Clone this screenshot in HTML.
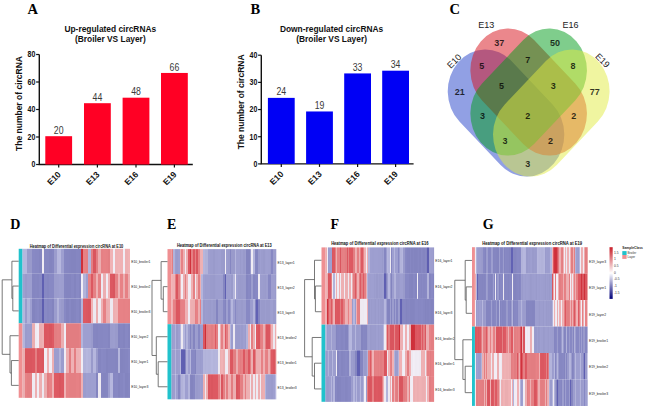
<!DOCTYPE html><html><head><meta charset="utf-8"><style>html,body{margin:0;padding:0;background:#fff;width:645px;height:410px;overflow:hidden}svg{display:block}</style></head><body><svg width="645" height="410" viewBox="0 0 645 410">
<rect width="645" height="410" fill="#fff"/>
<text x="27.40" y="13.80" font-family="Liberation Serif, serif" font-size="14.5" font-weight="bold" text-anchor="start" fill="#000">A</text>
<text x="110.30" y="32.40" font-family="Liberation Sans, sans-serif" font-size="8.4" font-weight="bold" text-anchor="middle" fill="#111">Up-regulated circRNAs</text>
<text x="110.30" y="42.20" font-family="Liberation Sans, sans-serif" font-size="8.4" font-weight="bold" text-anchor="middle" fill="#111">(Broiler VS Layer)</text>
<text transform="translate(19.3 103.5) rotate(-90)" x="0" y="3" font-family="Liberation Sans, sans-serif" font-size="8.5" font-weight="bold" text-anchor="middle" fill="#111">The number of circRNA</text>
<path d="M39.3 54.5 V164.5 H192.8" fill="none" stroke="#111" stroke-width="1.4"/>
<path d="M36.099999999999994 164.50 H39.3" stroke="#111" stroke-width="1.2"/>
<text x="35.30" y="167.40" font-family="Liberation Sans, sans-serif" font-size="8.2" font-weight="bold" text-anchor="end" fill="#111" textLength="3.9" lengthAdjust="spacingAndGlyphs">0</text>
<path d="M36.099999999999994 137.00 H39.3" stroke="#111" stroke-width="1.2"/>
<text x="35.30" y="139.90" font-family="Liberation Sans, sans-serif" font-size="8.2" font-weight="bold" text-anchor="end" fill="#111" textLength="7.8" lengthAdjust="spacingAndGlyphs">20</text>
<path d="M36.099999999999994 109.50 H39.3" stroke="#111" stroke-width="1.2"/>
<text x="35.30" y="112.40" font-family="Liberation Sans, sans-serif" font-size="8.2" font-weight="bold" text-anchor="end" fill="#111" textLength="7.8" lengthAdjust="spacingAndGlyphs">40</text>
<path d="M36.099999999999994 82.00 H39.3" stroke="#111" stroke-width="1.2"/>
<text x="35.30" y="84.90" font-family="Liberation Sans, sans-serif" font-size="8.2" font-weight="bold" text-anchor="end" fill="#111" textLength="7.8" lengthAdjust="spacingAndGlyphs">60</text>
<path d="M36.099999999999994 54.50 H39.3" stroke="#111" stroke-width="1.2"/>
<text x="35.30" y="57.40" font-family="Liberation Sans, sans-serif" font-size="8.2" font-weight="bold" text-anchor="end" fill="#111" textLength="7.8" lengthAdjust="spacingAndGlyphs">80</text>
<rect x="45.3" y="136.20" width="26.8" height="28.30" fill="#ff0024"/>
<text x="58.70" y="133.80" font-family="Liberation Sans, sans-serif" font-size="10.2" font-weight="normal" text-anchor="middle" fill="#3a3a3a" textLength="9.7" lengthAdjust="spacingAndGlyphs">20</text>
<path d="M58.70 164.5 V167.5" stroke="#111" stroke-width="1.2"/>
<rect x="84.0" y="103.20" width="26.8" height="61.30" fill="#ff0024"/>
<text x="97.40" y="100.80" font-family="Liberation Sans, sans-serif" font-size="10.2" font-weight="normal" text-anchor="middle" fill="#3a3a3a" textLength="9.7" lengthAdjust="spacingAndGlyphs">44</text>
<path d="M97.40 164.5 V167.5" stroke="#111" stroke-width="1.2"/>
<rect x="122.6" y="97.70" width="26.8" height="66.80" fill="#ff0024"/>
<text x="136.00" y="95.30" font-family="Liberation Sans, sans-serif" font-size="10.2" font-weight="normal" text-anchor="middle" fill="#3a3a3a" textLength="9.7" lengthAdjust="spacingAndGlyphs">48</text>
<path d="M136.00 164.5 V167.5" stroke="#111" stroke-width="1.2"/>
<rect x="161.0" y="72.95" width="26.8" height="91.55" fill="#ff0024"/>
<text x="174.40" y="70.55" font-family="Liberation Sans, sans-serif" font-size="10.2" font-weight="normal" text-anchor="middle" fill="#3a3a3a" textLength="9.7" lengthAdjust="spacingAndGlyphs">66</text>
<path d="M174.40 164.5 V167.5" stroke="#111" stroke-width="1.2"/>
<text transform="translate(59.30 172.8) rotate(-45)" x="0" y="3.1" font-family="Liberation Sans, sans-serif" font-size="8.6" font-weight="bold" text-anchor="end" fill="#111">E10</text>
<text transform="translate(98.00 172.8) rotate(-45)" x="0" y="3.1" font-family="Liberation Sans, sans-serif" font-size="8.6" font-weight="bold" text-anchor="end" fill="#111">E13</text>
<text transform="translate(136.60 172.8) rotate(-45)" x="0" y="3.1" font-family="Liberation Sans, sans-serif" font-size="8.6" font-weight="bold" text-anchor="end" fill="#111">E16</text>
<text transform="translate(175.00 172.8) rotate(-45)" x="0" y="3.1" font-family="Liberation Sans, sans-serif" font-size="8.6" font-weight="bold" text-anchor="end" fill="#111">E19</text>
<text x="250.60" y="14.00" font-family="Liberation Serif, serif" font-size="14.5" font-weight="bold" text-anchor="start" fill="#000">B</text>
<text x="331.60" y="32.40" font-family="Liberation Sans, sans-serif" font-size="8.4" font-weight="bold" text-anchor="middle" fill="#111">Down-regulated circRNAs</text>
<text x="331.60" y="42.20" font-family="Liberation Sans, sans-serif" font-size="8.4" font-weight="bold" text-anchor="middle" fill="#111">(Broiler VS Layer)</text>
<text transform="translate(241.0 101.9) rotate(-90)" x="0" y="3" font-family="Liberation Sans, sans-serif" font-size="8.5" font-weight="bold" text-anchor="middle" fill="#111">The number of circRNA</text>
<path d="M261.3 55.2 V163.9 H413.6" fill="none" stroke="#111" stroke-width="1.4"/>
<path d="M258.1 163.90 H261.3" stroke="#111" stroke-width="1.2"/>
<text x="257.30" y="166.80" font-family="Liberation Sans, sans-serif" font-size="8.2" font-weight="bold" text-anchor="end" fill="#111" textLength="3.9" lengthAdjust="spacingAndGlyphs">0</text>
<path d="M258.1 136.72 H261.3" stroke="#111" stroke-width="1.2"/>
<text x="257.30" y="139.62" font-family="Liberation Sans, sans-serif" font-size="8.2" font-weight="bold" text-anchor="end" fill="#111" textLength="7.8" lengthAdjust="spacingAndGlyphs">10</text>
<path d="M258.1 109.55 H261.3" stroke="#111" stroke-width="1.2"/>
<text x="257.30" y="112.45" font-family="Liberation Sans, sans-serif" font-size="8.2" font-weight="bold" text-anchor="end" fill="#111" textLength="7.8" lengthAdjust="spacingAndGlyphs">20</text>
<path d="M258.1 82.38 H261.3" stroke="#111" stroke-width="1.2"/>
<text x="257.30" y="85.28" font-family="Liberation Sans, sans-serif" font-size="8.2" font-weight="bold" text-anchor="end" fill="#111" textLength="7.8" lengthAdjust="spacingAndGlyphs">30</text>
<path d="M258.1 55.20 H261.3" stroke="#111" stroke-width="1.2"/>
<text x="257.30" y="58.10" font-family="Liberation Sans, sans-serif" font-size="8.2" font-weight="bold" text-anchor="end" fill="#111" textLength="7.8" lengthAdjust="spacingAndGlyphs">40</text>
<rect x="267.9" y="97.88" width="26.8" height="66.02" fill="#0000f5"/>
<text x="281.30" y="95.48" font-family="Liberation Sans, sans-serif" font-size="10.2" font-weight="normal" text-anchor="middle" fill="#3a3a3a" textLength="9.7" lengthAdjust="spacingAndGlyphs">24</text>
<path d="M281.30 163.9 V166.9" stroke="#111" stroke-width="1.2"/>
<rect x="306.1" y="111.47" width="26.8" height="52.43" fill="#0000f5"/>
<text x="319.50" y="109.07" font-family="Liberation Sans, sans-serif" font-size="10.2" font-weight="normal" text-anchor="middle" fill="#3a3a3a" textLength="9.7" lengthAdjust="spacingAndGlyphs">19</text>
<path d="M319.50 163.9 V166.9" stroke="#111" stroke-width="1.2"/>
<rect x="344.2" y="73.42" width="26.8" height="90.48" fill="#0000f5"/>
<text x="357.60" y="71.02" font-family="Liberation Sans, sans-serif" font-size="10.2" font-weight="normal" text-anchor="middle" fill="#3a3a3a" textLength="9.7" lengthAdjust="spacingAndGlyphs">33</text>
<path d="M357.60 163.9 V166.9" stroke="#111" stroke-width="1.2"/>
<rect x="382.2" y="70.70" width="26.8" height="93.20" fill="#0000f5"/>
<text x="395.60" y="68.30" font-family="Liberation Sans, sans-serif" font-size="10.2" font-weight="normal" text-anchor="middle" fill="#3a3a3a" textLength="9.7" lengthAdjust="spacingAndGlyphs">34</text>
<path d="M395.60 163.9 V166.9" stroke="#111" stroke-width="1.2"/>
<text transform="translate(281.90 172.5) rotate(-45)" x="0" y="3.1" font-family="Liberation Sans, sans-serif" font-size="8.6" font-weight="bold" text-anchor="end" fill="#111">E10</text>
<text transform="translate(320.10 172.5) rotate(-45)" x="0" y="3.1" font-family="Liberation Sans, sans-serif" font-size="8.6" font-weight="bold" text-anchor="end" fill="#111">E13</text>
<text transform="translate(358.20 172.5) rotate(-45)" x="0" y="3.1" font-family="Liberation Sans, sans-serif" font-size="8.6" font-weight="bold" text-anchor="end" fill="#111">E16</text>
<text transform="translate(396.20 172.5) rotate(-45)" x="0" y="3.1" font-family="Liberation Sans, sans-serif" font-size="8.6" font-weight="bold" text-anchor="end" fill="#111">E19</text>
<text x="449.60" y="13.50" font-family="Liberation Serif, serif" font-size="14.5" font-weight="bold" text-anchor="start" fill="#000">C</text>
<g transform="translate(506.01 112.97) scale(1 1.109) rotate(43.58)"><rect x="-66.09" y="-37.69" width="132.19" height="75.38" rx="37.69" ry="37.69" fill="#2341c9" fill-opacity="0.5"/></g>
<g transform="translate(528.66 92.01) scale(1 1.109) rotate(43.58)"><rect x="-66.09" y="-37.69" width="132.19" height="75.38" rx="37.69" ry="37.69" fill="#d70f19" fill-opacity="0.5"/></g>
<g transform="translate(528.66 92.01) scale(1 1.109) rotate(136.42)"><rect x="-66.09" y="-37.69" width="132.19" height="75.38" rx="37.69" ry="37.69" fill="#009b19" fill-opacity="0.5"/></g>
<g transform="translate(551.30 112.97) scale(1 1.109) rotate(136.42)"><rect x="-66.09" y="-37.69" width="132.19" height="75.38" rx="37.69" ry="37.69" fill="#e1eb41" fill-opacity="0.5"/></g>
<text x="459.70" y="95.30" font-family="Liberation Sans, sans-serif" font-size="9.0" font-weight="bold" text-anchor="middle" fill="#000" fill-opacity="0.78">21</text>
<text x="499.20" y="46.20" font-family="Liberation Sans, sans-serif" font-size="9.0" font-weight="bold" text-anchor="middle" fill="#000" fill-opacity="0.78">37</text>
<text x="554.90" y="46.20" font-family="Liberation Sans, sans-serif" font-size="9.0" font-weight="bold" text-anchor="middle" fill="#000" fill-opacity="0.78">50</text>
<text x="594.80" y="95.30" font-family="Liberation Sans, sans-serif" font-size="9.0" font-weight="bold" text-anchor="middle" fill="#000" fill-opacity="0.78">77</text>
<text x="481.70" y="69.00" font-family="Liberation Sans, sans-serif" font-size="9.0" font-weight="bold" text-anchor="middle" fill="#000" fill-opacity="0.78">5</text>
<text x="527.70" y="62.90" font-family="Liberation Sans, sans-serif" font-size="9.0" font-weight="bold" text-anchor="middle" fill="#000" fill-opacity="0.78">7</text>
<text x="572.90" y="69.00" font-family="Liberation Sans, sans-serif" font-size="9.0" font-weight="bold" text-anchor="middle" fill="#000" fill-opacity="0.78">8</text>
<text x="501.40" y="89.20" font-family="Liberation Sans, sans-serif" font-size="9.0" font-weight="bold" text-anchor="middle" fill="#000" fill-opacity="0.78">5</text>
<text x="553.20" y="89.20" font-family="Liberation Sans, sans-serif" font-size="9.0" font-weight="bold" text-anchor="middle" fill="#000" fill-opacity="0.78">3</text>
<text x="482.50" y="119.40" font-family="Liberation Sans, sans-serif" font-size="9.0" font-weight="bold" text-anchor="middle" fill="#000" fill-opacity="0.78">3</text>
<text x="527.70" y="118.60" font-family="Liberation Sans, sans-serif" font-size="9.0" font-weight="bold" text-anchor="middle" fill="#000" fill-opacity="0.78">2</text>
<text x="573.80" y="118.60" font-family="Liberation Sans, sans-serif" font-size="9.0" font-weight="bold" text-anchor="middle" fill="#000" fill-opacity="0.78">2</text>
<text x="504.90" y="144.00" font-family="Liberation Sans, sans-serif" font-size="9.0" font-weight="bold" text-anchor="middle" fill="#000" fill-opacity="0.78">3</text>
<text x="550.50" y="144.00" font-family="Liberation Sans, sans-serif" font-size="9.0" font-weight="bold" text-anchor="middle" fill="#000" fill-opacity="0.78">2</text>
<text x="527.70" y="166.80" font-family="Liberation Sans, sans-serif" font-size="9.0" font-weight="bold" text-anchor="middle" fill="#000" fill-opacity="0.78">3</text>
<text transform="translate(454.2 61.1) rotate(-45)" x="0" y="3.2" font-family="Liberation Sans, sans-serif" font-size="9" text-anchor="middle" fill="#222">E10</text>
<text x="486.20" y="28.30" font-family="Liberation Sans, sans-serif" font-size="9" font-weight="normal" text-anchor="middle" fill="#222">E13</text>
<text x="570.50" y="27.60" font-family="Liberation Sans, sans-serif" font-size="9" font-weight="normal" text-anchor="middle" fill="#222">E16</text>
<text transform="translate(602.7 60.3) rotate(45)" x="0" y="3.2" font-family="Liberation Sans, sans-serif" font-size="9" text-anchor="middle" fill="#222">E19</text>
<text x="10.20" y="228.50" font-family="Liberation Serif, serif" font-size="14" font-weight="bold" text-anchor="start" fill="#000">D</text>
<defs><linearGradient id="gD0" gradientUnits="userSpaceOnUse" x1="22.30" y1="0" x2="130.00" y2="0"><stop offset="0.0000" stop-color="#b6b7de"/><stop offset="0.0227" stop-color="#b6b7de"/><stop offset="0.0227" stop-color="#b6b7de"/><stop offset="0.0455" stop-color="#b6b7de"/><stop offset="0.0455" stop-color="#999acb"/><stop offset="0.0682" stop-color="#999acb"/><stop offset="0.0682" stop-color="#999acb"/><stop offset="0.0909" stop-color="#999acb"/><stop offset="0.0909" stop-color="#8889c4"/><stop offset="0.1136" stop-color="#8889c4"/><stop offset="0.1136" stop-color="#8788c3"/><stop offset="0.1364" stop-color="#8788c3"/><stop offset="0.1364" stop-color="#8788c3"/><stop offset="0.1591" stop-color="#8788c3"/><stop offset="0.1591" stop-color="#8485c0"/><stop offset="0.1818" stop-color="#8485c0"/><stop offset="0.1818" stop-color="#f0ecf4"/><stop offset="0.2045" stop-color="#f0ecf4"/><stop offset="0.2045" stop-color="#8687c2"/><stop offset="0.2273" stop-color="#8687c2"/><stop offset="0.2273" stop-color="#8687c2"/><stop offset="0.2500" stop-color="#8687c2"/><stop offset="0.2500" stop-color="#8384bf"/><stop offset="0.2727" stop-color="#8384bf"/><stop offset="0.2727" stop-color="#8586c1"/><stop offset="0.2955" stop-color="#8586c1"/><stop offset="0.2955" stop-color="#9b9ccd"/><stop offset="0.3182" stop-color="#9b9ccd"/><stop offset="0.3182" stop-color="#b5b6dd"/><stop offset="0.3409" stop-color="#b5b6dd"/><stop offset="0.3409" stop-color="#b6b7de"/><stop offset="0.3636" stop-color="#b6b7de"/><stop offset="0.3636" stop-color="#9e9fd0"/><stop offset="0.3864" stop-color="#9e9fd0"/><stop offset="0.3864" stop-color="#8687c2"/><stop offset="0.4091" stop-color="#8687c2"/><stop offset="0.4091" stop-color="#8586c1"/><stop offset="0.4318" stop-color="#8586c1"/><stop offset="0.4318" stop-color="#8485c0"/><stop offset="0.4545" stop-color="#8485c0"/><stop offset="0.4545" stop-color="#8384bf"/><stop offset="0.4773" stop-color="#8384bf"/><stop offset="0.4773" stop-color="#8384bf"/><stop offset="0.5000" stop-color="#8384bf"/><stop offset="0.5000" stop-color="#8586c1"/><stop offset="0.5227" stop-color="#8586c1"/><stop offset="0.5227" stop-color="#8485c0"/><stop offset="0.5455" stop-color="#8485c0"/><stop offset="0.5455" stop-color="#cf313b"/><stop offset="0.5682" stop-color="#cf313b"/><stop offset="0.5682" stop-color="#e78286"/><stop offset="0.5909" stop-color="#e78286"/><stop offset="0.5909" stop-color="#e58084"/><stop offset="0.6136" stop-color="#e58084"/><stop offset="0.6136" stop-color="#b4b5dc"/><stop offset="0.6364" stop-color="#b4b5dc"/><stop offset="0.6364" stop-color="#e37e82"/><stop offset="0.6591" stop-color="#e37e82"/><stop offset="0.6591" stop-color="#d9555e"/><stop offset="0.6818" stop-color="#d9555e"/><stop offset="0.6818" stop-color="#e37e82"/><stop offset="0.7045" stop-color="#e37e82"/><stop offset="0.7045" stop-color="#ebadb0"/><stop offset="0.7273" stop-color="#ebadb0"/><stop offset="0.7273" stop-color="#e58084"/><stop offset="0.7500" stop-color="#e58084"/><stop offset="0.7500" stop-color="#e78286"/><stop offset="0.7727" stop-color="#e78286"/><stop offset="0.7727" stop-color="#e68185"/><stop offset="0.7955" stop-color="#e68185"/><stop offset="0.7955" stop-color="#e37e82"/><stop offset="0.8182" stop-color="#e37e82"/><stop offset="0.8182" stop-color="#f0b2b5"/><stop offset="0.8409" stop-color="#f0b2b5"/><stop offset="0.8409" stop-color="#f1edf5"/><stop offset="0.8636" stop-color="#f1edf5"/><stop offset="0.8636" stop-color="#efb1b4"/><stop offset="0.8864" stop-color="#efb1b4"/><stop offset="0.8864" stop-color="#f0b2b5"/><stop offset="0.9091" stop-color="#f0b2b5"/><stop offset="0.9091" stop-color="#efb1b4"/><stop offset="0.9318" stop-color="#efb1b4"/><stop offset="0.9318" stop-color="#f1edf5"/><stop offset="0.9545" stop-color="#f1edf5"/><stop offset="0.9545" stop-color="#edafb2"/><stop offset="0.9773" stop-color="#edafb2"/><stop offset="0.9773" stop-color="#f0b2b5"/><stop offset="1.0000" stop-color="#f0b2b5"/></linearGradient></defs>
<rect x="22.30" y="248.80" width="107.70" height="24.91" fill="url(#gD0)"/>
<defs><linearGradient id="gD1" gradientUnits="userSpaceOnUse" x1="22.30" y1="0" x2="130.00" y2="0"><stop offset="0.0000" stop-color="#9e9fd0"/><stop offset="0.0227" stop-color="#9e9fd0"/><stop offset="0.0227" stop-color="#999acb"/><stop offset="0.0455" stop-color="#999acb"/><stop offset="0.0455" stop-color="#9d9ecf"/><stop offset="0.0682" stop-color="#9d9ecf"/><stop offset="0.0682" stop-color="#9d9ecf"/><stop offset="0.0909" stop-color="#9d9ecf"/><stop offset="0.0909" stop-color="#8586c1"/><stop offset="0.1136" stop-color="#8586c1"/><stop offset="0.1136" stop-color="#8687c2"/><stop offset="0.1364" stop-color="#8687c2"/><stop offset="0.1364" stop-color="#8586c1"/><stop offset="0.1591" stop-color="#8586c1"/><stop offset="0.1591" stop-color="#8889c4"/><stop offset="0.1818" stop-color="#8889c4"/><stop offset="0.1818" stop-color="#6060b2"/><stop offset="0.2045" stop-color="#6060b2"/><stop offset="0.2045" stop-color="#8788c3"/><stop offset="0.2273" stop-color="#8788c3"/><stop offset="0.2273" stop-color="#8586c1"/><stop offset="0.2500" stop-color="#8586c1"/><stop offset="0.2500" stop-color="#8889c4"/><stop offset="0.2727" stop-color="#8889c4"/><stop offset="0.2727" stop-color="#8889c4"/><stop offset="0.2955" stop-color="#8889c4"/><stop offset="0.2955" stop-color="#9b9ccd"/><stop offset="0.3182" stop-color="#9b9ccd"/><stop offset="0.3182" stop-color="#9c9dce"/><stop offset="0.3409" stop-color="#9c9dce"/><stop offset="0.3409" stop-color="#9e9fd0"/><stop offset="0.3636" stop-color="#9e9fd0"/><stop offset="0.3636" stop-color="#9d9ecf"/><stop offset="0.3864" stop-color="#9d9ecf"/><stop offset="0.3864" stop-color="#8586c1"/><stop offset="0.4091" stop-color="#8586c1"/><stop offset="0.4091" stop-color="#8485c0"/><stop offset="0.4318" stop-color="#8485c0"/><stop offset="0.4318" stop-color="#8485c0"/><stop offset="0.4545" stop-color="#8485c0"/><stop offset="0.4545" stop-color="#8788c3"/><stop offset="0.4773" stop-color="#8788c3"/><stop offset="0.4773" stop-color="#8384bf"/><stop offset="0.5000" stop-color="#8384bf"/><stop offset="0.5000" stop-color="#8889c4"/><stop offset="0.5227" stop-color="#8889c4"/><stop offset="0.5227" stop-color="#8485c0"/><stop offset="0.5455" stop-color="#8485c0"/><stop offset="0.5455" stop-color="#f2eef6"/><stop offset="0.5682" stop-color="#f2eef6"/><stop offset="0.5682" stop-color="#b2b3da"/><stop offset="0.5909" stop-color="#b2b3da"/><stop offset="0.5909" stop-color="#9e9fd0"/><stop offset="0.6136" stop-color="#9e9fd0"/><stop offset="0.6136" stop-color="#e68185"/><stop offset="0.6364" stop-color="#e68185"/><stop offset="0.6364" stop-color="#dc5861"/><stop offset="0.6591" stop-color="#dc5861"/><stop offset="0.6591" stop-color="#e58084"/><stop offset="0.6818" stop-color="#e58084"/><stop offset="0.6818" stop-color="#eeb0b3"/><stop offset="0.7045" stop-color="#eeb0b3"/><stop offset="0.7045" stop-color="#e58084"/><stop offset="0.7273" stop-color="#e58084"/><stop offset="0.7273" stop-color="#eeeaf2"/><stop offset="0.7500" stop-color="#eeeaf2"/><stop offset="0.7500" stop-color="#ecaeb1"/><stop offset="0.7727" stop-color="#ecaeb1"/><stop offset="0.7727" stop-color="#f0ecf4"/><stop offset="0.7955" stop-color="#f0ecf4"/><stop offset="0.7955" stop-color="#f0b2b5"/><stop offset="0.8182" stop-color="#f0b2b5"/><stop offset="0.8182" stop-color="#dc5861"/><stop offset="0.8409" stop-color="#dc5861"/><stop offset="0.8409" stop-color="#d9555e"/><stop offset="0.8636" stop-color="#d9555e"/><stop offset="0.8636" stop-color="#e68185"/><stop offset="0.8864" stop-color="#e68185"/><stop offset="0.8864" stop-color="#efb1b4"/><stop offset="0.9091" stop-color="#efb1b4"/><stop offset="0.9091" stop-color="#e78286"/><stop offset="0.9318" stop-color="#e78286"/><stop offset="0.9318" stop-color="#ecaeb1"/><stop offset="0.9545" stop-color="#ecaeb1"/><stop offset="0.9545" stop-color="#e68185"/><stop offset="0.9773" stop-color="#e68185"/><stop offset="0.9773" stop-color="#ebadb0"/><stop offset="1.0000" stop-color="#ebadb0"/></linearGradient></defs>
<rect x="22.30" y="273.63" width="107.70" height="24.91" fill="url(#gD1)"/>
<defs><linearGradient id="gD2" gradientUnits="userSpaceOnUse" x1="22.30" y1="0" x2="130.00" y2="0"><stop offset="0.0000" stop-color="#b4b5dc"/><stop offset="0.0227" stop-color="#b4b5dc"/><stop offset="0.0227" stop-color="#9a9bcc"/><stop offset="0.0455" stop-color="#9a9bcc"/><stop offset="0.0455" stop-color="#b2b3da"/><stop offset="0.0682" stop-color="#b2b3da"/><stop offset="0.0682" stop-color="#9e9fd0"/><stop offset="0.0909" stop-color="#9e9fd0"/><stop offset="0.0909" stop-color="#8384bf"/><stop offset="0.1136" stop-color="#8384bf"/><stop offset="0.1136" stop-color="#8687c2"/><stop offset="0.1364" stop-color="#8687c2"/><stop offset="0.1364" stop-color="#8889c4"/><stop offset="0.1591" stop-color="#8889c4"/><stop offset="0.1591" stop-color="#8485c0"/><stop offset="0.1818" stop-color="#8485c0"/><stop offset="0.1818" stop-color="#5e5eb0"/><stop offset="0.2045" stop-color="#5e5eb0"/><stop offset="0.2045" stop-color="#8889c4"/><stop offset="0.2273" stop-color="#8889c4"/><stop offset="0.2273" stop-color="#8586c1"/><stop offset="0.2500" stop-color="#8586c1"/><stop offset="0.2500" stop-color="#8788c3"/><stop offset="0.2727" stop-color="#8788c3"/><stop offset="0.2727" stop-color="#8384bf"/><stop offset="0.2955" stop-color="#8384bf"/><stop offset="0.2955" stop-color="#9b9ccd"/><stop offset="0.3182" stop-color="#9b9ccd"/><stop offset="0.3182" stop-color="#b2b3da"/><stop offset="0.3409" stop-color="#b2b3da"/><stop offset="0.3409" stop-color="#9d9ecf"/><stop offset="0.3636" stop-color="#9d9ecf"/><stop offset="0.3636" stop-color="#999acb"/><stop offset="0.3864" stop-color="#999acb"/><stop offset="0.3864" stop-color="#8889c4"/><stop offset="0.4091" stop-color="#8889c4"/><stop offset="0.4091" stop-color="#8384bf"/><stop offset="0.4318" stop-color="#8384bf"/><stop offset="0.4318" stop-color="#8788c3"/><stop offset="0.4545" stop-color="#8788c3"/><stop offset="0.4545" stop-color="#8384bf"/><stop offset="0.4773" stop-color="#8384bf"/><stop offset="0.4773" stop-color="#8485c0"/><stop offset="0.5000" stop-color="#8485c0"/><stop offset="0.5000" stop-color="#8788c3"/><stop offset="0.5227" stop-color="#8788c3"/><stop offset="0.5227" stop-color="#8384bf"/><stop offset="0.5455" stop-color="#8384bf"/><stop offset="0.5455" stop-color="#b2b3da"/><stop offset="0.5682" stop-color="#b2b3da"/><stop offset="0.5682" stop-color="#dd5962"/><stop offset="0.5909" stop-color="#dd5962"/><stop offset="0.5909" stop-color="#db5760"/><stop offset="0.6136" stop-color="#db5760"/><stop offset="0.6136" stop-color="#d9555e"/><stop offset="0.6364" stop-color="#d9555e"/><stop offset="0.6364" stop-color="#f0b2b5"/><stop offset="0.6591" stop-color="#f0b2b5"/><stop offset="0.6591" stop-color="#ede9f1"/><stop offset="0.6818" stop-color="#ede9f1"/><stop offset="0.6818" stop-color="#ebadb0"/><stop offset="0.7045" stop-color="#ebadb0"/><stop offset="0.7045" stop-color="#efebf3"/><stop offset="0.7273" stop-color="#efebf3"/><stop offset="0.7273" stop-color="#eeb0b3"/><stop offset="0.7500" stop-color="#eeb0b3"/><stop offset="0.7500" stop-color="#e68185"/><stop offset="0.7727" stop-color="#e68185"/><stop offset="0.7727" stop-color="#ebadb0"/><stop offset="0.7955" stop-color="#ebadb0"/><stop offset="0.7955" stop-color="#edafb2"/><stop offset="0.8182" stop-color="#edafb2"/><stop offset="0.8182" stop-color="#ede9f1"/><stop offset="0.8409" stop-color="#ede9f1"/><stop offset="0.8409" stop-color="#edafb2"/><stop offset="0.8636" stop-color="#edafb2"/><stop offset="0.8636" stop-color="#efb1b4"/><stop offset="0.8864" stop-color="#efb1b4"/><stop offset="0.8864" stop-color="#e68185"/><stop offset="0.9091" stop-color="#e68185"/><stop offset="0.9091" stop-color="#e78286"/><stop offset="0.9318" stop-color="#e78286"/><stop offset="0.9318" stop-color="#e68185"/><stop offset="0.9545" stop-color="#e68185"/><stop offset="0.9545" stop-color="#e78286"/><stop offset="0.9773" stop-color="#e78286"/><stop offset="0.9773" stop-color="#e68185"/><stop offset="1.0000" stop-color="#e68185"/></linearGradient></defs>
<rect x="22.30" y="298.47" width="107.70" height="24.91" fill="url(#gD2)"/>
<defs><linearGradient id="gD3" gradientUnits="userSpaceOnUse" x1="22.30" y1="0" x2="130.00" y2="0"><stop offset="0.0000" stop-color="#b3b4db"/><stop offset="0.0227" stop-color="#b3b4db"/><stop offset="0.0227" stop-color="#9a9bcc"/><stop offset="0.0455" stop-color="#9a9bcc"/><stop offset="0.0455" stop-color="#9c9dce"/><stop offset="0.0682" stop-color="#9c9dce"/><stop offset="0.0682" stop-color="#9a9bcc"/><stop offset="0.0909" stop-color="#9a9bcc"/><stop offset="0.0909" stop-color="#ebadb0"/><stop offset="0.1136" stop-color="#ebadb0"/><stop offset="0.1136" stop-color="#efebf3"/><stop offset="0.1364" stop-color="#efebf3"/><stop offset="0.1364" stop-color="#f2eef6"/><stop offset="0.1591" stop-color="#f2eef6"/><stop offset="0.1591" stop-color="#ebadb0"/><stop offset="0.1818" stop-color="#ebadb0"/><stop offset="0.1818" stop-color="#eeb0b3"/><stop offset="0.2045" stop-color="#eeb0b3"/><stop offset="0.2045" stop-color="#db5760"/><stop offset="0.2273" stop-color="#db5760"/><stop offset="0.2273" stop-color="#dc5861"/><stop offset="0.2500" stop-color="#dc5861"/><stop offset="0.2500" stop-color="#d9555e"/><stop offset="0.2727" stop-color="#d9555e"/><stop offset="0.2727" stop-color="#de5a63"/><stop offset="0.2955" stop-color="#de5a63"/><stop offset="0.2955" stop-color="#e37e82"/><stop offset="0.3182" stop-color="#e37e82"/><stop offset="0.3182" stop-color="#e58084"/><stop offset="0.3409" stop-color="#e58084"/><stop offset="0.3409" stop-color="#e47f83"/><stop offset="0.3636" stop-color="#e47f83"/><stop offset="0.3636" stop-color="#ebadb0"/><stop offset="0.3864" stop-color="#ebadb0"/><stop offset="0.3864" stop-color="#f0ecf4"/><stop offset="0.4091" stop-color="#f0ecf4"/><stop offset="0.4091" stop-color="#e27d81"/><stop offset="0.4318" stop-color="#e27d81"/><stop offset="0.4318" stop-color="#e27d81"/><stop offset="0.4545" stop-color="#e27d81"/><stop offset="0.4545" stop-color="#e27d81"/><stop offset="0.4773" stop-color="#e27d81"/><stop offset="0.4773" stop-color="#e27d81"/><stop offset="0.5000" stop-color="#e27d81"/><stop offset="0.5000" stop-color="#e27d81"/><stop offset="0.5227" stop-color="#e27d81"/><stop offset="0.5227" stop-color="#e58084"/><stop offset="0.5455" stop-color="#e58084"/><stop offset="0.5455" stop-color="#b4b5dc"/><stop offset="0.5682" stop-color="#b4b5dc"/><stop offset="0.5682" stop-color="#9e9fd0"/><stop offset="0.5909" stop-color="#9e9fd0"/><stop offset="0.5909" stop-color="#9e9fd0"/><stop offset="0.6136" stop-color="#9e9fd0"/><stop offset="0.6136" stop-color="#9e9fd0"/><stop offset="0.6364" stop-color="#9e9fd0"/><stop offset="0.6364" stop-color="#9a9bcc"/><stop offset="0.6591" stop-color="#9a9bcc"/><stop offset="0.6591" stop-color="#8586c1"/><stop offset="0.6818" stop-color="#8586c1"/><stop offset="0.6818" stop-color="#8485c0"/><stop offset="0.7045" stop-color="#8485c0"/><stop offset="0.7045" stop-color="#8687c2"/><stop offset="0.7273" stop-color="#8687c2"/><stop offset="0.7273" stop-color="#8687c2"/><stop offset="0.7500" stop-color="#8687c2"/><stop offset="0.7500" stop-color="#8788c3"/><stop offset="0.7727" stop-color="#8788c3"/><stop offset="0.7727" stop-color="#8788c3"/><stop offset="0.7955" stop-color="#8788c3"/><stop offset="0.7955" stop-color="#8485c0"/><stop offset="0.8182" stop-color="#8485c0"/><stop offset="0.8182" stop-color="#9b9ccd"/><stop offset="0.8409" stop-color="#9b9ccd"/><stop offset="0.8409" stop-color="#9c9dce"/><stop offset="0.8636" stop-color="#9c9dce"/><stop offset="0.8636" stop-color="#999acb"/><stop offset="0.8864" stop-color="#999acb"/><stop offset="0.8864" stop-color="#8384bf"/><stop offset="0.9091" stop-color="#8384bf"/><stop offset="0.9091" stop-color="#8586c1"/><stop offset="0.9318" stop-color="#8586c1"/><stop offset="0.9318" stop-color="#8384bf"/><stop offset="0.9545" stop-color="#8384bf"/><stop offset="0.9545" stop-color="#8788c3"/><stop offset="0.9773" stop-color="#8788c3"/><stop offset="0.9773" stop-color="#8485c0"/><stop offset="1.0000" stop-color="#8485c0"/></linearGradient></defs>
<rect x="22.30" y="323.30" width="107.70" height="24.91" fill="url(#gD3)"/>
<defs><linearGradient id="gD4" gradientUnits="userSpaceOnUse" x1="22.30" y1="0" x2="130.00" y2="0"><stop offset="0.0000" stop-color="#ebadb0"/><stop offset="0.0227" stop-color="#ebadb0"/><stop offset="0.0227" stop-color="#da565f"/><stop offset="0.0455" stop-color="#da565f"/><stop offset="0.0455" stop-color="#da565f"/><stop offset="0.0682" stop-color="#da565f"/><stop offset="0.0682" stop-color="#da565f"/><stop offset="0.0909" stop-color="#da565f"/><stop offset="0.0909" stop-color="#dc5861"/><stop offset="0.1136" stop-color="#dc5861"/><stop offset="0.1136" stop-color="#e47f83"/><stop offset="0.1364" stop-color="#e47f83"/><stop offset="0.1364" stop-color="#da565f"/><stop offset="0.1591" stop-color="#da565f"/><stop offset="0.1591" stop-color="#dc5861"/><stop offset="0.1818" stop-color="#dc5861"/><stop offset="0.1818" stop-color="#da565f"/><stop offset="0.2045" stop-color="#da565f"/><stop offset="0.2045" stop-color="#f2eef6"/><stop offset="0.2273" stop-color="#f2eef6"/><stop offset="0.2273" stop-color="#f0b2b5"/><stop offset="0.2500" stop-color="#f0b2b5"/><stop offset="0.2500" stop-color="#f1edf5"/><stop offset="0.2727" stop-color="#f1edf5"/><stop offset="0.2727" stop-color="#edafb2"/><stop offset="0.2955" stop-color="#edafb2"/><stop offset="0.2955" stop-color="#9c9dce"/><stop offset="0.3182" stop-color="#9c9dce"/><stop offset="0.3182" stop-color="#9c9dce"/><stop offset="0.3409" stop-color="#9c9dce"/><stop offset="0.3409" stop-color="#b1b2d9"/><stop offset="0.3636" stop-color="#b1b2d9"/><stop offset="0.3636" stop-color="#9b9ccd"/><stop offset="0.3864" stop-color="#9b9ccd"/><stop offset="0.3864" stop-color="#f0ecf4"/><stop offset="0.4091" stop-color="#f0ecf4"/><stop offset="0.4091" stop-color="#ecaeb1"/><stop offset="0.4318" stop-color="#ecaeb1"/><stop offset="0.4318" stop-color="#e27d81"/><stop offset="0.4545" stop-color="#e27d81"/><stop offset="0.4545" stop-color="#efb1b4"/><stop offset="0.4773" stop-color="#efb1b4"/><stop offset="0.4773" stop-color="#e47f83"/><stop offset="0.5000" stop-color="#e47f83"/><stop offset="0.5000" stop-color="#eeb0b3"/><stop offset="0.5227" stop-color="#eeb0b3"/><stop offset="0.5227" stop-color="#f0b2b5"/><stop offset="0.5455" stop-color="#f0b2b5"/><stop offset="0.5455" stop-color="#f0ecf4"/><stop offset="0.5682" stop-color="#f0ecf4"/><stop offset="0.5682" stop-color="#b2b3da"/><stop offset="0.5909" stop-color="#b2b3da"/><stop offset="0.5909" stop-color="#b6b7de"/><stop offset="0.6136" stop-color="#b6b7de"/><stop offset="0.6136" stop-color="#b3b4db"/><stop offset="0.6364" stop-color="#b3b4db"/><stop offset="0.6364" stop-color="#999acb"/><stop offset="0.6591" stop-color="#999acb"/><stop offset="0.6591" stop-color="#b5b6dd"/><stop offset="0.6818" stop-color="#b5b6dd"/><stop offset="0.6818" stop-color="#999acb"/><stop offset="0.7045" stop-color="#999acb"/><stop offset="0.7045" stop-color="#8485c0"/><stop offset="0.7273" stop-color="#8485c0"/><stop offset="0.7273" stop-color="#8889c4"/><stop offset="0.7500" stop-color="#8889c4"/><stop offset="0.7500" stop-color="#8788c3"/><stop offset="0.7727" stop-color="#8788c3"/><stop offset="0.7727" stop-color="#8384bf"/><stop offset="0.7955" stop-color="#8384bf"/><stop offset="0.7955" stop-color="#8586c1"/><stop offset="0.8182" stop-color="#8586c1"/><stop offset="0.8182" stop-color="#8586c1"/><stop offset="0.8409" stop-color="#8586c1"/><stop offset="0.8409" stop-color="#8586c1"/><stop offset="0.8636" stop-color="#8586c1"/><stop offset="0.8636" stop-color="#8485c0"/><stop offset="0.8864" stop-color="#8485c0"/><stop offset="0.8864" stop-color="#b4b5dc"/><stop offset="0.9091" stop-color="#b4b5dc"/><stop offset="0.9091" stop-color="#8384bf"/><stop offset="0.9318" stop-color="#8384bf"/><stop offset="0.9318" stop-color="#8485c0"/><stop offset="0.9545" stop-color="#8485c0"/><stop offset="0.9545" stop-color="#8586c1"/><stop offset="0.9773" stop-color="#8586c1"/><stop offset="0.9773" stop-color="#8889c4"/><stop offset="1.0000" stop-color="#8889c4"/></linearGradient></defs>
<rect x="22.30" y="348.13" width="107.70" height="24.91" fill="url(#gD4)"/>
<defs><linearGradient id="gD5" gradientUnits="userSpaceOnUse" x1="22.30" y1="0" x2="130.00" y2="0"><stop offset="0.0000" stop-color="#ebadb0"/><stop offset="0.0227" stop-color="#ebadb0"/><stop offset="0.0227" stop-color="#e68185"/><stop offset="0.0455" stop-color="#e68185"/><stop offset="0.0455" stop-color="#e37e82"/><stop offset="0.0682" stop-color="#e37e82"/><stop offset="0.0682" stop-color="#e58084"/><stop offset="0.0909" stop-color="#e58084"/><stop offset="0.0909" stop-color="#efebf3"/><stop offset="0.1136" stop-color="#efebf3"/><stop offset="0.1136" stop-color="#edafb2"/><stop offset="0.1364" stop-color="#edafb2"/><stop offset="0.1364" stop-color="#f1edf5"/><stop offset="0.1591" stop-color="#f1edf5"/><stop offset="0.1591" stop-color="#edafb2"/><stop offset="0.1818" stop-color="#edafb2"/><stop offset="0.1818" stop-color="#ede9f1"/><stop offset="0.2045" stop-color="#ede9f1"/><stop offset="0.2045" stop-color="#ebadb0"/><stop offset="0.2273" stop-color="#ebadb0"/><stop offset="0.2273" stop-color="#e27d81"/><stop offset="0.2500" stop-color="#e27d81"/><stop offset="0.2500" stop-color="#e78286"/><stop offset="0.2727" stop-color="#e78286"/><stop offset="0.2727" stop-color="#eeb0b3"/><stop offset="0.2955" stop-color="#eeb0b3"/><stop offset="0.2955" stop-color="#de5a63"/><stop offset="0.3182" stop-color="#de5a63"/><stop offset="0.3182" stop-color="#dd5962"/><stop offset="0.3409" stop-color="#dd5962"/><stop offset="0.3409" stop-color="#d9555e"/><stop offset="0.3636" stop-color="#d9555e"/><stop offset="0.3636" stop-color="#dc5861"/><stop offset="0.3864" stop-color="#dc5861"/><stop offset="0.3864" stop-color="#efb1b4"/><stop offset="0.4091" stop-color="#efb1b4"/><stop offset="0.4091" stop-color="#e68185"/><stop offset="0.4318" stop-color="#e68185"/><stop offset="0.4318" stop-color="#e47f83"/><stop offset="0.4545" stop-color="#e47f83"/><stop offset="0.4545" stop-color="#e47f83"/><stop offset="0.4773" stop-color="#e47f83"/><stop offset="0.4773" stop-color="#e47f83"/><stop offset="0.5000" stop-color="#e47f83"/><stop offset="0.5000" stop-color="#e68185"/><stop offset="0.5227" stop-color="#e68185"/><stop offset="0.5227" stop-color="#e37e82"/><stop offset="0.5455" stop-color="#e37e82"/><stop offset="0.5455" stop-color="#eeb0b3"/><stop offset="0.5682" stop-color="#eeb0b3"/><stop offset="0.5682" stop-color="#9b9ccd"/><stop offset="0.5909" stop-color="#9b9ccd"/><stop offset="0.5909" stop-color="#9e9fd0"/><stop offset="0.6136" stop-color="#9e9fd0"/><stop offset="0.6136" stop-color="#9d9ecf"/><stop offset="0.6364" stop-color="#9d9ecf"/><stop offset="0.6364" stop-color="#9e9fd0"/><stop offset="0.6591" stop-color="#9e9fd0"/><stop offset="0.6591" stop-color="#9e9fd0"/><stop offset="0.6818" stop-color="#9e9fd0"/><stop offset="0.6818" stop-color="#8485c0"/><stop offset="0.7045" stop-color="#8485c0"/><stop offset="0.7045" stop-color="#eeeaf2"/><stop offset="0.7273" stop-color="#eeeaf2"/><stop offset="0.7273" stop-color="#8586c1"/><stop offset="0.7500" stop-color="#8586c1"/><stop offset="0.7500" stop-color="#8485c0"/><stop offset="0.7727" stop-color="#8485c0"/><stop offset="0.7727" stop-color="#8586c1"/><stop offset="0.7955" stop-color="#8586c1"/><stop offset="0.7955" stop-color="#9d9ecf"/><stop offset="0.8182" stop-color="#9d9ecf"/><stop offset="0.8182" stop-color="#b6b7de"/><stop offset="0.8409" stop-color="#b6b7de"/><stop offset="0.8409" stop-color="#8687c2"/><stop offset="0.8636" stop-color="#8687c2"/><stop offset="0.8636" stop-color="#8788c3"/><stop offset="0.8864" stop-color="#8788c3"/><stop offset="0.8864" stop-color="#8384bf"/><stop offset="0.9091" stop-color="#8384bf"/><stop offset="0.9091" stop-color="#8586c1"/><stop offset="0.9318" stop-color="#8586c1"/><stop offset="0.9318" stop-color="#8889c4"/><stop offset="0.9545" stop-color="#8889c4"/><stop offset="0.9545" stop-color="#8384bf"/><stop offset="0.9773" stop-color="#8384bf"/><stop offset="0.9773" stop-color="#8586c1"/><stop offset="1.0000" stop-color="#8586c1"/></linearGradient></defs>
<rect x="22.30" y="372.97" width="107.70" height="24.91" fill="url(#gD5)"/>
<rect x="18.7" y="248.80" width="3.60" height="74.50" fill="#21c2cc"/>
<rect x="18.7" y="323.30" width="3.60" height="74.50" fill="#ef8f92"/>
<text x="131.20" y="263.42" font-family="Liberation Sans, sans-serif" font-size="3.4" font-weight="normal" text-anchor="start" fill="#222">E10_broiler1</text>
<text x="131.20" y="288.25" font-family="Liberation Sans, sans-serif" font-size="3.4" font-weight="normal" text-anchor="start" fill="#222">E10_broiler2</text>
<text x="131.20" y="313.08" font-family="Liberation Sans, sans-serif" font-size="3.4" font-weight="normal" text-anchor="start" fill="#222">E10_broiler3</text>
<text x="131.20" y="337.92" font-family="Liberation Sans, sans-serif" font-size="3.4" font-weight="normal" text-anchor="start" fill="#222">E10_layer2</text>
<text x="131.20" y="362.75" font-family="Liberation Sans, sans-serif" font-size="3.4" font-weight="normal" text-anchor="start" fill="#222">E10_layer1</text>
<text x="131.20" y="387.58" font-family="Liberation Sans, sans-serif" font-size="3.4" font-weight="normal" text-anchor="start" fill="#222">E10_layer3</text>
<text x="76.50" y="247.60" font-family="Liberation Sans, sans-serif" font-size="4.5" font-weight="bold" text-anchor="middle" fill="#111" textLength="93.5" lengthAdjust="spacingAndGlyphs">Heatmap of Differential expression circRNA at E10</text>
<path d="M18.7 261.22 H11.9 V298.47 H12.8 M18.7 286.05 H12.8 V310.88 H18.7 M18.7 335.72 H10.0 V372.97 H11.4 M18.7 360.55 H11.4 V385.38 H18.7 M11.9 279.84 H2.2 V354.34 H10.0" fill="none" stroke="#606060" stroke-width="0.85"/>
<text x="167.00" y="228.60" font-family="Liberation Serif, serif" font-size="14" font-weight="bold" text-anchor="start" fill="#000">E</text>
<defs><linearGradient id="gE0" gradientUnits="userSpaceOnUse" x1="171.30" y1="0" x2="276.30" y2="0"><stop offset="0.0000" stop-color="#e37e82"/><stop offset="0.0159" stop-color="#e37e82"/><stop offset="0.0159" stop-color="#b2b3da"/><stop offset="0.0317" stop-color="#b2b3da"/><stop offset="0.0317" stop-color="#9d9ecf"/><stop offset="0.0476" stop-color="#9d9ecf"/><stop offset="0.0476" stop-color="#9a9bcc"/><stop offset="0.0635" stop-color="#9a9bcc"/><stop offset="0.0635" stop-color="#9d9ecf"/><stop offset="0.0794" stop-color="#9d9ecf"/><stop offset="0.0794" stop-color="#ecaeb1"/><stop offset="0.0952" stop-color="#ecaeb1"/><stop offset="0.0952" stop-color="#e68185"/><stop offset="0.1111" stop-color="#e68185"/><stop offset="0.1111" stop-color="#eeb0b3"/><stop offset="0.1270" stop-color="#eeb0b3"/><stop offset="0.1270" stop-color="#f1edf5"/><stop offset="0.1429" stop-color="#f1edf5"/><stop offset="0.1429" stop-color="#ecaeb1"/><stop offset="0.1587" stop-color="#ecaeb1"/><stop offset="0.1587" stop-color="#dc5861"/><stop offset="0.1746" stop-color="#dc5861"/><stop offset="0.1746" stop-color="#d1333d"/><stop offset="0.1905" stop-color="#d1333d"/><stop offset="0.1905" stop-color="#e58084"/><stop offset="0.2063" stop-color="#e58084"/><stop offset="0.2063" stop-color="#dc5861"/><stop offset="0.2222" stop-color="#dc5861"/><stop offset="0.2222" stop-color="#e58084"/><stop offset="0.2381" stop-color="#e58084"/><stop offset="0.2381" stop-color="#d9555e"/><stop offset="0.2540" stop-color="#d9555e"/><stop offset="0.2540" stop-color="#e78286"/><stop offset="0.2698" stop-color="#e78286"/><stop offset="0.2698" stop-color="#eeb0b3"/><stop offset="0.2857" stop-color="#eeb0b3"/><stop offset="0.2857" stop-color="#efb1b4"/><stop offset="0.3016" stop-color="#efb1b4"/><stop offset="0.3016" stop-color="#b5b6dd"/><stop offset="0.3175" stop-color="#b5b6dd"/><stop offset="0.3175" stop-color="#b1b2d9"/><stop offset="0.3333" stop-color="#b1b2d9"/><stop offset="0.3333" stop-color="#b1b2d9"/><stop offset="0.3492" stop-color="#b1b2d9"/><stop offset="0.3492" stop-color="#9e9fd0"/><stop offset="0.3651" stop-color="#9e9fd0"/><stop offset="0.3651" stop-color="#9c9dce"/><stop offset="0.3810" stop-color="#9c9dce"/><stop offset="0.3810" stop-color="#9c9dce"/><stop offset="0.3968" stop-color="#9c9dce"/><stop offset="0.3968" stop-color="#999acb"/><stop offset="0.4127" stop-color="#999acb"/><stop offset="0.4127" stop-color="#9d9ecf"/><stop offset="0.4286" stop-color="#9d9ecf"/><stop offset="0.4286" stop-color="#9d9ecf"/><stop offset="0.4444" stop-color="#9d9ecf"/><stop offset="0.4444" stop-color="#9e9fd0"/><stop offset="0.4603" stop-color="#9e9fd0"/><stop offset="0.4603" stop-color="#9e9fd0"/><stop offset="0.4762" stop-color="#9e9fd0"/><stop offset="0.4762" stop-color="#9a9bcc"/><stop offset="0.4921" stop-color="#9a9bcc"/><stop offset="0.4921" stop-color="#999acb"/><stop offset="0.5079" stop-color="#999acb"/><stop offset="0.5079" stop-color="#f2eef6"/><stop offset="0.5238" stop-color="#f2eef6"/><stop offset="0.5238" stop-color="#9c9dce"/><stop offset="0.5397" stop-color="#9c9dce"/><stop offset="0.5397" stop-color="#999acb"/><stop offset="0.5556" stop-color="#999acb"/><stop offset="0.5556" stop-color="#8586c1"/><stop offset="0.5714" stop-color="#8586c1"/><stop offset="0.5714" stop-color="#999acb"/><stop offset="0.5873" stop-color="#999acb"/><stop offset="0.5873" stop-color="#999acb"/><stop offset="0.6032" stop-color="#999acb"/><stop offset="0.6032" stop-color="#b4b5dc"/><stop offset="0.6190" stop-color="#b4b5dc"/><stop offset="0.6190" stop-color="#9d9ecf"/><stop offset="0.6349" stop-color="#9d9ecf"/><stop offset="0.6349" stop-color="#9d9ecf"/><stop offset="0.6508" stop-color="#9d9ecf"/><stop offset="0.6508" stop-color="#999acb"/><stop offset="0.6667" stop-color="#999acb"/><stop offset="0.6667" stop-color="#9d9ecf"/><stop offset="0.6825" stop-color="#9d9ecf"/><stop offset="0.6825" stop-color="#999acb"/><stop offset="0.6984" stop-color="#999acb"/><stop offset="0.6984" stop-color="#9c9dce"/><stop offset="0.7143" stop-color="#9c9dce"/><stop offset="0.7143" stop-color="#8384bf"/><stop offset="0.7302" stop-color="#8384bf"/><stop offset="0.7302" stop-color="#8384bf"/><stop offset="0.7460" stop-color="#8384bf"/><stop offset="0.7460" stop-color="#9a9bcc"/><stop offset="0.7619" stop-color="#9a9bcc"/><stop offset="0.7619" stop-color="#f0ecf4"/><stop offset="0.7778" stop-color="#f0ecf4"/><stop offset="0.7778" stop-color="#b4b5dc"/><stop offset="0.7937" stop-color="#b4b5dc"/><stop offset="0.7937" stop-color="#8788c3"/><stop offset="0.8095" stop-color="#8788c3"/><stop offset="0.8095" stop-color="#8586c1"/><stop offset="0.8254" stop-color="#8586c1"/><stop offset="0.8254" stop-color="#9a9bcc"/><stop offset="0.8413" stop-color="#9a9bcc"/><stop offset="0.8413" stop-color="#9e9fd0"/><stop offset="0.8571" stop-color="#9e9fd0"/><stop offset="0.8571" stop-color="#9b9ccd"/><stop offset="0.8730" stop-color="#9b9ccd"/><stop offset="0.8730" stop-color="#999acb"/><stop offset="0.8889" stop-color="#999acb"/><stop offset="0.8889" stop-color="#9d9ecf"/><stop offset="0.9048" stop-color="#9d9ecf"/><stop offset="0.9048" stop-color="#9e9fd0"/><stop offset="0.9206" stop-color="#9e9fd0"/><stop offset="0.9206" stop-color="#9d9ecf"/><stop offset="0.9365" stop-color="#9d9ecf"/><stop offset="0.9365" stop-color="#9a9bcc"/><stop offset="0.9524" stop-color="#9a9bcc"/><stop offset="0.9524" stop-color="#8788c3"/><stop offset="0.9683" stop-color="#8788c3"/><stop offset="0.9683" stop-color="#9b9ccd"/><stop offset="0.9841" stop-color="#9b9ccd"/><stop offset="0.9841" stop-color="#9a9bcc"/><stop offset="1.0000" stop-color="#9a9bcc"/></linearGradient></defs>
<rect x="171.30" y="249.10" width="105.00" height="25.11" fill="url(#gE0)"/>
<defs><linearGradient id="gE1" gradientUnits="userSpaceOnUse" x1="171.30" y1="0" x2="276.30" y2="0"><stop offset="0.0000" stop-color="#f0b2b5"/><stop offset="0.0159" stop-color="#f0b2b5"/><stop offset="0.0159" stop-color="#efb1b4"/><stop offset="0.0317" stop-color="#efb1b4"/><stop offset="0.0317" stop-color="#e58084"/><stop offset="0.0476" stop-color="#e58084"/><stop offset="0.0476" stop-color="#da565f"/><stop offset="0.0635" stop-color="#da565f"/><stop offset="0.0635" stop-color="#e37e82"/><stop offset="0.0794" stop-color="#e37e82"/><stop offset="0.0794" stop-color="#edafb2"/><stop offset="0.0952" stop-color="#edafb2"/><stop offset="0.0952" stop-color="#f2eef6"/><stop offset="0.1111" stop-color="#f2eef6"/><stop offset="0.1111" stop-color="#ebadb0"/><stop offset="0.1270" stop-color="#ebadb0"/><stop offset="0.1270" stop-color="#e37e82"/><stop offset="0.1429" stop-color="#e37e82"/><stop offset="0.1429" stop-color="#efb1b4"/><stop offset="0.1587" stop-color="#efb1b4"/><stop offset="0.1587" stop-color="#f1edf5"/><stop offset="0.1746" stop-color="#f1edf5"/><stop offset="0.1746" stop-color="#eeeaf2"/><stop offset="0.1905" stop-color="#eeeaf2"/><stop offset="0.1905" stop-color="#efb1b4"/><stop offset="0.2063" stop-color="#efb1b4"/><stop offset="0.2063" stop-color="#e58084"/><stop offset="0.2222" stop-color="#e58084"/><stop offset="0.2222" stop-color="#efebf3"/><stop offset="0.2381" stop-color="#efebf3"/><stop offset="0.2381" stop-color="#eeb0b3"/><stop offset="0.2540" stop-color="#eeb0b3"/><stop offset="0.2540" stop-color="#e27d81"/><stop offset="0.2698" stop-color="#e27d81"/><stop offset="0.2698" stop-color="#edafb2"/><stop offset="0.2857" stop-color="#edafb2"/><stop offset="0.2857" stop-color="#b4b5dc"/><stop offset="0.3016" stop-color="#b4b5dc"/><stop offset="0.3016" stop-color="#9e9fd0"/><stop offset="0.3175" stop-color="#9e9fd0"/><stop offset="0.3175" stop-color="#9b9ccd"/><stop offset="0.3333" stop-color="#9b9ccd"/><stop offset="0.3333" stop-color="#9c9dce"/><stop offset="0.3492" stop-color="#9c9dce"/><stop offset="0.3492" stop-color="#9c9dce"/><stop offset="0.3651" stop-color="#9c9dce"/><stop offset="0.3651" stop-color="#9a9bcc"/><stop offset="0.3810" stop-color="#9a9bcc"/><stop offset="0.3810" stop-color="#9a9bcc"/><stop offset="0.3968" stop-color="#9a9bcc"/><stop offset="0.3968" stop-color="#999acb"/><stop offset="0.4127" stop-color="#999acb"/><stop offset="0.4127" stop-color="#9c9dce"/><stop offset="0.4286" stop-color="#9c9dce"/><stop offset="0.4286" stop-color="#9d9ecf"/><stop offset="0.4444" stop-color="#9d9ecf"/><stop offset="0.4444" stop-color="#9d9ecf"/><stop offset="0.4603" stop-color="#9d9ecf"/><stop offset="0.4603" stop-color="#9e9fd0"/><stop offset="0.4762" stop-color="#9e9fd0"/><stop offset="0.4762" stop-color="#9d9ecf"/><stop offset="0.4921" stop-color="#9d9ecf"/><stop offset="0.4921" stop-color="#8586c1"/><stop offset="0.5079" stop-color="#8586c1"/><stop offset="0.5079" stop-color="#6161b3"/><stop offset="0.5238" stop-color="#6161b3"/><stop offset="0.5238" stop-color="#9d9ecf"/><stop offset="0.5397" stop-color="#9d9ecf"/><stop offset="0.5397" stop-color="#9d9ecf"/><stop offset="0.5556" stop-color="#9d9ecf"/><stop offset="0.5556" stop-color="#9e9fd0"/><stop offset="0.5714" stop-color="#9e9fd0"/><stop offset="0.5714" stop-color="#999acb"/><stop offset="0.5873" stop-color="#999acb"/><stop offset="0.5873" stop-color="#b3b4db"/><stop offset="0.6032" stop-color="#b3b4db"/><stop offset="0.6032" stop-color="#efebf3"/><stop offset="0.6190" stop-color="#efebf3"/><stop offset="0.6190" stop-color="#9e9fd0"/><stop offset="0.6349" stop-color="#9e9fd0"/><stop offset="0.6349" stop-color="#999acb"/><stop offset="0.6508" stop-color="#999acb"/><stop offset="0.6508" stop-color="#999acb"/><stop offset="0.6667" stop-color="#999acb"/><stop offset="0.6667" stop-color="#9a9bcc"/><stop offset="0.6825" stop-color="#9a9bcc"/><stop offset="0.6825" stop-color="#9b9ccd"/><stop offset="0.6984" stop-color="#9b9ccd"/><stop offset="0.6984" stop-color="#9a9bcc"/><stop offset="0.7143" stop-color="#9a9bcc"/><stop offset="0.7143" stop-color="#8586c1"/><stop offset="0.7302" stop-color="#8586c1"/><stop offset="0.7302" stop-color="#8889c4"/><stop offset="0.7460" stop-color="#8889c4"/><stop offset="0.7460" stop-color="#8586c1"/><stop offset="0.7619" stop-color="#8586c1"/><stop offset="0.7619" stop-color="#9c9dce"/><stop offset="0.7778" stop-color="#9c9dce"/><stop offset="0.7778" stop-color="#8586c1"/><stop offset="0.7937" stop-color="#8586c1"/><stop offset="0.7937" stop-color="#8788c3"/><stop offset="0.8095" stop-color="#8788c3"/><stop offset="0.8095" stop-color="#8889c4"/><stop offset="0.8254" stop-color="#8889c4"/><stop offset="0.8254" stop-color="#efebf3"/><stop offset="0.8413" stop-color="#efebf3"/><stop offset="0.8413" stop-color="#9d9ecf"/><stop offset="0.8571" stop-color="#9d9ecf"/><stop offset="0.8571" stop-color="#9c9dce"/><stop offset="0.8730" stop-color="#9c9dce"/><stop offset="0.8730" stop-color="#9b9ccd"/><stop offset="0.8889" stop-color="#9b9ccd"/><stop offset="0.8889" stop-color="#9a9bcc"/><stop offset="0.9048" stop-color="#9a9bcc"/><stop offset="0.9048" stop-color="#9d9ecf"/><stop offset="0.9206" stop-color="#9d9ecf"/><stop offset="0.9206" stop-color="#8788c3"/><stop offset="0.9365" stop-color="#8788c3"/><stop offset="0.9365" stop-color="#8788c3"/><stop offset="0.9524" stop-color="#8788c3"/><stop offset="0.9524" stop-color="#9d9ecf"/><stop offset="0.9683" stop-color="#9d9ecf"/><stop offset="0.9683" stop-color="#9d9ecf"/><stop offset="0.9841" stop-color="#9d9ecf"/><stop offset="0.9841" stop-color="#999acb"/><stop offset="1.0000" stop-color="#999acb"/></linearGradient></defs>
<rect x="171.30" y="274.13" width="105.00" height="25.11" fill="url(#gE1)"/>
<defs><linearGradient id="gE2" gradientUnits="userSpaceOnUse" x1="171.30" y1="0" x2="276.30" y2="0"><stop offset="0.0000" stop-color="#efb1b4"/><stop offset="0.0159" stop-color="#efb1b4"/><stop offset="0.0159" stop-color="#e78286"/><stop offset="0.0317" stop-color="#e78286"/><stop offset="0.0317" stop-color="#e27d81"/><stop offset="0.0476" stop-color="#e27d81"/><stop offset="0.0476" stop-color="#db5760"/><stop offset="0.0635" stop-color="#db5760"/><stop offset="0.0635" stop-color="#dc5861"/><stop offset="0.0794" stop-color="#dc5861"/><stop offset="0.0794" stop-color="#e27d81"/><stop offset="0.0952" stop-color="#e27d81"/><stop offset="0.0952" stop-color="#e68185"/><stop offset="0.1111" stop-color="#e68185"/><stop offset="0.1111" stop-color="#e68185"/><stop offset="0.1270" stop-color="#e68185"/><stop offset="0.1270" stop-color="#efb1b4"/><stop offset="0.1429" stop-color="#efb1b4"/><stop offset="0.1429" stop-color="#efb1b4"/><stop offset="0.1587" stop-color="#efb1b4"/><stop offset="0.1587" stop-color="#f0ecf4"/><stop offset="0.1746" stop-color="#f0ecf4"/><stop offset="0.1746" stop-color="#f0b2b5"/><stop offset="0.1905" stop-color="#f0b2b5"/><stop offset="0.1905" stop-color="#edafb2"/><stop offset="0.2063" stop-color="#edafb2"/><stop offset="0.2063" stop-color="#ecaeb1"/><stop offset="0.2222" stop-color="#ecaeb1"/><stop offset="0.2222" stop-color="#e47f83"/><stop offset="0.2381" stop-color="#e47f83"/><stop offset="0.2381" stop-color="#e78286"/><stop offset="0.2540" stop-color="#e78286"/><stop offset="0.2540" stop-color="#ecaeb1"/><stop offset="0.2698" stop-color="#ecaeb1"/><stop offset="0.2698" stop-color="#e68185"/><stop offset="0.2857" stop-color="#e68185"/><stop offset="0.2857" stop-color="#b3b4db"/><stop offset="0.3016" stop-color="#b3b4db"/><stop offset="0.3016" stop-color="#999acb"/><stop offset="0.3175" stop-color="#999acb"/><stop offset="0.3175" stop-color="#9c9dce"/><stop offset="0.3333" stop-color="#9c9dce"/><stop offset="0.3333" stop-color="#9b9ccd"/><stop offset="0.3492" stop-color="#9b9ccd"/><stop offset="0.3492" stop-color="#9a9bcc"/><stop offset="0.3651" stop-color="#9a9bcc"/><stop offset="0.3651" stop-color="#999acb"/><stop offset="0.3810" stop-color="#999acb"/><stop offset="0.3810" stop-color="#9c9dce"/><stop offset="0.3968" stop-color="#9c9dce"/><stop offset="0.3968" stop-color="#999acb"/><stop offset="0.4127" stop-color="#999acb"/><stop offset="0.4127" stop-color="#9a9bcc"/><stop offset="0.4286" stop-color="#9a9bcc"/><stop offset="0.4286" stop-color="#8485c0"/><stop offset="0.4444" stop-color="#8485c0"/><stop offset="0.4444" stop-color="#9b9ccd"/><stop offset="0.4603" stop-color="#9b9ccd"/><stop offset="0.4603" stop-color="#9c9dce"/><stop offset="0.4762" stop-color="#9c9dce"/><stop offset="0.4762" stop-color="#9b9ccd"/><stop offset="0.4921" stop-color="#9b9ccd"/><stop offset="0.4921" stop-color="#8889c4"/><stop offset="0.5079" stop-color="#8889c4"/><stop offset="0.5079" stop-color="#8384bf"/><stop offset="0.5238" stop-color="#8384bf"/><stop offset="0.5238" stop-color="#9e9fd0"/><stop offset="0.5397" stop-color="#9e9fd0"/><stop offset="0.5397" stop-color="#8889c4"/><stop offset="0.5556" stop-color="#8889c4"/><stop offset="0.5556" stop-color="#9b9ccd"/><stop offset="0.5714" stop-color="#9b9ccd"/><stop offset="0.5714" stop-color="#b5b6dd"/><stop offset="0.5873" stop-color="#b5b6dd"/><stop offset="0.5873" stop-color="#9d9ecf"/><stop offset="0.6032" stop-color="#9d9ecf"/><stop offset="0.6032" stop-color="#8889c4"/><stop offset="0.6190" stop-color="#8889c4"/><stop offset="0.6190" stop-color="#999acb"/><stop offset="0.6349" stop-color="#999acb"/><stop offset="0.6349" stop-color="#9b9ccd"/><stop offset="0.6508" stop-color="#9b9ccd"/><stop offset="0.6508" stop-color="#9b9ccd"/><stop offset="0.6667" stop-color="#9b9ccd"/><stop offset="0.6667" stop-color="#999acb"/><stop offset="0.6825" stop-color="#999acb"/><stop offset="0.6825" stop-color="#9c9dce"/><stop offset="0.6984" stop-color="#9c9dce"/><stop offset="0.6984" stop-color="#9c9dce"/><stop offset="0.7143" stop-color="#9c9dce"/><stop offset="0.7143" stop-color="#8889c4"/><stop offset="0.7302" stop-color="#8889c4"/><stop offset="0.7302" stop-color="#8889c4"/><stop offset="0.7460" stop-color="#8889c4"/><stop offset="0.7460" stop-color="#9b9ccd"/><stop offset="0.7619" stop-color="#9b9ccd"/><stop offset="0.7619" stop-color="#9c9dce"/><stop offset="0.7778" stop-color="#9c9dce"/><stop offset="0.7778" stop-color="#b3b4db"/><stop offset="0.7937" stop-color="#b3b4db"/><stop offset="0.7937" stop-color="#8586c1"/><stop offset="0.8095" stop-color="#8586c1"/><stop offset="0.8095" stop-color="#6262b4"/><stop offset="0.8254" stop-color="#6262b4"/><stop offset="0.8254" stop-color="#8586c1"/><stop offset="0.8413" stop-color="#8586c1"/><stop offset="0.8413" stop-color="#9c9dce"/><stop offset="0.8571" stop-color="#9c9dce"/><stop offset="0.8571" stop-color="#999acb"/><stop offset="0.8730" stop-color="#999acb"/><stop offset="0.8730" stop-color="#999acb"/><stop offset="0.8889" stop-color="#999acb"/><stop offset="0.8889" stop-color="#9c9dce"/><stop offset="0.9048" stop-color="#9c9dce"/><stop offset="0.9048" stop-color="#999acb"/><stop offset="0.9206" stop-color="#999acb"/><stop offset="0.9206" stop-color="#999acb"/><stop offset="0.9365" stop-color="#999acb"/><stop offset="0.9365" stop-color="#9d9ecf"/><stop offset="0.9524" stop-color="#9d9ecf"/><stop offset="0.9524" stop-color="#9e9fd0"/><stop offset="0.9683" stop-color="#9e9fd0"/><stop offset="0.9683" stop-color="#999acb"/><stop offset="0.9841" stop-color="#999acb"/><stop offset="0.9841" stop-color="#9a9bcc"/><stop offset="1.0000" stop-color="#9a9bcc"/></linearGradient></defs>
<rect x="171.30" y="299.17" width="105.00" height="25.11" fill="url(#gE2)"/>
<defs><linearGradient id="gE3" gradientUnits="userSpaceOnUse" x1="171.30" y1="0" x2="276.30" y2="0"><stop offset="0.0000" stop-color="#9b9ccd"/><stop offset="0.0159" stop-color="#9b9ccd"/><stop offset="0.0159" stop-color="#9e9fd0"/><stop offset="0.0317" stop-color="#9e9fd0"/><stop offset="0.0317" stop-color="#b2b3da"/><stop offset="0.0476" stop-color="#b2b3da"/><stop offset="0.0476" stop-color="#999acb"/><stop offset="0.0635" stop-color="#999acb"/><stop offset="0.0635" stop-color="#9e9fd0"/><stop offset="0.0794" stop-color="#9e9fd0"/><stop offset="0.0794" stop-color="#b5b6dd"/><stop offset="0.0952" stop-color="#b5b6dd"/><stop offset="0.0952" stop-color="#ede9f1"/><stop offset="0.1111" stop-color="#ede9f1"/><stop offset="0.1111" stop-color="#b5b6dd"/><stop offset="0.1270" stop-color="#b5b6dd"/><stop offset="0.1270" stop-color="#9b9ccd"/><stop offset="0.1429" stop-color="#9b9ccd"/><stop offset="0.1429" stop-color="#b3b4db"/><stop offset="0.1587" stop-color="#b3b4db"/><stop offset="0.1587" stop-color="#9a9bcc"/><stop offset="0.1746" stop-color="#9a9bcc"/><stop offset="0.1746" stop-color="#8485c0"/><stop offset="0.1905" stop-color="#8485c0"/><stop offset="0.1905" stop-color="#999acb"/><stop offset="0.2063" stop-color="#999acb"/><stop offset="0.2063" stop-color="#8485c0"/><stop offset="0.2222" stop-color="#8485c0"/><stop offset="0.2222" stop-color="#9d9ecf"/><stop offset="0.2381" stop-color="#9d9ecf"/><stop offset="0.2381" stop-color="#9c9dce"/><stop offset="0.2540" stop-color="#9c9dce"/><stop offset="0.2540" stop-color="#8788c3"/><stop offset="0.2698" stop-color="#8788c3"/><stop offset="0.2698" stop-color="#9c9dce"/><stop offset="0.2857" stop-color="#9c9dce"/><stop offset="0.2857" stop-color="#9d9ecf"/><stop offset="0.3016" stop-color="#9d9ecf"/><stop offset="0.3016" stop-color="#da565f"/><stop offset="0.3175" stop-color="#da565f"/><stop offset="0.3175" stop-color="#cd2f39"/><stop offset="0.3333" stop-color="#cd2f39"/><stop offset="0.3333" stop-color="#e27d81"/><stop offset="0.3492" stop-color="#e27d81"/><stop offset="0.3492" stop-color="#e68185"/><stop offset="0.3651" stop-color="#e68185"/><stop offset="0.3651" stop-color="#e68185"/><stop offset="0.3810" stop-color="#e68185"/><stop offset="0.3810" stop-color="#e27d81"/><stop offset="0.3968" stop-color="#e27d81"/><stop offset="0.3968" stop-color="#e78286"/><stop offset="0.4127" stop-color="#e78286"/><stop offset="0.4127" stop-color="#de5a63"/><stop offset="0.4286" stop-color="#de5a63"/><stop offset="0.4286" stop-color="#e37e82"/><stop offset="0.4444" stop-color="#e37e82"/><stop offset="0.4444" stop-color="#f0ecf4"/><stop offset="0.4603" stop-color="#f0ecf4"/><stop offset="0.4603" stop-color="#edafb2"/><stop offset="0.4762" stop-color="#edafb2"/><stop offset="0.4762" stop-color="#e58084"/><stop offset="0.4921" stop-color="#e58084"/><stop offset="0.4921" stop-color="#efb1b4"/><stop offset="0.5079" stop-color="#efb1b4"/><stop offset="0.5079" stop-color="#de5a63"/><stop offset="0.5238" stop-color="#de5a63"/><stop offset="0.5238" stop-color="#e37e82"/><stop offset="0.5397" stop-color="#e37e82"/><stop offset="0.5397" stop-color="#f0b2b5"/><stop offset="0.5556" stop-color="#f0b2b5"/><stop offset="0.5556" stop-color="#b6b7de"/><stop offset="0.5714" stop-color="#b6b7de"/><stop offset="0.5714" stop-color="#9c9dce"/><stop offset="0.5873" stop-color="#9c9dce"/><stop offset="0.5873" stop-color="#ede9f1"/><stop offset="0.6032" stop-color="#ede9f1"/><stop offset="0.6032" stop-color="#9c9dce"/><stop offset="0.6190" stop-color="#9c9dce"/><stop offset="0.6190" stop-color="#9a9bcc"/><stop offset="0.6349" stop-color="#9a9bcc"/><stop offset="0.6349" stop-color="#9a9bcc"/><stop offset="0.6508" stop-color="#9a9bcc"/><stop offset="0.6508" stop-color="#9d9ecf"/><stop offset="0.6667" stop-color="#9d9ecf"/><stop offset="0.6667" stop-color="#9a9bcc"/><stop offset="0.6825" stop-color="#9a9bcc"/><stop offset="0.6825" stop-color="#9e9fd0"/><stop offset="0.6984" stop-color="#9e9fd0"/><stop offset="0.6984" stop-color="#9a9bcc"/><stop offset="0.7143" stop-color="#9a9bcc"/><stop offset="0.7143" stop-color="#b2b3da"/><stop offset="0.7302" stop-color="#b2b3da"/><stop offset="0.7302" stop-color="#ecaeb1"/><stop offset="0.7460" stop-color="#ecaeb1"/><stop offset="0.7460" stop-color="#eeeaf2"/><stop offset="0.7619" stop-color="#eeeaf2"/><stop offset="0.7619" stop-color="#e47f83"/><stop offset="0.7778" stop-color="#e47f83"/><stop offset="0.7778" stop-color="#ecaeb1"/><stop offset="0.7937" stop-color="#ecaeb1"/><stop offset="0.7937" stop-color="#f0ecf4"/><stop offset="0.8095" stop-color="#f0ecf4"/><stop offset="0.8095" stop-color="#de5a63"/><stop offset="0.8254" stop-color="#de5a63"/><stop offset="0.8254" stop-color="#da565f"/><stop offset="0.8413" stop-color="#da565f"/><stop offset="0.8413" stop-color="#e37e82"/><stop offset="0.8571" stop-color="#e37e82"/><stop offset="0.8571" stop-color="#e68185"/><stop offset="0.8730" stop-color="#e68185"/><stop offset="0.8730" stop-color="#ebadb0"/><stop offset="0.8889" stop-color="#ebadb0"/><stop offset="0.8889" stop-color="#e58084"/><stop offset="0.9048" stop-color="#e58084"/><stop offset="0.9048" stop-color="#da565f"/><stop offset="0.9206" stop-color="#da565f"/><stop offset="0.9206" stop-color="#db5760"/><stop offset="0.9365" stop-color="#db5760"/><stop offset="0.9365" stop-color="#e78286"/><stop offset="0.9524" stop-color="#e78286"/><stop offset="0.9524" stop-color="#eeb0b3"/><stop offset="0.9683" stop-color="#eeb0b3"/><stop offset="0.9683" stop-color="#ede9f1"/><stop offset="0.9841" stop-color="#ede9f1"/><stop offset="0.9841" stop-color="#edafb2"/><stop offset="1.0000" stop-color="#edafb2"/></linearGradient></defs>
<rect x="171.30" y="324.20" width="105.00" height="25.11" fill="url(#gE3)"/>
<defs><linearGradient id="gE4" gradientUnits="userSpaceOnUse" x1="171.30" y1="0" x2="276.30" y2="0"><stop offset="0.0000" stop-color="#9b9ccd"/><stop offset="0.0159" stop-color="#9b9ccd"/><stop offset="0.0159" stop-color="#9d9ecf"/><stop offset="0.0317" stop-color="#9d9ecf"/><stop offset="0.0317" stop-color="#b3b4db"/><stop offset="0.0476" stop-color="#b3b4db"/><stop offset="0.0476" stop-color="#9b9ccd"/><stop offset="0.0635" stop-color="#9b9ccd"/><stop offset="0.0635" stop-color="#9d9ecf"/><stop offset="0.0794" stop-color="#9d9ecf"/><stop offset="0.0794" stop-color="#b6b7de"/><stop offset="0.0952" stop-color="#b6b7de"/><stop offset="0.0952" stop-color="#6060b2"/><stop offset="0.1111" stop-color="#6060b2"/><stop offset="0.1111" stop-color="#5f5fb1"/><stop offset="0.1270" stop-color="#5f5fb1"/><stop offset="0.1270" stop-color="#8485c0"/><stop offset="0.1429" stop-color="#8485c0"/><stop offset="0.1429" stop-color="#b1b2d9"/><stop offset="0.1587" stop-color="#b1b2d9"/><stop offset="0.1587" stop-color="#9d9ecf"/><stop offset="0.1746" stop-color="#9d9ecf"/><stop offset="0.1746" stop-color="#b5b6dd"/><stop offset="0.1905" stop-color="#b5b6dd"/><stop offset="0.1905" stop-color="#8889c4"/><stop offset="0.2063" stop-color="#8889c4"/><stop offset="0.2063" stop-color="#8889c4"/><stop offset="0.2222" stop-color="#8889c4"/><stop offset="0.2222" stop-color="#8384bf"/><stop offset="0.2381" stop-color="#8384bf"/><stop offset="0.2381" stop-color="#9d9ecf"/><stop offset="0.2540" stop-color="#9d9ecf"/><stop offset="0.2540" stop-color="#9d9ecf"/><stop offset="0.2698" stop-color="#9d9ecf"/><stop offset="0.2698" stop-color="#9b9ccd"/><stop offset="0.2857" stop-color="#9b9ccd"/><stop offset="0.2857" stop-color="#9d9ecf"/><stop offset="0.3016" stop-color="#9d9ecf"/><stop offset="0.3016" stop-color="#b3b4db"/><stop offset="0.3175" stop-color="#b3b4db"/><stop offset="0.3175" stop-color="#b1b2d9"/><stop offset="0.3333" stop-color="#b1b2d9"/><stop offset="0.3333" stop-color="#b3b4db"/><stop offset="0.3492" stop-color="#b3b4db"/><stop offset="0.3492" stop-color="#b2b3da"/><stop offset="0.3651" stop-color="#b2b3da"/><stop offset="0.3651" stop-color="#b3b4db"/><stop offset="0.3810" stop-color="#b3b4db"/><stop offset="0.3810" stop-color="#b6b7de"/><stop offset="0.3968" stop-color="#b6b7de"/><stop offset="0.3968" stop-color="#b3b4db"/><stop offset="0.4127" stop-color="#b3b4db"/><stop offset="0.4127" stop-color="#b4b5dc"/><stop offset="0.4286" stop-color="#b4b5dc"/><stop offset="0.4286" stop-color="#b4b5dc"/><stop offset="0.4444" stop-color="#b4b5dc"/><stop offset="0.4444" stop-color="#ede9f1"/><stop offset="0.4603" stop-color="#ede9f1"/><stop offset="0.4603" stop-color="#ecaeb1"/><stop offset="0.4762" stop-color="#ecaeb1"/><stop offset="0.4762" stop-color="#f0b2b5"/><stop offset="0.4921" stop-color="#f0b2b5"/><stop offset="0.4921" stop-color="#ebadb0"/><stop offset="0.5079" stop-color="#ebadb0"/><stop offset="0.5079" stop-color="#eeeaf2"/><stop offset="0.5238" stop-color="#eeeaf2"/><stop offset="0.5238" stop-color="#f0ecf4"/><stop offset="0.5397" stop-color="#f0ecf4"/><stop offset="0.5397" stop-color="#edafb2"/><stop offset="0.5556" stop-color="#edafb2"/><stop offset="0.5556" stop-color="#dc5861"/><stop offset="0.5714" stop-color="#dc5861"/><stop offset="0.5714" stop-color="#db5760"/><stop offset="0.5873" stop-color="#db5760"/><stop offset="0.5873" stop-color="#e37e82"/><stop offset="0.6032" stop-color="#e37e82"/><stop offset="0.6032" stop-color="#e27d81"/><stop offset="0.6190" stop-color="#e27d81"/><stop offset="0.6190" stop-color="#ebadb0"/><stop offset="0.6349" stop-color="#ebadb0"/><stop offset="0.6349" stop-color="#e78286"/><stop offset="0.6508" stop-color="#e78286"/><stop offset="0.6508" stop-color="#e27d81"/><stop offset="0.6667" stop-color="#e27d81"/><stop offset="0.6667" stop-color="#e68185"/><stop offset="0.6825" stop-color="#e68185"/><stop offset="0.6825" stop-color="#dc5861"/><stop offset="0.6984" stop-color="#dc5861"/><stop offset="0.6984" stop-color="#e68185"/><stop offset="0.7143" stop-color="#e68185"/><stop offset="0.7143" stop-color="#e37e82"/><stop offset="0.7302" stop-color="#e37e82"/><stop offset="0.7302" stop-color="#dc5861"/><stop offset="0.7460" stop-color="#dc5861"/><stop offset="0.7460" stop-color="#e47f83"/><stop offset="0.7619" stop-color="#e47f83"/><stop offset="0.7619" stop-color="#ecaeb1"/><stop offset="0.7778" stop-color="#ecaeb1"/><stop offset="0.7778" stop-color="#dc5861"/><stop offset="0.7937" stop-color="#dc5861"/><stop offset="0.7937" stop-color="#e47f83"/><stop offset="0.8095" stop-color="#e47f83"/><stop offset="0.8095" stop-color="#ecaeb1"/><stop offset="0.8254" stop-color="#ecaeb1"/><stop offset="0.8254" stop-color="#ecaeb1"/><stop offset="0.8413" stop-color="#ecaeb1"/><stop offset="0.8413" stop-color="#f0b2b5"/><stop offset="0.8571" stop-color="#f0b2b5"/><stop offset="0.8571" stop-color="#e68185"/><stop offset="0.8730" stop-color="#e68185"/><stop offset="0.8730" stop-color="#eeb0b3"/><stop offset="0.8889" stop-color="#eeb0b3"/><stop offset="0.8889" stop-color="#e78286"/><stop offset="0.9048" stop-color="#e78286"/><stop offset="0.9048" stop-color="#e58084"/><stop offset="0.9206" stop-color="#e58084"/><stop offset="0.9206" stop-color="#ecaeb1"/><stop offset="0.9365" stop-color="#ecaeb1"/><stop offset="0.9365" stop-color="#e68185"/><stop offset="0.9524" stop-color="#e68185"/><stop offset="0.9524" stop-color="#de5a63"/><stop offset="0.9683" stop-color="#de5a63"/><stop offset="0.9683" stop-color="#da565f"/><stop offset="0.9841" stop-color="#da565f"/><stop offset="0.9841" stop-color="#e27d81"/><stop offset="1.0000" stop-color="#e27d81"/></linearGradient></defs>
<rect x="171.30" y="349.23" width="105.00" height="25.11" fill="url(#gE4)"/>
<defs><linearGradient id="gE5" gradientUnits="userSpaceOnUse" x1="171.30" y1="0" x2="276.30" y2="0"><stop offset="0.0000" stop-color="#9a9bcc"/><stop offset="0.0159" stop-color="#9a9bcc"/><stop offset="0.0159" stop-color="#9c9dce"/><stop offset="0.0317" stop-color="#9c9dce"/><stop offset="0.0317" stop-color="#b6b7de"/><stop offset="0.0476" stop-color="#b6b7de"/><stop offset="0.0476" stop-color="#9d9ecf"/><stop offset="0.0635" stop-color="#9d9ecf"/><stop offset="0.0635" stop-color="#8586c1"/><stop offset="0.0794" stop-color="#8586c1"/><stop offset="0.0794" stop-color="#9e9fd0"/><stop offset="0.0952" stop-color="#9e9fd0"/><stop offset="0.0952" stop-color="#b1b2d9"/><stop offset="0.1111" stop-color="#b1b2d9"/><stop offset="0.1111" stop-color="#b6b7de"/><stop offset="0.1270" stop-color="#b6b7de"/><stop offset="0.1270" stop-color="#9e9fd0"/><stop offset="0.1429" stop-color="#9e9fd0"/><stop offset="0.1429" stop-color="#9e9fd0"/><stop offset="0.1587" stop-color="#9e9fd0"/><stop offset="0.1587" stop-color="#b3b4db"/><stop offset="0.1746" stop-color="#b3b4db"/><stop offset="0.1746" stop-color="#8586c1"/><stop offset="0.1905" stop-color="#8586c1"/><stop offset="0.1905" stop-color="#8384bf"/><stop offset="0.2063" stop-color="#8384bf"/><stop offset="0.2063" stop-color="#8687c2"/><stop offset="0.2222" stop-color="#8687c2"/><stop offset="0.2222" stop-color="#9c9dce"/><stop offset="0.2381" stop-color="#9c9dce"/><stop offset="0.2381" stop-color="#999acb"/><stop offset="0.2540" stop-color="#999acb"/><stop offset="0.2540" stop-color="#9b9ccd"/><stop offset="0.2698" stop-color="#9b9ccd"/><stop offset="0.2698" stop-color="#9e9fd0"/><stop offset="0.2857" stop-color="#9e9fd0"/><stop offset="0.2857" stop-color="#9c9dce"/><stop offset="0.3016" stop-color="#9c9dce"/><stop offset="0.3016" stop-color="#edafb2"/><stop offset="0.3175" stop-color="#edafb2"/><stop offset="0.3175" stop-color="#ede9f1"/><stop offset="0.3333" stop-color="#ede9f1"/><stop offset="0.3333" stop-color="#ecaeb1"/><stop offset="0.3492" stop-color="#ecaeb1"/><stop offset="0.3492" stop-color="#d9555e"/><stop offset="0.3651" stop-color="#d9555e"/><stop offset="0.3651" stop-color="#dd5962"/><stop offset="0.3810" stop-color="#dd5962"/><stop offset="0.3810" stop-color="#da565f"/><stop offset="0.3968" stop-color="#da565f"/><stop offset="0.3968" stop-color="#dd5962"/><stop offset="0.4127" stop-color="#dd5962"/><stop offset="0.4127" stop-color="#dd5962"/><stop offset="0.4286" stop-color="#dd5962"/><stop offset="0.4286" stop-color="#dd5962"/><stop offset="0.4444" stop-color="#dd5962"/><stop offset="0.4444" stop-color="#e58084"/><stop offset="0.4603" stop-color="#e58084"/><stop offset="0.4603" stop-color="#eeb0b3"/><stop offset="0.4762" stop-color="#eeb0b3"/><stop offset="0.4762" stop-color="#da565f"/><stop offset="0.4921" stop-color="#da565f"/><stop offset="0.4921" stop-color="#e47f83"/><stop offset="0.5079" stop-color="#e47f83"/><stop offset="0.5079" stop-color="#efb1b4"/><stop offset="0.5238" stop-color="#efb1b4"/><stop offset="0.5238" stop-color="#e37e82"/><stop offset="0.5397" stop-color="#e37e82"/><stop offset="0.5397" stop-color="#eeb0b3"/><stop offset="0.5556" stop-color="#eeb0b3"/><stop offset="0.5556" stop-color="#efb1b4"/><stop offset="0.5714" stop-color="#efb1b4"/><stop offset="0.5714" stop-color="#e27d81"/><stop offset="0.5873" stop-color="#e27d81"/><stop offset="0.5873" stop-color="#ecaeb1"/><stop offset="0.6032" stop-color="#ecaeb1"/><stop offset="0.6032" stop-color="#ecaeb1"/><stop offset="0.6190" stop-color="#ecaeb1"/><stop offset="0.6190" stop-color="#d9555e"/><stop offset="0.6349" stop-color="#d9555e"/><stop offset="0.6349" stop-color="#dd5962"/><stop offset="0.6508" stop-color="#dd5962"/><stop offset="0.6508" stop-color="#e68185"/><stop offset="0.6667" stop-color="#e68185"/><stop offset="0.6667" stop-color="#e47f83"/><stop offset="0.6825" stop-color="#e47f83"/><stop offset="0.6825" stop-color="#edafb2"/><stop offset="0.6984" stop-color="#edafb2"/><stop offset="0.6984" stop-color="#e58084"/><stop offset="0.7143" stop-color="#e58084"/><stop offset="0.7143" stop-color="#edafb2"/><stop offset="0.7302" stop-color="#edafb2"/><stop offset="0.7302" stop-color="#eeb0b3"/><stop offset="0.7460" stop-color="#eeb0b3"/><stop offset="0.7460" stop-color="#ede9f1"/><stop offset="0.7619" stop-color="#ede9f1"/><stop offset="0.7619" stop-color="#ebadb0"/><stop offset="0.7778" stop-color="#ebadb0"/><stop offset="0.7778" stop-color="#ede9f1"/><stop offset="0.7937" stop-color="#ede9f1"/><stop offset="0.7937" stop-color="#efb1b4"/><stop offset="0.8095" stop-color="#efb1b4"/><stop offset="0.8095" stop-color="#eeeaf2"/><stop offset="0.8254" stop-color="#eeeaf2"/><stop offset="0.8254" stop-color="#edafb2"/><stop offset="0.8413" stop-color="#edafb2"/><stop offset="0.8413" stop-color="#efebf3"/><stop offset="0.8571" stop-color="#efebf3"/><stop offset="0.8571" stop-color="#ebadb0"/><stop offset="0.8730" stop-color="#ebadb0"/><stop offset="0.8730" stop-color="#edafb2"/><stop offset="0.8889" stop-color="#edafb2"/><stop offset="0.8889" stop-color="#b4b5dc"/><stop offset="0.9048" stop-color="#b4b5dc"/><stop offset="0.9048" stop-color="#9d9ecf"/><stop offset="0.9206" stop-color="#9d9ecf"/><stop offset="0.9206" stop-color="#9b9ccd"/><stop offset="0.9365" stop-color="#9b9ccd"/><stop offset="0.9365" stop-color="#9c9dce"/><stop offset="0.9524" stop-color="#9c9dce"/><stop offset="0.9524" stop-color="#9a9bcc"/><stop offset="0.9683" stop-color="#9a9bcc"/><stop offset="0.9683" stop-color="#9e9fd0"/><stop offset="0.9841" stop-color="#9e9fd0"/><stop offset="0.9841" stop-color="#b6b7de"/><stop offset="1.0000" stop-color="#b6b7de"/></linearGradient></defs>
<rect x="171.30" y="374.27" width="105.00" height="25.11" fill="url(#gE5)"/>
<rect x="167.5" y="249.10" width="3.80" height="75.10" fill="#ef8f92"/>
<rect x="167.5" y="324.20" width="3.80" height="75.10" fill="#21c2cc"/>
<text x="277.50" y="263.82" font-family="Liberation Sans, sans-serif" font-size="3.4" font-weight="normal" text-anchor="start" fill="#222">E13_layer1</text>
<text x="277.50" y="288.85" font-family="Liberation Sans, sans-serif" font-size="3.4" font-weight="normal" text-anchor="start" fill="#222">E13_layer2</text>
<text x="277.50" y="313.88" font-family="Liberation Sans, sans-serif" font-size="3.4" font-weight="normal" text-anchor="start" fill="#222">E13_layer3</text>
<text x="277.50" y="338.92" font-family="Liberation Sans, sans-serif" font-size="3.4" font-weight="normal" text-anchor="start" fill="#222">E13_broiler2</text>
<text x="277.50" y="363.95" font-family="Liberation Sans, sans-serif" font-size="3.4" font-weight="normal" text-anchor="start" fill="#222">E13_broiler1</text>
<text x="277.50" y="388.98" font-family="Liberation Sans, sans-serif" font-size="3.4" font-weight="normal" text-anchor="start" fill="#222">E13_broiler3</text>
<text x="224.30" y="247.00" font-family="Liberation Sans, sans-serif" font-size="4.5" font-weight="bold" text-anchor="middle" fill="#111" textLength="94.8" lengthAdjust="spacingAndGlyphs">Heatmap of Differential expression circRNA at E13</text>
<path d="M167.5 261.62 H161.1 V299.17 H163.3 M167.5 286.65 H163.3 V311.68 H167.5 M167.5 336.72 H156.3 V374.27 H158.2 M167.5 361.75 H158.2 V386.78 H167.5 M161.1 280.39 H152.0 V355.49 H156.3" fill="none" stroke="#606060" stroke-width="0.85"/>
<text x="330.50" y="228.50" font-family="Liberation Serif, serif" font-size="14" font-weight="bold" text-anchor="start" fill="#000">F</text>
<defs><linearGradient id="gF0" gradientUnits="userSpaceOnUse" x1="325.20" y1="0" x2="434.10" y2="0"><stop offset="0.0000" stop-color="#ebadb0"/><stop offset="0.0123" stop-color="#ebadb0"/><stop offset="0.0123" stop-color="#f2eef6"/><stop offset="0.0247" stop-color="#f2eef6"/><stop offset="0.0247" stop-color="#9a9bcc"/><stop offset="0.0370" stop-color="#9a9bcc"/><stop offset="0.0370" stop-color="#9e9fd0"/><stop offset="0.0494" stop-color="#9e9fd0"/><stop offset="0.0494" stop-color="#9e9fd0"/><stop offset="0.0617" stop-color="#9e9fd0"/><stop offset="0.0617" stop-color="#da565f"/><stop offset="0.0741" stop-color="#da565f"/><stop offset="0.0741" stop-color="#dc5861"/><stop offset="0.0864" stop-color="#dc5861"/><stop offset="0.0864" stop-color="#e47f83"/><stop offset="0.0988" stop-color="#e47f83"/><stop offset="0.0988" stop-color="#edafb2"/><stop offset="0.1111" stop-color="#edafb2"/><stop offset="0.1111" stop-color="#e68185"/><stop offset="0.1235" stop-color="#e68185"/><stop offset="0.1235" stop-color="#e68185"/><stop offset="0.1358" stop-color="#e68185"/><stop offset="0.1358" stop-color="#da565f"/><stop offset="0.1481" stop-color="#da565f"/><stop offset="0.1481" stop-color="#e58084"/><stop offset="0.1605" stop-color="#e58084"/><stop offset="0.1605" stop-color="#e68185"/><stop offset="0.1728" stop-color="#e68185"/><stop offset="0.1728" stop-color="#e58084"/><stop offset="0.1852" stop-color="#e58084"/><stop offset="0.1852" stop-color="#e27d81"/><stop offset="0.1975" stop-color="#e27d81"/><stop offset="0.1975" stop-color="#db5760"/><stop offset="0.2099" stop-color="#db5760"/><stop offset="0.2099" stop-color="#e47f83"/><stop offset="0.2222" stop-color="#e47f83"/><stop offset="0.2222" stop-color="#de5a63"/><stop offset="0.2346" stop-color="#de5a63"/><stop offset="0.2346" stop-color="#dd5962"/><stop offset="0.2469" stop-color="#dd5962"/><stop offset="0.2469" stop-color="#dd5962"/><stop offset="0.2593" stop-color="#dd5962"/><stop offset="0.2593" stop-color="#e37e82"/><stop offset="0.2716" stop-color="#e37e82"/><stop offset="0.2716" stop-color="#f0b2b5"/><stop offset="0.2840" stop-color="#f0b2b5"/><stop offset="0.2840" stop-color="#ecaeb1"/><stop offset="0.2963" stop-color="#ecaeb1"/><stop offset="0.2963" stop-color="#e47f83"/><stop offset="0.3086" stop-color="#e47f83"/><stop offset="0.3086" stop-color="#ebadb0"/><stop offset="0.3210" stop-color="#ebadb0"/><stop offset="0.3210" stop-color="#e58084"/><stop offset="0.3333" stop-color="#e58084"/><stop offset="0.3333" stop-color="#dd5962"/><stop offset="0.3457" stop-color="#dd5962"/><stop offset="0.3457" stop-color="#e68185"/><stop offset="0.3580" stop-color="#e68185"/><stop offset="0.3580" stop-color="#efb1b4"/><stop offset="0.3704" stop-color="#efb1b4"/><stop offset="0.3704" stop-color="#f1edf5"/><stop offset="0.3827" stop-color="#f1edf5"/><stop offset="0.3827" stop-color="#eeb0b3"/><stop offset="0.3951" stop-color="#eeb0b3"/><stop offset="0.3951" stop-color="#b2b3da"/><stop offset="0.4074" stop-color="#b2b3da"/><stop offset="0.4074" stop-color="#9e9fd0"/><stop offset="0.4198" stop-color="#9e9fd0"/><stop offset="0.4198" stop-color="#9e9fd0"/><stop offset="0.4321" stop-color="#9e9fd0"/><stop offset="0.4321" stop-color="#9d9ecf"/><stop offset="0.4444" stop-color="#9d9ecf"/><stop offset="0.4444" stop-color="#9e9fd0"/><stop offset="0.4568" stop-color="#9e9fd0"/><stop offset="0.4568" stop-color="#9e9fd0"/><stop offset="0.4691" stop-color="#9e9fd0"/><stop offset="0.4691" stop-color="#9e9fd0"/><stop offset="0.4815" stop-color="#9e9fd0"/><stop offset="0.4815" stop-color="#9d9ecf"/><stop offset="0.4938" stop-color="#9d9ecf"/><stop offset="0.4938" stop-color="#9d9ecf"/><stop offset="0.5062" stop-color="#9d9ecf"/><stop offset="0.5062" stop-color="#9d9ecf"/><stop offset="0.5185" stop-color="#9d9ecf"/><stop offset="0.5185" stop-color="#999acb"/><stop offset="0.5309" stop-color="#999acb"/><stop offset="0.5309" stop-color="#9e9fd0"/><stop offset="0.5432" stop-color="#9e9fd0"/><stop offset="0.5432" stop-color="#8586c1"/><stop offset="0.5556" stop-color="#8586c1"/><stop offset="0.5556" stop-color="#9c9dce"/><stop offset="0.5679" stop-color="#9c9dce"/><stop offset="0.5679" stop-color="#b6b7de"/><stop offset="0.5802" stop-color="#b6b7de"/><stop offset="0.5802" stop-color="#b3b4db"/><stop offset="0.5926" stop-color="#b3b4db"/><stop offset="0.5926" stop-color="#eeeaf2"/><stop offset="0.6049" stop-color="#eeeaf2"/><stop offset="0.6049" stop-color="#8687c2"/><stop offset="0.6173" stop-color="#8687c2"/><stop offset="0.6173" stop-color="#9e9fd0"/><stop offset="0.6296" stop-color="#9e9fd0"/><stop offset="0.6296" stop-color="#b6b7de"/><stop offset="0.6420" stop-color="#b6b7de"/><stop offset="0.6420" stop-color="#9e9fd0"/><stop offset="0.6543" stop-color="#9e9fd0"/><stop offset="0.6543" stop-color="#9e9fd0"/><stop offset="0.6667" stop-color="#9e9fd0"/><stop offset="0.6667" stop-color="#8788c3"/><stop offset="0.6790" stop-color="#8788c3"/><stop offset="0.6790" stop-color="#9b9ccd"/><stop offset="0.6914" stop-color="#9b9ccd"/><stop offset="0.6914" stop-color="#b2b3da"/><stop offset="0.7037" stop-color="#b2b3da"/><stop offset="0.7037" stop-color="#b6b7de"/><stop offset="0.7160" stop-color="#b6b7de"/><stop offset="0.7160" stop-color="#999acb"/><stop offset="0.7284" stop-color="#999acb"/><stop offset="0.7284" stop-color="#8889c4"/><stop offset="0.7407" stop-color="#8889c4"/><stop offset="0.7407" stop-color="#8687c2"/><stop offset="0.7531" stop-color="#8687c2"/><stop offset="0.7531" stop-color="#8485c0"/><stop offset="0.7654" stop-color="#8485c0"/><stop offset="0.7654" stop-color="#8384bf"/><stop offset="0.7778" stop-color="#8384bf"/><stop offset="0.7778" stop-color="#8788c3"/><stop offset="0.7901" stop-color="#8788c3"/><stop offset="0.7901" stop-color="#8384bf"/><stop offset="0.8025" stop-color="#8384bf"/><stop offset="0.8025" stop-color="#8586c1"/><stop offset="0.8148" stop-color="#8586c1"/><stop offset="0.8148" stop-color="#8384bf"/><stop offset="0.8272" stop-color="#8384bf"/><stop offset="0.8272" stop-color="#8384bf"/><stop offset="0.8395" stop-color="#8384bf"/><stop offset="0.8395" stop-color="#8485c0"/><stop offset="0.8519" stop-color="#8485c0"/><stop offset="0.8519" stop-color="#8687c2"/><stop offset="0.8642" stop-color="#8687c2"/><stop offset="0.8642" stop-color="#8384bf"/><stop offset="0.8765" stop-color="#8384bf"/><stop offset="0.8765" stop-color="#8889c4"/><stop offset="0.8889" stop-color="#8889c4"/><stop offset="0.8889" stop-color="#8687c2"/><stop offset="0.9012" stop-color="#8687c2"/><stop offset="0.9012" stop-color="#8485c0"/><stop offset="0.9136" stop-color="#8485c0"/><stop offset="0.9136" stop-color="#8788c3"/><stop offset="0.9259" stop-color="#8788c3"/><stop offset="0.9259" stop-color="#8384bf"/><stop offset="0.9383" stop-color="#8384bf"/><stop offset="0.9383" stop-color="#5e5eb0"/><stop offset="0.9506" stop-color="#5e5eb0"/><stop offset="0.9506" stop-color="#9c9dce"/><stop offset="0.9630" stop-color="#9c9dce"/><stop offset="0.9630" stop-color="#9e9fd0"/><stop offset="0.9753" stop-color="#9e9fd0"/><stop offset="0.9753" stop-color="#9d9ecf"/><stop offset="0.9877" stop-color="#9d9ecf"/><stop offset="0.9877" stop-color="#999acb"/><stop offset="1.0000" stop-color="#999acb"/></linearGradient></defs>
<rect x="325.20" y="247.40" width="108.90" height="25.81" fill="url(#gF0)"/>
<defs><linearGradient id="gF1" gradientUnits="userSpaceOnUse" x1="325.20" y1="0" x2="434.10" y2="0"><stop offset="0.0000" stop-color="#f0b2b5"/><stop offset="0.0123" stop-color="#f0b2b5"/><stop offset="0.0123" stop-color="#ebadb0"/><stop offset="0.0247" stop-color="#ebadb0"/><stop offset="0.0247" stop-color="#da565f"/><stop offset="0.0370" stop-color="#da565f"/><stop offset="0.0370" stop-color="#dc5861"/><stop offset="0.0494" stop-color="#dc5861"/><stop offset="0.0494" stop-color="#e27d81"/><stop offset="0.0617" stop-color="#e27d81"/><stop offset="0.0617" stop-color="#efebf3"/><stop offset="0.0741" stop-color="#efebf3"/><stop offset="0.0741" stop-color="#b2b3da"/><stop offset="0.0864" stop-color="#b2b3da"/><stop offset="0.0864" stop-color="#efebf3"/><stop offset="0.0988" stop-color="#efebf3"/><stop offset="0.0988" stop-color="#edafb2"/><stop offset="0.1111" stop-color="#edafb2"/><stop offset="0.1111" stop-color="#efebf3"/><stop offset="0.1235" stop-color="#efebf3"/><stop offset="0.1235" stop-color="#edafb2"/><stop offset="0.1358" stop-color="#edafb2"/><stop offset="0.1358" stop-color="#efebf3"/><stop offset="0.1481" stop-color="#efebf3"/><stop offset="0.1481" stop-color="#eeb0b3"/><stop offset="0.1605" stop-color="#eeb0b3"/><stop offset="0.1605" stop-color="#edafb2"/><stop offset="0.1728" stop-color="#edafb2"/><stop offset="0.1728" stop-color="#f0ecf4"/><stop offset="0.1852" stop-color="#f0ecf4"/><stop offset="0.1852" stop-color="#ecaeb1"/><stop offset="0.1975" stop-color="#ecaeb1"/><stop offset="0.1975" stop-color="#edafb2"/><stop offset="0.2099" stop-color="#edafb2"/><stop offset="0.2099" stop-color="#ede9f1"/><stop offset="0.2222" stop-color="#ede9f1"/><stop offset="0.2222" stop-color="#edafb2"/><stop offset="0.2346" stop-color="#edafb2"/><stop offset="0.2346" stop-color="#f0ecf4"/><stop offset="0.2469" stop-color="#f0ecf4"/><stop offset="0.2469" stop-color="#ebadb0"/><stop offset="0.2593" stop-color="#ebadb0"/><stop offset="0.2593" stop-color="#e37e82"/><stop offset="0.2716" stop-color="#e37e82"/><stop offset="0.2716" stop-color="#dc5861"/><stop offset="0.2840" stop-color="#dc5861"/><stop offset="0.2840" stop-color="#e47f83"/><stop offset="0.2963" stop-color="#e47f83"/><stop offset="0.2963" stop-color="#eeb0b3"/><stop offset="0.3086" stop-color="#eeb0b3"/><stop offset="0.3086" stop-color="#e37e82"/><stop offset="0.3210" stop-color="#e37e82"/><stop offset="0.3210" stop-color="#dd5962"/><stop offset="0.3333" stop-color="#dd5962"/><stop offset="0.3333" stop-color="#e27d81"/><stop offset="0.3457" stop-color="#e27d81"/><stop offset="0.3457" stop-color="#de5a63"/><stop offset="0.3580" stop-color="#de5a63"/><stop offset="0.3580" stop-color="#e47f83"/><stop offset="0.3704" stop-color="#e47f83"/><stop offset="0.3704" stop-color="#ecaeb1"/><stop offset="0.3827" stop-color="#ecaeb1"/><stop offset="0.3827" stop-color="#b3b4db"/><stop offset="0.3951" stop-color="#b3b4db"/><stop offset="0.3951" stop-color="#9e9fd0"/><stop offset="0.4074" stop-color="#9e9fd0"/><stop offset="0.4074" stop-color="#9d9ecf"/><stop offset="0.4198" stop-color="#9d9ecf"/><stop offset="0.4198" stop-color="#9e9fd0"/><stop offset="0.4321" stop-color="#9e9fd0"/><stop offset="0.4321" stop-color="#9e9fd0"/><stop offset="0.4444" stop-color="#9e9fd0"/><stop offset="0.4444" stop-color="#9b9ccd"/><stop offset="0.4568" stop-color="#9b9ccd"/><stop offset="0.4568" stop-color="#9d9ecf"/><stop offset="0.4691" stop-color="#9d9ecf"/><stop offset="0.4691" stop-color="#999acb"/><stop offset="0.4815" stop-color="#999acb"/><stop offset="0.4815" stop-color="#9d9ecf"/><stop offset="0.4938" stop-color="#9d9ecf"/><stop offset="0.4938" stop-color="#9a9bcc"/><stop offset="0.5062" stop-color="#9a9bcc"/><stop offset="0.5062" stop-color="#9b9ccd"/><stop offset="0.5185" stop-color="#9b9ccd"/><stop offset="0.5185" stop-color="#9d9ecf"/><stop offset="0.5309" stop-color="#9d9ecf"/><stop offset="0.5309" stop-color="#9c9dce"/><stop offset="0.5432" stop-color="#9c9dce"/><stop offset="0.5432" stop-color="#6060b2"/><stop offset="0.5556" stop-color="#6060b2"/><stop offset="0.5556" stop-color="#8485c0"/><stop offset="0.5679" stop-color="#8485c0"/><stop offset="0.5679" stop-color="#9b9ccd"/><stop offset="0.5802" stop-color="#9b9ccd"/><stop offset="0.5802" stop-color="#b6b7de"/><stop offset="0.5926" stop-color="#b6b7de"/><stop offset="0.5926" stop-color="#999acb"/><stop offset="0.6049" stop-color="#999acb"/><stop offset="0.6049" stop-color="#8384bf"/><stop offset="0.6173" stop-color="#8384bf"/><stop offset="0.6173" stop-color="#9c9dce"/><stop offset="0.6296" stop-color="#9c9dce"/><stop offset="0.6296" stop-color="#b1b2d9"/><stop offset="0.6420" stop-color="#b1b2d9"/><stop offset="0.6420" stop-color="#b2b3da"/><stop offset="0.6543" stop-color="#b2b3da"/><stop offset="0.6543" stop-color="#9a9bcc"/><stop offset="0.6667" stop-color="#9a9bcc"/><stop offset="0.6667" stop-color="#999acb"/><stop offset="0.6790" stop-color="#999acb"/><stop offset="0.6790" stop-color="#9b9ccd"/><stop offset="0.6914" stop-color="#9b9ccd"/><stop offset="0.6914" stop-color="#9e9fd0"/><stop offset="0.7037" stop-color="#9e9fd0"/><stop offset="0.7037" stop-color="#9e9fd0"/><stop offset="0.7160" stop-color="#9e9fd0"/><stop offset="0.7160" stop-color="#999acb"/><stop offset="0.7284" stop-color="#999acb"/><stop offset="0.7284" stop-color="#8889c4"/><stop offset="0.7407" stop-color="#8889c4"/><stop offset="0.7407" stop-color="#8889c4"/><stop offset="0.7531" stop-color="#8889c4"/><stop offset="0.7531" stop-color="#8889c4"/><stop offset="0.7654" stop-color="#8889c4"/><stop offset="0.7654" stop-color="#8485c0"/><stop offset="0.7778" stop-color="#8485c0"/><stop offset="0.7778" stop-color="#8485c0"/><stop offset="0.7901" stop-color="#8485c0"/><stop offset="0.7901" stop-color="#8384bf"/><stop offset="0.8025" stop-color="#8384bf"/><stop offset="0.8025" stop-color="#8788c3"/><stop offset="0.8148" stop-color="#8788c3"/><stop offset="0.8148" stop-color="#8788c3"/><stop offset="0.8272" stop-color="#8788c3"/><stop offset="0.8272" stop-color="#8485c0"/><stop offset="0.8395" stop-color="#8485c0"/><stop offset="0.8395" stop-color="#f2eef6"/><stop offset="0.8519" stop-color="#f2eef6"/><stop offset="0.8519" stop-color="#8788c3"/><stop offset="0.8642" stop-color="#8788c3"/><stop offset="0.8642" stop-color="#8788c3"/><stop offset="0.8765" stop-color="#8788c3"/><stop offset="0.8765" stop-color="#8586c1"/><stop offset="0.8889" stop-color="#8586c1"/><stop offset="0.8889" stop-color="#8889c4"/><stop offset="0.9012" stop-color="#8889c4"/><stop offset="0.9012" stop-color="#8687c2"/><stop offset="0.9136" stop-color="#8687c2"/><stop offset="0.9136" stop-color="#8788c3"/><stop offset="0.9259" stop-color="#8788c3"/><stop offset="0.9259" stop-color="#8889c4"/><stop offset="0.9383" stop-color="#8889c4"/><stop offset="0.9383" stop-color="#b1b2d9"/><stop offset="0.9506" stop-color="#b1b2d9"/><stop offset="0.9506" stop-color="#8384bf"/><stop offset="0.9630" stop-color="#8384bf"/><stop offset="0.9630" stop-color="#8485c0"/><stop offset="0.9753" stop-color="#8485c0"/><stop offset="0.9753" stop-color="#8889c4"/><stop offset="0.9877" stop-color="#8889c4"/><stop offset="0.9877" stop-color="#8485c0"/><stop offset="1.0000" stop-color="#8485c0"/></linearGradient></defs>
<rect x="325.20" y="273.13" width="108.90" height="25.81" fill="url(#gF1)"/>
<defs><linearGradient id="gF2" gradientUnits="userSpaceOnUse" x1="325.20" y1="0" x2="434.10" y2="0"><stop offset="0.0000" stop-color="#edafb2"/><stop offset="0.0123" stop-color="#edafb2"/><stop offset="0.0123" stop-color="#d0323c"/><stop offset="0.0247" stop-color="#d0323c"/><stop offset="0.0247" stop-color="#dc5861"/><stop offset="0.0370" stop-color="#dc5861"/><stop offset="0.0370" stop-color="#e47f83"/><stop offset="0.0494" stop-color="#e47f83"/><stop offset="0.0494" stop-color="#dd5962"/><stop offset="0.0617" stop-color="#dd5962"/><stop offset="0.0617" stop-color="#e47f83"/><stop offset="0.0741" stop-color="#e47f83"/><stop offset="0.0741" stop-color="#efb1b4"/><stop offset="0.0864" stop-color="#efb1b4"/><stop offset="0.0864" stop-color="#d9555e"/><stop offset="0.0988" stop-color="#d9555e"/><stop offset="0.0988" stop-color="#dd5962"/><stop offset="0.1111" stop-color="#dd5962"/><stop offset="0.1111" stop-color="#db5760"/><stop offset="0.1235" stop-color="#db5760"/><stop offset="0.1235" stop-color="#dc5861"/><stop offset="0.1358" stop-color="#dc5861"/><stop offset="0.1358" stop-color="#e27d81"/><stop offset="0.1481" stop-color="#e27d81"/><stop offset="0.1481" stop-color="#de5a63"/><stop offset="0.1605" stop-color="#de5a63"/><stop offset="0.1605" stop-color="#e27d81"/><stop offset="0.1728" stop-color="#e27d81"/><stop offset="0.1728" stop-color="#e68185"/><stop offset="0.1852" stop-color="#e68185"/><stop offset="0.1852" stop-color="#eeb0b3"/><stop offset="0.1975" stop-color="#eeb0b3"/><stop offset="0.1975" stop-color="#ebadb0"/><stop offset="0.2099" stop-color="#ebadb0"/><stop offset="0.2099" stop-color="#e78286"/><stop offset="0.2222" stop-color="#e78286"/><stop offset="0.2222" stop-color="#efb1b4"/><stop offset="0.2346" stop-color="#efb1b4"/><stop offset="0.2346" stop-color="#ebadb0"/><stop offset="0.2469" stop-color="#ebadb0"/><stop offset="0.2469" stop-color="#9a9bcc"/><stop offset="0.2593" stop-color="#9a9bcc"/><stop offset="0.2593" stop-color="#b6b7de"/><stop offset="0.2716" stop-color="#b6b7de"/><stop offset="0.2716" stop-color="#9b9ccd"/><stop offset="0.2840" stop-color="#9b9ccd"/><stop offset="0.2840" stop-color="#eeb0b3"/><stop offset="0.2963" stop-color="#eeb0b3"/><stop offset="0.2963" stop-color="#e47f83"/><stop offset="0.3086" stop-color="#e47f83"/><stop offset="0.3086" stop-color="#e27d81"/><stop offset="0.3210" stop-color="#e27d81"/><stop offset="0.3210" stop-color="#ede9f1"/><stop offset="0.3333" stop-color="#ede9f1"/><stop offset="0.3333" stop-color="#eeeaf2"/><stop offset="0.3457" stop-color="#eeeaf2"/><stop offset="0.3457" stop-color="#ede9f1"/><stop offset="0.3580" stop-color="#ede9f1"/><stop offset="0.3580" stop-color="#efebf3"/><stop offset="0.3704" stop-color="#efebf3"/><stop offset="0.3704" stop-color="#efebf3"/><stop offset="0.3827" stop-color="#efebf3"/><stop offset="0.3827" stop-color="#efb1b4"/><stop offset="0.3951" stop-color="#efb1b4"/><stop offset="0.3951" stop-color="#999acb"/><stop offset="0.4074" stop-color="#999acb"/><stop offset="0.4074" stop-color="#9d9ecf"/><stop offset="0.4198" stop-color="#9d9ecf"/><stop offset="0.4198" stop-color="#9a9bcc"/><stop offset="0.4321" stop-color="#9a9bcc"/><stop offset="0.4321" stop-color="#9c9dce"/><stop offset="0.4444" stop-color="#9c9dce"/><stop offset="0.4444" stop-color="#9b9ccd"/><stop offset="0.4568" stop-color="#9b9ccd"/><stop offset="0.4568" stop-color="#999acb"/><stop offset="0.4691" stop-color="#999acb"/><stop offset="0.4691" stop-color="#9d9ecf"/><stop offset="0.4815" stop-color="#9d9ecf"/><stop offset="0.4815" stop-color="#999acb"/><stop offset="0.4938" stop-color="#999acb"/><stop offset="0.4938" stop-color="#9d9ecf"/><stop offset="0.5062" stop-color="#9d9ecf"/><stop offset="0.5062" stop-color="#9a9bcc"/><stop offset="0.5185" stop-color="#9a9bcc"/><stop offset="0.5185" stop-color="#999acb"/><stop offset="0.5309" stop-color="#999acb"/><stop offset="0.5309" stop-color="#9c9dce"/><stop offset="0.5432" stop-color="#9c9dce"/><stop offset="0.5432" stop-color="#b5b6dd"/><stop offset="0.5556" stop-color="#b5b6dd"/><stop offset="0.5556" stop-color="#9e9fd0"/><stop offset="0.5679" stop-color="#9e9fd0"/><stop offset="0.5679" stop-color="#8485c0"/><stop offset="0.5802" stop-color="#8485c0"/><stop offset="0.5802" stop-color="#8384bf"/><stop offset="0.5926" stop-color="#8384bf"/><stop offset="0.5926" stop-color="#9e9fd0"/><stop offset="0.6049" stop-color="#9e9fd0"/><stop offset="0.6049" stop-color="#8485c0"/><stop offset="0.6173" stop-color="#8485c0"/><stop offset="0.6173" stop-color="#9c9dce"/><stop offset="0.6296" stop-color="#9c9dce"/><stop offset="0.6296" stop-color="#8687c2"/><stop offset="0.6420" stop-color="#8687c2"/><stop offset="0.6420" stop-color="#9e9fd0"/><stop offset="0.6543" stop-color="#9e9fd0"/><stop offset="0.6543" stop-color="#8687c2"/><stop offset="0.6667" stop-color="#8687c2"/><stop offset="0.6667" stop-color="#9d9ecf"/><stop offset="0.6790" stop-color="#9d9ecf"/><stop offset="0.6790" stop-color="#9a9bcc"/><stop offset="0.6914" stop-color="#9a9bcc"/><stop offset="0.6914" stop-color="#6161b3"/><stop offset="0.7037" stop-color="#6161b3"/><stop offset="0.7037" stop-color="#8586c1"/><stop offset="0.7160" stop-color="#8586c1"/><stop offset="0.7160" stop-color="#8788c3"/><stop offset="0.7284" stop-color="#8788c3"/><stop offset="0.7284" stop-color="#8687c2"/><stop offset="0.7407" stop-color="#8687c2"/><stop offset="0.7407" stop-color="#8384bf"/><stop offset="0.7531" stop-color="#8384bf"/><stop offset="0.7531" stop-color="#8586c1"/><stop offset="0.7654" stop-color="#8586c1"/><stop offset="0.7654" stop-color="#8687c2"/><stop offset="0.7778" stop-color="#8687c2"/><stop offset="0.7778" stop-color="#8485c0"/><stop offset="0.7901" stop-color="#8485c0"/><stop offset="0.7901" stop-color="#8485c0"/><stop offset="0.8025" stop-color="#8485c0"/><stop offset="0.8025" stop-color="#8485c0"/><stop offset="0.8148" stop-color="#8485c0"/><stop offset="0.8148" stop-color="#8586c1"/><stop offset="0.8272" stop-color="#8586c1"/><stop offset="0.8272" stop-color="#8889c4"/><stop offset="0.8395" stop-color="#8889c4"/><stop offset="0.8395" stop-color="#8889c4"/><stop offset="0.8519" stop-color="#8889c4"/><stop offset="0.8519" stop-color="#8687c2"/><stop offset="0.8642" stop-color="#8687c2"/><stop offset="0.8642" stop-color="#8788c3"/><stop offset="0.8765" stop-color="#8788c3"/><stop offset="0.8765" stop-color="#8889c4"/><stop offset="0.8889" stop-color="#8889c4"/><stop offset="0.8889" stop-color="#8889c4"/><stop offset="0.9012" stop-color="#8889c4"/><stop offset="0.9012" stop-color="#8687c2"/><stop offset="0.9136" stop-color="#8687c2"/><stop offset="0.9136" stop-color="#8384bf"/><stop offset="0.9259" stop-color="#8384bf"/><stop offset="0.9259" stop-color="#8586c1"/><stop offset="0.9383" stop-color="#8586c1"/><stop offset="0.9383" stop-color="#8485c0"/><stop offset="0.9506" stop-color="#8485c0"/><stop offset="0.9506" stop-color="#8687c2"/><stop offset="0.9630" stop-color="#8687c2"/><stop offset="0.9630" stop-color="#8586c1"/><stop offset="0.9753" stop-color="#8586c1"/><stop offset="0.9753" stop-color="#8384bf"/><stop offset="0.9877" stop-color="#8384bf"/><stop offset="0.9877" stop-color="#8687c2"/><stop offset="1.0000" stop-color="#8687c2"/></linearGradient></defs>
<rect x="325.20" y="298.87" width="108.90" height="25.81" fill="url(#gF2)"/>
<defs><linearGradient id="gF3" gradientUnits="userSpaceOnUse" x1="325.20" y1="0" x2="434.10" y2="0"><stop offset="0.0000" stop-color="#b3b4db"/><stop offset="0.0123" stop-color="#b3b4db"/><stop offset="0.0123" stop-color="#9b9ccd"/><stop offset="0.0247" stop-color="#9b9ccd"/><stop offset="0.0247" stop-color="#9e9fd0"/><stop offset="0.0370" stop-color="#9e9fd0"/><stop offset="0.0370" stop-color="#9d9ecf"/><stop offset="0.0494" stop-color="#9d9ecf"/><stop offset="0.0494" stop-color="#b1b2d9"/><stop offset="0.0617" stop-color="#b1b2d9"/><stop offset="0.0617" stop-color="#9c9dce"/><stop offset="0.0741" stop-color="#9c9dce"/><stop offset="0.0741" stop-color="#9d9ecf"/><stop offset="0.0864" stop-color="#9d9ecf"/><stop offset="0.0864" stop-color="#9a9bcc"/><stop offset="0.0988" stop-color="#9a9bcc"/><stop offset="0.0988" stop-color="#8485c0"/><stop offset="0.1111" stop-color="#8485c0"/><stop offset="0.1111" stop-color="#8788c3"/><stop offset="0.1235" stop-color="#8788c3"/><stop offset="0.1235" stop-color="#8889c4"/><stop offset="0.1358" stop-color="#8889c4"/><stop offset="0.1358" stop-color="#8788c3"/><stop offset="0.1481" stop-color="#8788c3"/><stop offset="0.1481" stop-color="#8586c1"/><stop offset="0.1605" stop-color="#8586c1"/><stop offset="0.1605" stop-color="#8788c3"/><stop offset="0.1728" stop-color="#8788c3"/><stop offset="0.1728" stop-color="#8889c4"/><stop offset="0.1852" stop-color="#8889c4"/><stop offset="0.1852" stop-color="#8384bf"/><stop offset="0.1975" stop-color="#8384bf"/><stop offset="0.1975" stop-color="#8384bf"/><stop offset="0.2099" stop-color="#8384bf"/><stop offset="0.2099" stop-color="#9c9dce"/><stop offset="0.2222" stop-color="#9c9dce"/><stop offset="0.2222" stop-color="#b6b7de"/><stop offset="0.2346" stop-color="#b6b7de"/><stop offset="0.2346" stop-color="#b6b7de"/><stop offset="0.2469" stop-color="#b6b7de"/><stop offset="0.2469" stop-color="#9a9bcc"/><stop offset="0.2593" stop-color="#9a9bcc"/><stop offset="0.2593" stop-color="#9b9ccd"/><stop offset="0.2716" stop-color="#9b9ccd"/><stop offset="0.2716" stop-color="#b5b6dd"/><stop offset="0.2840" stop-color="#b5b6dd"/><stop offset="0.2840" stop-color="#9b9ccd"/><stop offset="0.2963" stop-color="#9b9ccd"/><stop offset="0.2963" stop-color="#9a9bcc"/><stop offset="0.3086" stop-color="#9a9bcc"/><stop offset="0.3086" stop-color="#9b9ccd"/><stop offset="0.3210" stop-color="#9b9ccd"/><stop offset="0.3210" stop-color="#9c9dce"/><stop offset="0.3333" stop-color="#9c9dce"/><stop offset="0.3333" stop-color="#8485c0"/><stop offset="0.3457" stop-color="#8485c0"/><stop offset="0.3457" stop-color="#8788c3"/><stop offset="0.3580" stop-color="#8788c3"/><stop offset="0.3580" stop-color="#8687c2"/><stop offset="0.3704" stop-color="#8687c2"/><stop offset="0.3704" stop-color="#8586c1"/><stop offset="0.3827" stop-color="#8586c1"/><stop offset="0.3827" stop-color="#9a9bcc"/><stop offset="0.3951" stop-color="#9a9bcc"/><stop offset="0.3951" stop-color="#9e9fd0"/><stop offset="0.4074" stop-color="#9e9fd0"/><stop offset="0.4074" stop-color="#999acb"/><stop offset="0.4198" stop-color="#999acb"/><stop offset="0.4198" stop-color="#9a9bcc"/><stop offset="0.4321" stop-color="#9a9bcc"/><stop offset="0.4321" stop-color="#9b9ccd"/><stop offset="0.4444" stop-color="#9b9ccd"/><stop offset="0.4444" stop-color="#9b9ccd"/><stop offset="0.4568" stop-color="#9b9ccd"/><stop offset="0.4568" stop-color="#9a9bcc"/><stop offset="0.4691" stop-color="#9a9bcc"/><stop offset="0.4691" stop-color="#9e9fd0"/><stop offset="0.4815" stop-color="#9e9fd0"/><stop offset="0.4815" stop-color="#9a9bcc"/><stop offset="0.4938" stop-color="#9a9bcc"/><stop offset="0.4938" stop-color="#9d9ecf"/><stop offset="0.5062" stop-color="#9d9ecf"/><stop offset="0.5062" stop-color="#9c9dce"/><stop offset="0.5185" stop-color="#9c9dce"/><stop offset="0.5185" stop-color="#9d9ecf"/><stop offset="0.5309" stop-color="#9d9ecf"/><stop offset="0.5309" stop-color="#b6b7de"/><stop offset="0.5432" stop-color="#b6b7de"/><stop offset="0.5432" stop-color="#efebf3"/><stop offset="0.5556" stop-color="#efebf3"/><stop offset="0.5556" stop-color="#ebadb0"/><stop offset="0.5679" stop-color="#ebadb0"/><stop offset="0.5679" stop-color="#db5760"/><stop offset="0.5802" stop-color="#db5760"/><stop offset="0.5802" stop-color="#e27d81"/><stop offset="0.5926" stop-color="#e27d81"/><stop offset="0.5926" stop-color="#d9555e"/><stop offset="0.6049" stop-color="#d9555e"/><stop offset="0.6049" stop-color="#d9555e"/><stop offset="0.6173" stop-color="#d9555e"/><stop offset="0.6173" stop-color="#d9555e"/><stop offset="0.6296" stop-color="#d9555e"/><stop offset="0.6296" stop-color="#e78286"/><stop offset="0.6420" stop-color="#e78286"/><stop offset="0.6420" stop-color="#dd5962"/><stop offset="0.6543" stop-color="#dd5962"/><stop offset="0.6543" stop-color="#da565f"/><stop offset="0.6667" stop-color="#da565f"/><stop offset="0.6667" stop-color="#d9555e"/><stop offset="0.6790" stop-color="#d9555e"/><stop offset="0.6790" stop-color="#cd2f39"/><stop offset="0.6914" stop-color="#cd2f39"/><stop offset="0.6914" stop-color="#edafb2"/><stop offset="0.7037" stop-color="#edafb2"/><stop offset="0.7037" stop-color="#edafb2"/><stop offset="0.7160" stop-color="#edafb2"/><stop offset="0.7160" stop-color="#f2eef6"/><stop offset="0.7284" stop-color="#f2eef6"/><stop offset="0.7284" stop-color="#edafb2"/><stop offset="0.7407" stop-color="#edafb2"/><stop offset="0.7407" stop-color="#eeb0b3"/><stop offset="0.7531" stop-color="#eeb0b3"/><stop offset="0.7531" stop-color="#f0ecf4"/><stop offset="0.7654" stop-color="#f0ecf4"/><stop offset="0.7654" stop-color="#ecaeb1"/><stop offset="0.7778" stop-color="#ecaeb1"/><stop offset="0.7778" stop-color="#ecaeb1"/><stop offset="0.7901" stop-color="#ecaeb1"/><stop offset="0.7901" stop-color="#ce303a"/><stop offset="0.8025" stop-color="#ce303a"/><stop offset="0.8025" stop-color="#cf313b"/><stop offset="0.8148" stop-color="#cf313b"/><stop offset="0.8148" stop-color="#d0323c"/><stop offset="0.8272" stop-color="#d0323c"/><stop offset="0.8272" stop-color="#db5760"/><stop offset="0.8395" stop-color="#db5760"/><stop offset="0.8395" stop-color="#de5a63"/><stop offset="0.8519" stop-color="#de5a63"/><stop offset="0.8519" stop-color="#dc5861"/><stop offset="0.8642" stop-color="#dc5861"/><stop offset="0.8642" stop-color="#da565f"/><stop offset="0.8765" stop-color="#da565f"/><stop offset="0.8765" stop-color="#e47f83"/><stop offset="0.8889" stop-color="#e47f83"/><stop offset="0.8889" stop-color="#de5a63"/><stop offset="0.9012" stop-color="#de5a63"/><stop offset="0.9012" stop-color="#e27d81"/><stop offset="0.9136" stop-color="#e27d81"/><stop offset="0.9136" stop-color="#db5760"/><stop offset="0.9259" stop-color="#db5760"/><stop offset="0.9259" stop-color="#edafb2"/><stop offset="0.9383" stop-color="#edafb2"/><stop offset="0.9383" stop-color="#ebadb0"/><stop offset="0.9506" stop-color="#ebadb0"/><stop offset="0.9506" stop-color="#e68185"/><stop offset="0.9630" stop-color="#e68185"/><stop offset="0.9630" stop-color="#e78286"/><stop offset="0.9753" stop-color="#e78286"/><stop offset="0.9753" stop-color="#e37e82"/><stop offset="0.9877" stop-color="#e37e82"/><stop offset="0.9877" stop-color="#e47f83"/><stop offset="1.0000" stop-color="#e47f83"/></linearGradient></defs>
<rect x="325.20" y="324.60" width="108.90" height="25.81" fill="url(#gF3)"/>
<defs><linearGradient id="gF4" gradientUnits="userSpaceOnUse" x1="325.20" y1="0" x2="434.10" y2="0"><stop offset="0.0000" stop-color="#9a9bcc"/><stop offset="0.0123" stop-color="#9a9bcc"/><stop offset="0.0123" stop-color="#9d9ecf"/><stop offset="0.0247" stop-color="#9d9ecf"/><stop offset="0.0247" stop-color="#b1b2d9"/><stop offset="0.0370" stop-color="#b1b2d9"/><stop offset="0.0370" stop-color="#9b9ccd"/><stop offset="0.0494" stop-color="#9b9ccd"/><stop offset="0.0494" stop-color="#999acb"/><stop offset="0.0617" stop-color="#999acb"/><stop offset="0.0617" stop-color="#b5b6dd"/><stop offset="0.0741" stop-color="#b5b6dd"/><stop offset="0.0741" stop-color="#9c9dce"/><stop offset="0.0864" stop-color="#9c9dce"/><stop offset="0.0864" stop-color="#9c9dce"/><stop offset="0.0988" stop-color="#9c9dce"/><stop offset="0.0988" stop-color="#f1edf5"/><stop offset="0.1111" stop-color="#f1edf5"/><stop offset="0.1111" stop-color="#8384bf"/><stop offset="0.1235" stop-color="#8384bf"/><stop offset="0.1235" stop-color="#8889c4"/><stop offset="0.1358" stop-color="#8889c4"/><stop offset="0.1358" stop-color="#8889c4"/><stop offset="0.1481" stop-color="#8889c4"/><stop offset="0.1481" stop-color="#8485c0"/><stop offset="0.1605" stop-color="#8485c0"/><stop offset="0.1605" stop-color="#8687c2"/><stop offset="0.1728" stop-color="#8687c2"/><stop offset="0.1728" stop-color="#8687c2"/><stop offset="0.1852" stop-color="#8687c2"/><stop offset="0.1852" stop-color="#8889c4"/><stop offset="0.1975" stop-color="#8889c4"/><stop offset="0.1975" stop-color="#8687c2"/><stop offset="0.2099" stop-color="#8687c2"/><stop offset="0.2099" stop-color="#8586c1"/><stop offset="0.2222" stop-color="#8586c1"/><stop offset="0.2222" stop-color="#b2b3da"/><stop offset="0.2346" stop-color="#b2b3da"/><stop offset="0.2346" stop-color="#9a9bcc"/><stop offset="0.2469" stop-color="#9a9bcc"/><stop offset="0.2469" stop-color="#9c9dce"/><stop offset="0.2593" stop-color="#9c9dce"/><stop offset="0.2593" stop-color="#999acb"/><stop offset="0.2716" stop-color="#999acb"/><stop offset="0.2716" stop-color="#8586c1"/><stop offset="0.2840" stop-color="#8586c1"/><stop offset="0.2840" stop-color="#8586c1"/><stop offset="0.2963" stop-color="#8586c1"/><stop offset="0.2963" stop-color="#6060b2"/><stop offset="0.3086" stop-color="#6060b2"/><stop offset="0.3086" stop-color="#6060b2"/><stop offset="0.3210" stop-color="#6060b2"/><stop offset="0.3210" stop-color="#8384bf"/><stop offset="0.3333" stop-color="#8384bf"/><stop offset="0.3333" stop-color="#8485c0"/><stop offset="0.3457" stop-color="#8485c0"/><stop offset="0.3457" stop-color="#9e9fd0"/><stop offset="0.3580" stop-color="#9e9fd0"/><stop offset="0.3580" stop-color="#999acb"/><stop offset="0.3704" stop-color="#999acb"/><stop offset="0.3704" stop-color="#9b9ccd"/><stop offset="0.3827" stop-color="#9b9ccd"/><stop offset="0.3827" stop-color="#b1b2d9"/><stop offset="0.3951" stop-color="#b1b2d9"/><stop offset="0.3951" stop-color="#e37e82"/><stop offset="0.4074" stop-color="#e37e82"/><stop offset="0.4074" stop-color="#de5a63"/><stop offset="0.4198" stop-color="#de5a63"/><stop offset="0.4198" stop-color="#e47f83"/><stop offset="0.4321" stop-color="#e47f83"/><stop offset="0.4321" stop-color="#f0b2b5"/><stop offset="0.4444" stop-color="#f0b2b5"/><stop offset="0.4444" stop-color="#e27d81"/><stop offset="0.4568" stop-color="#e27d81"/><stop offset="0.4568" stop-color="#e58084"/><stop offset="0.4691" stop-color="#e58084"/><stop offset="0.4691" stop-color="#e58084"/><stop offset="0.4815" stop-color="#e58084"/><stop offset="0.4815" stop-color="#e37e82"/><stop offset="0.4938" stop-color="#e37e82"/><stop offset="0.4938" stop-color="#e68185"/><stop offset="0.5062" stop-color="#e68185"/><stop offset="0.5062" stop-color="#e27d81"/><stop offset="0.5185" stop-color="#e27d81"/><stop offset="0.5185" stop-color="#e58084"/><stop offset="0.5309" stop-color="#e58084"/><stop offset="0.5309" stop-color="#e58084"/><stop offset="0.5432" stop-color="#e58084"/><stop offset="0.5432" stop-color="#d9555e"/><stop offset="0.5556" stop-color="#d9555e"/><stop offset="0.5556" stop-color="#dc5861"/><stop offset="0.5679" stop-color="#dc5861"/><stop offset="0.5679" stop-color="#eeeaf2"/><stop offset="0.5802" stop-color="#eeeaf2"/><stop offset="0.5802" stop-color="#f0b2b5"/><stop offset="0.5926" stop-color="#f0b2b5"/><stop offset="0.5926" stop-color="#e78286"/><stop offset="0.6049" stop-color="#e78286"/><stop offset="0.6049" stop-color="#e37e82"/><stop offset="0.6173" stop-color="#e37e82"/><stop offset="0.6173" stop-color="#f0b2b5"/><stop offset="0.6296" stop-color="#f0b2b5"/><stop offset="0.6296" stop-color="#b3b4db"/><stop offset="0.6420" stop-color="#b3b4db"/><stop offset="0.6420" stop-color="#9b9ccd"/><stop offset="0.6543" stop-color="#9b9ccd"/><stop offset="0.6543" stop-color="#9c9dce"/><stop offset="0.6667" stop-color="#9c9dce"/><stop offset="0.6667" stop-color="#b5b6dd"/><stop offset="0.6790" stop-color="#b5b6dd"/><stop offset="0.6790" stop-color="#eeb0b3"/><stop offset="0.6914" stop-color="#eeb0b3"/><stop offset="0.6914" stop-color="#f0b2b5"/><stop offset="0.7037" stop-color="#f0b2b5"/><stop offset="0.7037" stop-color="#eeeaf2"/><stop offset="0.7160" stop-color="#eeeaf2"/><stop offset="0.7160" stop-color="#f2eef6"/><stop offset="0.7284" stop-color="#f2eef6"/><stop offset="0.7284" stop-color="#ebadb0"/><stop offset="0.7407" stop-color="#ebadb0"/><stop offset="0.7407" stop-color="#edafb2"/><stop offset="0.7531" stop-color="#edafb2"/><stop offset="0.7531" stop-color="#e27d81"/><stop offset="0.7654" stop-color="#e27d81"/><stop offset="0.7654" stop-color="#ecaeb1"/><stop offset="0.7778" stop-color="#ecaeb1"/><stop offset="0.7778" stop-color="#f0b2b5"/><stop offset="0.7901" stop-color="#f0b2b5"/><stop offset="0.7901" stop-color="#eeeaf2"/><stop offset="0.8025" stop-color="#eeeaf2"/><stop offset="0.8025" stop-color="#f2eef6"/><stop offset="0.8148" stop-color="#f2eef6"/><stop offset="0.8148" stop-color="#f1edf5"/><stop offset="0.8272" stop-color="#f1edf5"/><stop offset="0.8272" stop-color="#efebf3"/><stop offset="0.8395" stop-color="#efebf3"/><stop offset="0.8395" stop-color="#f0ecf4"/><stop offset="0.8519" stop-color="#f0ecf4"/><stop offset="0.8519" stop-color="#f0ecf4"/><stop offset="0.8642" stop-color="#f0ecf4"/><stop offset="0.8642" stop-color="#eeeaf2"/><stop offset="0.8765" stop-color="#eeeaf2"/><stop offset="0.8765" stop-color="#edafb2"/><stop offset="0.8889" stop-color="#edafb2"/><stop offset="0.8889" stop-color="#efb1b4"/><stop offset="0.9012" stop-color="#efb1b4"/><stop offset="0.9012" stop-color="#eeb0b3"/><stop offset="0.9136" stop-color="#eeb0b3"/><stop offset="0.9136" stop-color="#ede9f1"/><stop offset="0.9259" stop-color="#ede9f1"/><stop offset="0.9259" stop-color="#edafb2"/><stop offset="0.9383" stop-color="#edafb2"/><stop offset="0.9383" stop-color="#e58084"/><stop offset="0.9506" stop-color="#e58084"/><stop offset="0.9506" stop-color="#e78286"/><stop offset="0.9630" stop-color="#e78286"/><stop offset="0.9630" stop-color="#e27d81"/><stop offset="0.9753" stop-color="#e27d81"/><stop offset="0.9753" stop-color="#e68185"/><stop offset="0.9877" stop-color="#e68185"/><stop offset="0.9877" stop-color="#e68185"/><stop offset="1.0000" stop-color="#e68185"/></linearGradient></defs>
<rect x="325.20" y="350.33" width="108.90" height="25.81" fill="url(#gF4)"/>
<defs><linearGradient id="gF5" gradientUnits="userSpaceOnUse" x1="325.20" y1="0" x2="434.10" y2="0"><stop offset="0.0000" stop-color="#9c9dce"/><stop offset="0.0123" stop-color="#9c9dce"/><stop offset="0.0123" stop-color="#999acb"/><stop offset="0.0247" stop-color="#999acb"/><stop offset="0.0247" stop-color="#9a9bcc"/><stop offset="0.0370" stop-color="#9a9bcc"/><stop offset="0.0370" stop-color="#9d9ecf"/><stop offset="0.0494" stop-color="#9d9ecf"/><stop offset="0.0494" stop-color="#b4b5dc"/><stop offset="0.0617" stop-color="#b4b5dc"/><stop offset="0.0617" stop-color="#999acb"/><stop offset="0.0741" stop-color="#999acb"/><stop offset="0.0741" stop-color="#b4b5dc"/><stop offset="0.0864" stop-color="#b4b5dc"/><stop offset="0.0864" stop-color="#8586c1"/><stop offset="0.0988" stop-color="#8586c1"/><stop offset="0.0988" stop-color="#8788c3"/><stop offset="0.1111" stop-color="#8788c3"/><stop offset="0.1111" stop-color="#8384bf"/><stop offset="0.1235" stop-color="#8384bf"/><stop offset="0.1235" stop-color="#8485c0"/><stop offset="0.1358" stop-color="#8485c0"/><stop offset="0.1358" stop-color="#8485c0"/><stop offset="0.1481" stop-color="#8485c0"/><stop offset="0.1481" stop-color="#8788c3"/><stop offset="0.1605" stop-color="#8788c3"/><stop offset="0.1605" stop-color="#8788c3"/><stop offset="0.1728" stop-color="#8788c3"/><stop offset="0.1728" stop-color="#8889c4"/><stop offset="0.1852" stop-color="#8889c4"/><stop offset="0.1852" stop-color="#8586c1"/><stop offset="0.1975" stop-color="#8586c1"/><stop offset="0.1975" stop-color="#8687c2"/><stop offset="0.2099" stop-color="#8687c2"/><stop offset="0.2099" stop-color="#8889c4"/><stop offset="0.2222" stop-color="#8889c4"/><stop offset="0.2222" stop-color="#8889c4"/><stop offset="0.2346" stop-color="#8889c4"/><stop offset="0.2346" stop-color="#9c9dce"/><stop offset="0.2469" stop-color="#9c9dce"/><stop offset="0.2469" stop-color="#9a9bcc"/><stop offset="0.2593" stop-color="#9a9bcc"/><stop offset="0.2593" stop-color="#b4b5dc"/><stop offset="0.2716" stop-color="#b4b5dc"/><stop offset="0.2716" stop-color="#9c9dce"/><stop offset="0.2840" stop-color="#9c9dce"/><stop offset="0.2840" stop-color="#b5b6dd"/><stop offset="0.2963" stop-color="#b5b6dd"/><stop offset="0.2963" stop-color="#9a9bcc"/><stop offset="0.3086" stop-color="#9a9bcc"/><stop offset="0.3086" stop-color="#9d9ecf"/><stop offset="0.3210" stop-color="#9d9ecf"/><stop offset="0.3210" stop-color="#b5b6dd"/><stop offset="0.3333" stop-color="#b5b6dd"/><stop offset="0.3333" stop-color="#9a9bcc"/><stop offset="0.3457" stop-color="#9a9bcc"/><stop offset="0.3457" stop-color="#b2b3da"/><stop offset="0.3580" stop-color="#b2b3da"/><stop offset="0.3580" stop-color="#f2eef6"/><stop offset="0.3704" stop-color="#f2eef6"/><stop offset="0.3704" stop-color="#9b9ccd"/><stop offset="0.3827" stop-color="#9b9ccd"/><stop offset="0.3827" stop-color="#e47f83"/><stop offset="0.3951" stop-color="#e47f83"/><stop offset="0.3951" stop-color="#da565f"/><stop offset="0.4074" stop-color="#da565f"/><stop offset="0.4074" stop-color="#d9555e"/><stop offset="0.4198" stop-color="#d9555e"/><stop offset="0.4198" stop-color="#dc5861"/><stop offset="0.4321" stop-color="#dc5861"/><stop offset="0.4321" stop-color="#e68185"/><stop offset="0.4444" stop-color="#e68185"/><stop offset="0.4444" stop-color="#da565f"/><stop offset="0.4568" stop-color="#da565f"/><stop offset="0.4568" stop-color="#db5760"/><stop offset="0.4691" stop-color="#db5760"/><stop offset="0.4691" stop-color="#dd5962"/><stop offset="0.4815" stop-color="#dd5962"/><stop offset="0.4815" stop-color="#db5760"/><stop offset="0.4938" stop-color="#db5760"/><stop offset="0.4938" stop-color="#db5760"/><stop offset="0.5062" stop-color="#db5760"/><stop offset="0.5062" stop-color="#da565f"/><stop offset="0.5185" stop-color="#da565f"/><stop offset="0.5185" stop-color="#e58084"/><stop offset="0.5309" stop-color="#e58084"/><stop offset="0.5309" stop-color="#f0b2b5"/><stop offset="0.5432" stop-color="#f0b2b5"/><stop offset="0.5432" stop-color="#eeeaf2"/><stop offset="0.5556" stop-color="#eeeaf2"/><stop offset="0.5556" stop-color="#b3b4db"/><stop offset="0.5679" stop-color="#b3b4db"/><stop offset="0.5679" stop-color="#b2b3da"/><stop offset="0.5802" stop-color="#b2b3da"/><stop offset="0.5802" stop-color="#ede9f1"/><stop offset="0.5926" stop-color="#ede9f1"/><stop offset="0.5926" stop-color="#edafb2"/><stop offset="0.6049" stop-color="#edafb2"/><stop offset="0.6049" stop-color="#f0ecf4"/><stop offset="0.6173" stop-color="#f0ecf4"/><stop offset="0.6173" stop-color="#e58084"/><stop offset="0.6296" stop-color="#e58084"/><stop offset="0.6296" stop-color="#eeb0b3"/><stop offset="0.6420" stop-color="#eeb0b3"/><stop offset="0.6420" stop-color="#e68185"/><stop offset="0.6543" stop-color="#e68185"/><stop offset="0.6543" stop-color="#e27d81"/><stop offset="0.6667" stop-color="#e27d81"/><stop offset="0.6667" stop-color="#ebadb0"/><stop offset="0.6790" stop-color="#ebadb0"/><stop offset="0.6790" stop-color="#da565f"/><stop offset="0.6914" stop-color="#da565f"/><stop offset="0.6914" stop-color="#d9555e"/><stop offset="0.7037" stop-color="#d9555e"/><stop offset="0.7037" stop-color="#da565f"/><stop offset="0.7160" stop-color="#da565f"/><stop offset="0.7160" stop-color="#e27d81"/><stop offset="0.7284" stop-color="#e27d81"/><stop offset="0.7284" stop-color="#e68185"/><stop offset="0.7407" stop-color="#e68185"/><stop offset="0.7407" stop-color="#e47f83"/><stop offset="0.7531" stop-color="#e47f83"/><stop offset="0.7531" stop-color="#efb1b4"/><stop offset="0.7654" stop-color="#efb1b4"/><stop offset="0.7654" stop-color="#e68185"/><stop offset="0.7778" stop-color="#e68185"/><stop offset="0.7778" stop-color="#f0ecf4"/><stop offset="0.7901" stop-color="#f0ecf4"/><stop offset="0.7901" stop-color="#f2eef6"/><stop offset="0.8025" stop-color="#f2eef6"/><stop offset="0.8025" stop-color="#eeb0b3"/><stop offset="0.8148" stop-color="#eeb0b3"/><stop offset="0.8148" stop-color="#ecaeb1"/><stop offset="0.8272" stop-color="#ecaeb1"/><stop offset="0.8272" stop-color="#efb1b4"/><stop offset="0.8395" stop-color="#efb1b4"/><stop offset="0.8395" stop-color="#ecaeb1"/><stop offset="0.8519" stop-color="#ecaeb1"/><stop offset="0.8519" stop-color="#edafb2"/><stop offset="0.8642" stop-color="#edafb2"/><stop offset="0.8642" stop-color="#efb1b4"/><stop offset="0.8765" stop-color="#efb1b4"/><stop offset="0.8765" stop-color="#eeb0b3"/><stop offset="0.8889" stop-color="#eeb0b3"/><stop offset="0.8889" stop-color="#ecaeb1"/><stop offset="0.9012" stop-color="#ecaeb1"/><stop offset="0.9012" stop-color="#ecaeb1"/><stop offset="0.9136" stop-color="#ecaeb1"/><stop offset="0.9136" stop-color="#f0b2b5"/><stop offset="0.9259" stop-color="#f0b2b5"/><stop offset="0.9259" stop-color="#f0ecf4"/><stop offset="0.9383" stop-color="#f0ecf4"/><stop offset="0.9383" stop-color="#f0b2b5"/><stop offset="0.9506" stop-color="#f0b2b5"/><stop offset="0.9506" stop-color="#e27d81"/><stop offset="0.9630" stop-color="#e27d81"/><stop offset="0.9630" stop-color="#e27d81"/><stop offset="0.9753" stop-color="#e27d81"/><stop offset="0.9753" stop-color="#e68185"/><stop offset="0.9877" stop-color="#e68185"/><stop offset="0.9877" stop-color="#e68185"/><stop offset="1.0000" stop-color="#e68185"/></linearGradient></defs>
<rect x="325.20" y="376.07" width="108.90" height="25.81" fill="url(#gF5)"/>
<rect x="321.5" y="247.40" width="3.70" height="77.20" fill="#ef8f92"/>
<rect x="321.5" y="324.60" width="3.70" height="77.20" fill="#21c2cc"/>
<text x="435.30" y="262.47" font-family="Liberation Sans, sans-serif" font-size="3.4" font-weight="normal" text-anchor="start" fill="#222">E16_layer1</text>
<text x="435.30" y="288.20" font-family="Liberation Sans, sans-serif" font-size="3.4" font-weight="normal" text-anchor="start" fill="#222">E16_layer2</text>
<text x="435.30" y="313.93" font-family="Liberation Sans, sans-serif" font-size="3.4" font-weight="normal" text-anchor="start" fill="#222">E16_layer3</text>
<text x="435.30" y="339.67" font-family="Liberation Sans, sans-serif" font-size="3.4" font-weight="normal" text-anchor="start" fill="#222">E16_broiler2</text>
<text x="435.30" y="365.40" font-family="Liberation Sans, sans-serif" font-size="3.4" font-weight="normal" text-anchor="start" fill="#222">E16_broiler1</text>
<text x="435.30" y="391.13" font-family="Liberation Sans, sans-serif" font-size="3.4" font-weight="normal" text-anchor="start" fill="#222">E16_broiler3</text>
<text x="379.90" y="245.30" font-family="Liberation Sans, sans-serif" font-size="4.5" font-weight="bold" text-anchor="middle" fill="#111" textLength="97.5" lengthAdjust="spacingAndGlyphs">Heatmap of Differential expression circRNA at E16</text>
<path d="M321.5 260.27 H314.5 V298.87 H315.4 M321.5 286.00 H315.4 V311.73 H321.5 M321.5 337.47 H312.2 V376.07 H314.5 M321.5 363.20 H314.5 V388.93 H321.5 M314.5 279.57 H304.6 V356.77 H312.2" fill="none" stroke="#606060" stroke-width="0.85"/>
<text x="482.70" y="228.50" font-family="Liberation Serif, serif" font-size="14" font-weight="bold" text-anchor="start" fill="#000">G</text>
<defs><linearGradient id="gG0" gradientUnits="userSpaceOnUse" x1="474.90" y1="0" x2="587.70" y2="0"><stop offset="0.0000" stop-color="#efebf3"/><stop offset="0.0100" stop-color="#efebf3"/><stop offset="0.0100" stop-color="#b1b2d9"/><stop offset="0.0200" stop-color="#b1b2d9"/><stop offset="0.0200" stop-color="#9e9fd0"/><stop offset="0.0300" stop-color="#9e9fd0"/><stop offset="0.0300" stop-color="#9c9dce"/><stop offset="0.0400" stop-color="#9c9dce"/><stop offset="0.0400" stop-color="#9c9dce"/><stop offset="0.0500" stop-color="#9c9dce"/><stop offset="0.0500" stop-color="#9a9bcc"/><stop offset="0.0600" stop-color="#9a9bcc"/><stop offset="0.0600" stop-color="#999acb"/><stop offset="0.0700" stop-color="#999acb"/><stop offset="0.0700" stop-color="#8889c4"/><stop offset="0.0800" stop-color="#8889c4"/><stop offset="0.0800" stop-color="#8788c3"/><stop offset="0.0900" stop-color="#8788c3"/><stop offset="0.0900" stop-color="#8384bf"/><stop offset="0.1000" stop-color="#8384bf"/><stop offset="0.1000" stop-color="#9b9ccd"/><stop offset="0.1100" stop-color="#9b9ccd"/><stop offset="0.1100" stop-color="#9c9dce"/><stop offset="0.1200" stop-color="#9c9dce"/><stop offset="0.1200" stop-color="#8687c2"/><stop offset="0.1300" stop-color="#8687c2"/><stop offset="0.1300" stop-color="#8788c3"/><stop offset="0.1400" stop-color="#8788c3"/><stop offset="0.1400" stop-color="#9d9ecf"/><stop offset="0.1500" stop-color="#9d9ecf"/><stop offset="0.1500" stop-color="#9d9ecf"/><stop offset="0.1600" stop-color="#9d9ecf"/><stop offset="0.1600" stop-color="#8485c0"/><stop offset="0.1700" stop-color="#8485c0"/><stop offset="0.1700" stop-color="#8586c1"/><stop offset="0.1800" stop-color="#8586c1"/><stop offset="0.1800" stop-color="#8586c1"/><stop offset="0.1900" stop-color="#8586c1"/><stop offset="0.1900" stop-color="#8485c0"/><stop offset="0.2000" stop-color="#8485c0"/><stop offset="0.2000" stop-color="#8384bf"/><stop offset="0.2100" stop-color="#8384bf"/><stop offset="0.2100" stop-color="#9d9ecf"/><stop offset="0.2200" stop-color="#9d9ecf"/><stop offset="0.2200" stop-color="#8687c2"/><stop offset="0.2300" stop-color="#8687c2"/><stop offset="0.2300" stop-color="#8586c1"/><stop offset="0.2400" stop-color="#8586c1"/><stop offset="0.2400" stop-color="#8788c3"/><stop offset="0.2500" stop-color="#8788c3"/><stop offset="0.2500" stop-color="#9b9ccd"/><stop offset="0.2600" stop-color="#9b9ccd"/><stop offset="0.2600" stop-color="#8384bf"/><stop offset="0.2700" stop-color="#8384bf"/><stop offset="0.2700" stop-color="#8788c3"/><stop offset="0.2800" stop-color="#8788c3"/><stop offset="0.2800" stop-color="#8687c2"/><stop offset="0.2900" stop-color="#8687c2"/><stop offset="0.2900" stop-color="#8687c2"/><stop offset="0.3000" stop-color="#8687c2"/><stop offset="0.3000" stop-color="#8384bf"/><stop offset="0.3100" stop-color="#8384bf"/><stop offset="0.3100" stop-color="#8586c1"/><stop offset="0.3200" stop-color="#8586c1"/><stop offset="0.3200" stop-color="#6262b4"/><stop offset="0.3300" stop-color="#6262b4"/><stop offset="0.3300" stop-color="#6262b4"/><stop offset="0.3400" stop-color="#6262b4"/><stop offset="0.3400" stop-color="#8586c1"/><stop offset="0.3500" stop-color="#8586c1"/><stop offset="0.3500" stop-color="#8485c0"/><stop offset="0.3600" stop-color="#8485c0"/><stop offset="0.3600" stop-color="#8687c2"/><stop offset="0.3700" stop-color="#8687c2"/><stop offset="0.3700" stop-color="#8889c4"/><stop offset="0.3800" stop-color="#8889c4"/><stop offset="0.3800" stop-color="#8889c4"/><stop offset="0.3900" stop-color="#8889c4"/><stop offset="0.3900" stop-color="#8788c3"/><stop offset="0.4000" stop-color="#8788c3"/><stop offset="0.4000" stop-color="#8889c4"/><stop offset="0.4100" stop-color="#8889c4"/><stop offset="0.4100" stop-color="#b2b3da"/><stop offset="0.4200" stop-color="#b2b3da"/><stop offset="0.4200" stop-color="#b2b3da"/><stop offset="0.4300" stop-color="#b2b3da"/><stop offset="0.4300" stop-color="#b6b7de"/><stop offset="0.4400" stop-color="#b6b7de"/><stop offset="0.4400" stop-color="#b4b5dc"/><stop offset="0.4500" stop-color="#b4b5dc"/><stop offset="0.4500" stop-color="#999acb"/><stop offset="0.4600" stop-color="#999acb"/><stop offset="0.4600" stop-color="#999acb"/><stop offset="0.4700" stop-color="#999acb"/><stop offset="0.4700" stop-color="#9c9dce"/><stop offset="0.4800" stop-color="#9c9dce"/><stop offset="0.4800" stop-color="#9b9ccd"/><stop offset="0.4900" stop-color="#9b9ccd"/><stop offset="0.4900" stop-color="#9d9ecf"/><stop offset="0.5000" stop-color="#9d9ecf"/><stop offset="0.5000" stop-color="#9e9fd0"/><stop offset="0.5100" stop-color="#9e9fd0"/><stop offset="0.5100" stop-color="#999acb"/><stop offset="0.5200" stop-color="#999acb"/><stop offset="0.5200" stop-color="#9b9ccd"/><stop offset="0.5300" stop-color="#9b9ccd"/><stop offset="0.5300" stop-color="#9a9bcc"/><stop offset="0.5400" stop-color="#9a9bcc"/><stop offset="0.5400" stop-color="#9b9ccd"/><stop offset="0.5500" stop-color="#9b9ccd"/><stop offset="0.5500" stop-color="#b6b7de"/><stop offset="0.5600" stop-color="#b6b7de"/><stop offset="0.5600" stop-color="#b4b5dc"/><stop offset="0.5700" stop-color="#b4b5dc"/><stop offset="0.5700" stop-color="#b2b3da"/><stop offset="0.5800" stop-color="#b2b3da"/><stop offset="0.5800" stop-color="#b3b4db"/><stop offset="0.5900" stop-color="#b3b4db"/><stop offset="0.5900" stop-color="#b1b2d9"/><stop offset="0.6000" stop-color="#b1b2d9"/><stop offset="0.6000" stop-color="#b3b4db"/><stop offset="0.6100" stop-color="#b3b4db"/><stop offset="0.6100" stop-color="#b5b6dd"/><stop offset="0.6200" stop-color="#b5b6dd"/><stop offset="0.6200" stop-color="#9a9bcc"/><stop offset="0.6300" stop-color="#9a9bcc"/><stop offset="0.6300" stop-color="#9d9ecf"/><stop offset="0.6400" stop-color="#9d9ecf"/><stop offset="0.6400" stop-color="#9c9dce"/><stop offset="0.6500" stop-color="#9c9dce"/><stop offset="0.6500" stop-color="#9c9dce"/><stop offset="0.6600" stop-color="#9c9dce"/><stop offset="0.6600" stop-color="#9d9ecf"/><stop offset="0.6700" stop-color="#9d9ecf"/><stop offset="0.6700" stop-color="#b5b6dd"/><stop offset="0.6800" stop-color="#b5b6dd"/><stop offset="0.6800" stop-color="#eeb0b3"/><stop offset="0.6900" stop-color="#eeb0b3"/><stop offset="0.6900" stop-color="#dc5861"/><stop offset="0.7000" stop-color="#dc5861"/><stop offset="0.7000" stop-color="#d2343e"/><stop offset="0.7100" stop-color="#d2343e"/><stop offset="0.7100" stop-color="#ce303a"/><stop offset="0.7200" stop-color="#ce303a"/><stop offset="0.7200" stop-color="#d0323c"/><stop offset="0.7300" stop-color="#d0323c"/><stop offset="0.7300" stop-color="#d9555e"/><stop offset="0.7400" stop-color="#d9555e"/><stop offset="0.7400" stop-color="#e27d81"/><stop offset="0.7500" stop-color="#e27d81"/><stop offset="0.7500" stop-color="#edafb2"/><stop offset="0.7600" stop-color="#edafb2"/><stop offset="0.7600" stop-color="#e68185"/><stop offset="0.7700" stop-color="#e68185"/><stop offset="0.7700" stop-color="#e37e82"/><stop offset="0.7800" stop-color="#e37e82"/><stop offset="0.7800" stop-color="#efb1b4"/><stop offset="0.7900" stop-color="#efb1b4"/><stop offset="0.7900" stop-color="#f2eef6"/><stop offset="0.8000" stop-color="#f2eef6"/><stop offset="0.8000" stop-color="#eeb0b3"/><stop offset="0.8100" stop-color="#eeb0b3"/><stop offset="0.8100" stop-color="#ede9f1"/><stop offset="0.8200" stop-color="#ede9f1"/><stop offset="0.8200" stop-color="#eeb0b3"/><stop offset="0.8300" stop-color="#eeb0b3"/><stop offset="0.8300" stop-color="#ede9f1"/><stop offset="0.8400" stop-color="#ede9f1"/><stop offset="0.8400" stop-color="#f0b2b5"/><stop offset="0.8500" stop-color="#f0b2b5"/><stop offset="0.8500" stop-color="#e37e82"/><stop offset="0.8600" stop-color="#e37e82"/><stop offset="0.8600" stop-color="#e27d81"/><stop offset="0.8700" stop-color="#e27d81"/><stop offset="0.8700" stop-color="#eeb0b3"/><stop offset="0.8800" stop-color="#eeb0b3"/><stop offset="0.8800" stop-color="#e58084"/><stop offset="0.8900" stop-color="#e58084"/><stop offset="0.8900" stop-color="#b3b4db"/><stop offset="0.9000" stop-color="#b3b4db"/><stop offset="0.9000" stop-color="#9e9fd0"/><stop offset="0.9100" stop-color="#9e9fd0"/><stop offset="0.9100" stop-color="#9c9dce"/><stop offset="0.9200" stop-color="#9c9dce"/><stop offset="0.9200" stop-color="#b5b6dd"/><stop offset="0.9300" stop-color="#b5b6dd"/><stop offset="0.9300" stop-color="#f2eef6"/><stop offset="0.9400" stop-color="#f2eef6"/><stop offset="0.9400" stop-color="#ebadb0"/><stop offset="0.9500" stop-color="#ebadb0"/><stop offset="0.9500" stop-color="#eeb0b3"/><stop offset="0.9600" stop-color="#eeb0b3"/><stop offset="0.9600" stop-color="#f1edf5"/><stop offset="0.9700" stop-color="#f1edf5"/><stop offset="0.9700" stop-color="#ecaeb1"/><stop offset="0.9800" stop-color="#ecaeb1"/><stop offset="0.9800" stop-color="#e37e82"/><stop offset="0.9900" stop-color="#e37e82"/><stop offset="0.9900" stop-color="#e27d81"/><stop offset="1.0000" stop-color="#e27d81"/></linearGradient></defs>
<rect x="474.90" y="247.20" width="112.80" height="26.53" fill="url(#gG0)"/>
<defs><linearGradient id="gG1" gradientUnits="userSpaceOnUse" x1="474.90" y1="0" x2="587.70" y2="0"><stop offset="0.0000" stop-color="#ecaeb1"/><stop offset="0.0100" stop-color="#ecaeb1"/><stop offset="0.0100" stop-color="#b6b7de"/><stop offset="0.0200" stop-color="#b6b7de"/><stop offset="0.0200" stop-color="#6262b4"/><stop offset="0.0300" stop-color="#6262b4"/><stop offset="0.0300" stop-color="#8485c0"/><stop offset="0.0400" stop-color="#8485c0"/><stop offset="0.0400" stop-color="#8586c1"/><stop offset="0.0500" stop-color="#8586c1"/><stop offset="0.0500" stop-color="#8586c1"/><stop offset="0.0600" stop-color="#8586c1"/><stop offset="0.0600" stop-color="#8485c0"/><stop offset="0.0700" stop-color="#8485c0"/><stop offset="0.0700" stop-color="#8586c1"/><stop offset="0.0800" stop-color="#8586c1"/><stop offset="0.0800" stop-color="#8485c0"/><stop offset="0.0900" stop-color="#8485c0"/><stop offset="0.0900" stop-color="#8687c2"/><stop offset="0.1000" stop-color="#8687c2"/><stop offset="0.1000" stop-color="#9e9fd0"/><stop offset="0.1100" stop-color="#9e9fd0"/><stop offset="0.1100" stop-color="#999acb"/><stop offset="0.1200" stop-color="#999acb"/><stop offset="0.1200" stop-color="#8586c1"/><stop offset="0.1300" stop-color="#8586c1"/><stop offset="0.1300" stop-color="#8485c0"/><stop offset="0.1400" stop-color="#8485c0"/><stop offset="0.1400" stop-color="#8384bf"/><stop offset="0.1500" stop-color="#8384bf"/><stop offset="0.1500" stop-color="#8788c3"/><stop offset="0.1600" stop-color="#8788c3"/><stop offset="0.1600" stop-color="#9e9fd0"/><stop offset="0.1700" stop-color="#9e9fd0"/><stop offset="0.1700" stop-color="#8586c1"/><stop offset="0.1800" stop-color="#8586c1"/><stop offset="0.1800" stop-color="#f1edf5"/><stop offset="0.1900" stop-color="#f1edf5"/><stop offset="0.1900" stop-color="#8586c1"/><stop offset="0.2000" stop-color="#8586c1"/><stop offset="0.2000" stop-color="#9b9ccd"/><stop offset="0.2100" stop-color="#9b9ccd"/><stop offset="0.2100" stop-color="#8384bf"/><stop offset="0.2200" stop-color="#8384bf"/><stop offset="0.2200" stop-color="#8889c4"/><stop offset="0.2300" stop-color="#8889c4"/><stop offset="0.2300" stop-color="#8889c4"/><stop offset="0.2400" stop-color="#8889c4"/><stop offset="0.2400" stop-color="#8889c4"/><stop offset="0.2500" stop-color="#8889c4"/><stop offset="0.2500" stop-color="#ede9f1"/><stop offset="0.2600" stop-color="#ede9f1"/><stop offset="0.2600" stop-color="#8889c4"/><stop offset="0.2700" stop-color="#8889c4"/><stop offset="0.2700" stop-color="#8586c1"/><stop offset="0.2800" stop-color="#8586c1"/><stop offset="0.2800" stop-color="#8687c2"/><stop offset="0.2900" stop-color="#8687c2"/><stop offset="0.2900" stop-color="#8485c0"/><stop offset="0.3000" stop-color="#8485c0"/><stop offset="0.3000" stop-color="#8687c2"/><stop offset="0.3100" stop-color="#8687c2"/><stop offset="0.3100" stop-color="#8788c3"/><stop offset="0.3200" stop-color="#8788c3"/><stop offset="0.3200" stop-color="#8687c2"/><stop offset="0.3300" stop-color="#8687c2"/><stop offset="0.3300" stop-color="#f1edf5"/><stop offset="0.3400" stop-color="#f1edf5"/><stop offset="0.3400" stop-color="#8788c3"/><stop offset="0.3500" stop-color="#8788c3"/><stop offset="0.3500" stop-color="#8384bf"/><stop offset="0.3600" stop-color="#8384bf"/><stop offset="0.3600" stop-color="#8586c1"/><stop offset="0.3700" stop-color="#8586c1"/><stop offset="0.3700" stop-color="#8687c2"/><stop offset="0.3800" stop-color="#8687c2"/><stop offset="0.3800" stop-color="#8788c3"/><stop offset="0.3900" stop-color="#8788c3"/><stop offset="0.3900" stop-color="#8485c0"/><stop offset="0.4000" stop-color="#8485c0"/><stop offset="0.4000" stop-color="#8788c3"/><stop offset="0.4100" stop-color="#8788c3"/><stop offset="0.4100" stop-color="#9c9dce"/><stop offset="0.4200" stop-color="#9c9dce"/><stop offset="0.4200" stop-color="#999acb"/><stop offset="0.4300" stop-color="#999acb"/><stop offset="0.4300" stop-color="#9e9fd0"/><stop offset="0.4400" stop-color="#9e9fd0"/><stop offset="0.4400" stop-color="#9c9dce"/><stop offset="0.4500" stop-color="#9c9dce"/><stop offset="0.4500" stop-color="#9e9fd0"/><stop offset="0.4600" stop-color="#9e9fd0"/><stop offset="0.4600" stop-color="#9e9fd0"/><stop offset="0.4700" stop-color="#9e9fd0"/><stop offset="0.4700" stop-color="#9d9ecf"/><stop offset="0.4800" stop-color="#9d9ecf"/><stop offset="0.4800" stop-color="#9c9dce"/><stop offset="0.4900" stop-color="#9c9dce"/><stop offset="0.4900" stop-color="#999acb"/><stop offset="0.5000" stop-color="#999acb"/><stop offset="0.5000" stop-color="#9a9bcc"/><stop offset="0.5100" stop-color="#9a9bcc"/><stop offset="0.5100" stop-color="#9c9dce"/><stop offset="0.5200" stop-color="#9c9dce"/><stop offset="0.5200" stop-color="#9d9ecf"/><stop offset="0.5300" stop-color="#9d9ecf"/><stop offset="0.5300" stop-color="#9c9dce"/><stop offset="0.5400" stop-color="#9c9dce"/><stop offset="0.5400" stop-color="#999acb"/><stop offset="0.5500" stop-color="#999acb"/><stop offset="0.5500" stop-color="#9e9fd0"/><stop offset="0.5600" stop-color="#9e9fd0"/><stop offset="0.5600" stop-color="#9d9ecf"/><stop offset="0.5700" stop-color="#9d9ecf"/><stop offset="0.5700" stop-color="#9c9dce"/><stop offset="0.5800" stop-color="#9c9dce"/><stop offset="0.5800" stop-color="#9e9fd0"/><stop offset="0.5900" stop-color="#9e9fd0"/><stop offset="0.5900" stop-color="#9d9ecf"/><stop offset="0.6000" stop-color="#9d9ecf"/><stop offset="0.6000" stop-color="#9c9dce"/><stop offset="0.6100" stop-color="#9c9dce"/><stop offset="0.6100" stop-color="#9c9dce"/><stop offset="0.6200" stop-color="#9c9dce"/><stop offset="0.6200" stop-color="#999acb"/><stop offset="0.6300" stop-color="#999acb"/><stop offset="0.6300" stop-color="#9d9ecf"/><stop offset="0.6400" stop-color="#9d9ecf"/><stop offset="0.6400" stop-color="#9b9ccd"/><stop offset="0.6500" stop-color="#9b9ccd"/><stop offset="0.6500" stop-color="#9c9dce"/><stop offset="0.6600" stop-color="#9c9dce"/><stop offset="0.6600" stop-color="#999acb"/><stop offset="0.6700" stop-color="#999acb"/><stop offset="0.6700" stop-color="#9d9ecf"/><stop offset="0.6800" stop-color="#9d9ecf"/><stop offset="0.6800" stop-color="#d9555e"/><stop offset="0.6900" stop-color="#d9555e"/><stop offset="0.6900" stop-color="#edafb2"/><stop offset="0.7000" stop-color="#edafb2"/><stop offset="0.7000" stop-color="#f0ecf4"/><stop offset="0.7100" stop-color="#f0ecf4"/><stop offset="0.7100" stop-color="#e27d81"/><stop offset="0.7200" stop-color="#e27d81"/><stop offset="0.7200" stop-color="#f1edf5"/><stop offset="0.7300" stop-color="#f1edf5"/><stop offset="0.7300" stop-color="#f2eef6"/><stop offset="0.7400" stop-color="#f2eef6"/><stop offset="0.7400" stop-color="#ebadb0"/><stop offset="0.7500" stop-color="#ebadb0"/><stop offset="0.7500" stop-color="#e27d81"/><stop offset="0.7600" stop-color="#e27d81"/><stop offset="0.7600" stop-color="#e78286"/><stop offset="0.7700" stop-color="#e78286"/><stop offset="0.7700" stop-color="#e78286"/><stop offset="0.7800" stop-color="#e78286"/><stop offset="0.7800" stop-color="#edafb2"/><stop offset="0.7900" stop-color="#edafb2"/><stop offset="0.7900" stop-color="#e58084"/><stop offset="0.8000" stop-color="#e58084"/><stop offset="0.8000" stop-color="#e68185"/><stop offset="0.8100" stop-color="#e68185"/><stop offset="0.8100" stop-color="#ecaeb1"/><stop offset="0.8200" stop-color="#ecaeb1"/><stop offset="0.8200" stop-color="#eeb0b3"/><stop offset="0.8300" stop-color="#eeb0b3"/><stop offset="0.8300" stop-color="#e37e82"/><stop offset="0.8400" stop-color="#e37e82"/><stop offset="0.8400" stop-color="#f2eef6"/><stop offset="0.8500" stop-color="#f2eef6"/><stop offset="0.8500" stop-color="#f0b2b5"/><stop offset="0.8600" stop-color="#f0b2b5"/><stop offset="0.8600" stop-color="#ede9f1"/><stop offset="0.8700" stop-color="#ede9f1"/><stop offset="0.8700" stop-color="#edafb2"/><stop offset="0.8800" stop-color="#edafb2"/><stop offset="0.8800" stop-color="#e78286"/><stop offset="0.8900" stop-color="#e78286"/><stop offset="0.8900" stop-color="#edafb2"/><stop offset="0.9000" stop-color="#edafb2"/><stop offset="0.9000" stop-color="#e58084"/><stop offset="0.9100" stop-color="#e58084"/><stop offset="0.9100" stop-color="#dd5962"/><stop offset="0.9200" stop-color="#dd5962"/><stop offset="0.9200" stop-color="#dc5861"/><stop offset="0.9300" stop-color="#dc5861"/><stop offset="0.9300" stop-color="#dc5861"/><stop offset="0.9400" stop-color="#dc5861"/><stop offset="0.9400" stop-color="#d1333d"/><stop offset="0.9500" stop-color="#d1333d"/><stop offset="0.9500" stop-color="#d9555e"/><stop offset="0.9600" stop-color="#d9555e"/><stop offset="0.9600" stop-color="#d9555e"/><stop offset="0.9700" stop-color="#d9555e"/><stop offset="0.9700" stop-color="#ce303a"/><stop offset="0.9800" stop-color="#ce303a"/><stop offset="0.9800" stop-color="#d9555e"/><stop offset="0.9900" stop-color="#d9555e"/><stop offset="0.9900" stop-color="#e47f83"/><stop offset="1.0000" stop-color="#e47f83"/></linearGradient></defs>
<rect x="474.90" y="273.65" width="112.80" height="26.53" fill="url(#gG1)"/>
<defs><linearGradient id="gG2" gradientUnits="userSpaceOnUse" x1="474.90" y1="0" x2="587.70" y2="0"><stop offset="0.0000" stop-color="#f2eef6"/><stop offset="0.0100" stop-color="#f2eef6"/><stop offset="0.0100" stop-color="#999acb"/><stop offset="0.0200" stop-color="#999acb"/><stop offset="0.0200" stop-color="#9e9fd0"/><stop offset="0.0300" stop-color="#9e9fd0"/><stop offset="0.0300" stop-color="#9a9bcc"/><stop offset="0.0400" stop-color="#9a9bcc"/><stop offset="0.0400" stop-color="#9e9fd0"/><stop offset="0.0500" stop-color="#9e9fd0"/><stop offset="0.0500" stop-color="#9a9bcc"/><stop offset="0.0600" stop-color="#9a9bcc"/><stop offset="0.0600" stop-color="#b5b6dd"/><stop offset="0.0700" stop-color="#b5b6dd"/><stop offset="0.0700" stop-color="#9a9bcc"/><stop offset="0.0800" stop-color="#9a9bcc"/><stop offset="0.0800" stop-color="#999acb"/><stop offset="0.0900" stop-color="#999acb"/><stop offset="0.0900" stop-color="#9c9dce"/><stop offset="0.1000" stop-color="#9c9dce"/><stop offset="0.1000" stop-color="#8485c0"/><stop offset="0.1100" stop-color="#8485c0"/><stop offset="0.1100" stop-color="#8485c0"/><stop offset="0.1200" stop-color="#8485c0"/><stop offset="0.1200" stop-color="#8485c0"/><stop offset="0.1300" stop-color="#8485c0"/><stop offset="0.1300" stop-color="#8687c2"/><stop offset="0.1400" stop-color="#8687c2"/><stop offset="0.1400" stop-color="#9e9fd0"/><stop offset="0.1500" stop-color="#9e9fd0"/><stop offset="0.1500" stop-color="#8788c3"/><stop offset="0.1600" stop-color="#8788c3"/><stop offset="0.1600" stop-color="#8485c0"/><stop offset="0.1700" stop-color="#8485c0"/><stop offset="0.1700" stop-color="#8687c2"/><stop offset="0.1800" stop-color="#8687c2"/><stop offset="0.1800" stop-color="#8788c3"/><stop offset="0.1900" stop-color="#8788c3"/><stop offset="0.1900" stop-color="#999acb"/><stop offset="0.2000" stop-color="#999acb"/><stop offset="0.2000" stop-color="#8384bf"/><stop offset="0.2100" stop-color="#8384bf"/><stop offset="0.2100" stop-color="#b5b6dd"/><stop offset="0.2200" stop-color="#b5b6dd"/><stop offset="0.2200" stop-color="#8384bf"/><stop offset="0.2300" stop-color="#8384bf"/><stop offset="0.2300" stop-color="#8889c4"/><stop offset="0.2400" stop-color="#8889c4"/><stop offset="0.2400" stop-color="#8485c0"/><stop offset="0.2500" stop-color="#8485c0"/><stop offset="0.2500" stop-color="#8586c1"/><stop offset="0.2600" stop-color="#8586c1"/><stop offset="0.2600" stop-color="#8586c1"/><stop offset="0.2700" stop-color="#8586c1"/><stop offset="0.2700" stop-color="#8687c2"/><stop offset="0.2800" stop-color="#8687c2"/><stop offset="0.2800" stop-color="#999acb"/><stop offset="0.2900" stop-color="#999acb"/><stop offset="0.2900" stop-color="#8788c3"/><stop offset="0.3000" stop-color="#8788c3"/><stop offset="0.3000" stop-color="#8889c4"/><stop offset="0.3100" stop-color="#8889c4"/><stop offset="0.3100" stop-color="#8384bf"/><stop offset="0.3200" stop-color="#8384bf"/><stop offset="0.3200" stop-color="#9b9ccd"/><stop offset="0.3300" stop-color="#9b9ccd"/><stop offset="0.3300" stop-color="#b2b3da"/><stop offset="0.3400" stop-color="#b2b3da"/><stop offset="0.3400" stop-color="#8384bf"/><stop offset="0.3500" stop-color="#8384bf"/><stop offset="0.3500" stop-color="#8788c3"/><stop offset="0.3600" stop-color="#8788c3"/><stop offset="0.3600" stop-color="#8889c4"/><stop offset="0.3700" stop-color="#8889c4"/><stop offset="0.3700" stop-color="#8687c2"/><stop offset="0.3800" stop-color="#8687c2"/><stop offset="0.3800" stop-color="#9c9dce"/><stop offset="0.3900" stop-color="#9c9dce"/><stop offset="0.3900" stop-color="#9c9dce"/><stop offset="0.4000" stop-color="#9c9dce"/><stop offset="0.4000" stop-color="#9d9ecf"/><stop offset="0.4100" stop-color="#9d9ecf"/><stop offset="0.4100" stop-color="#b3b4db"/><stop offset="0.4200" stop-color="#b3b4db"/><stop offset="0.4200" stop-color="#9e9fd0"/><stop offset="0.4300" stop-color="#9e9fd0"/><stop offset="0.4300" stop-color="#9b9ccd"/><stop offset="0.4400" stop-color="#9b9ccd"/><stop offset="0.4400" stop-color="#9b9ccd"/><stop offset="0.4500" stop-color="#9b9ccd"/><stop offset="0.4500" stop-color="#8485c0"/><stop offset="0.4600" stop-color="#8485c0"/><stop offset="0.4600" stop-color="#8586c1"/><stop offset="0.4700" stop-color="#8586c1"/><stop offset="0.4700" stop-color="#8485c0"/><stop offset="0.4800" stop-color="#8485c0"/><stop offset="0.4800" stop-color="#8586c1"/><stop offset="0.4900" stop-color="#8586c1"/><stop offset="0.4900" stop-color="#8586c1"/><stop offset="0.5000" stop-color="#8586c1"/><stop offset="0.5000" stop-color="#8586c1"/><stop offset="0.5100" stop-color="#8586c1"/><stop offset="0.5100" stop-color="#8485c0"/><stop offset="0.5200" stop-color="#8485c0"/><stop offset="0.5200" stop-color="#8586c1"/><stop offset="0.5300" stop-color="#8586c1"/><stop offset="0.5300" stop-color="#9d9ecf"/><stop offset="0.5400" stop-color="#9d9ecf"/><stop offset="0.5400" stop-color="#9d9ecf"/><stop offset="0.5500" stop-color="#9d9ecf"/><stop offset="0.5500" stop-color="#9d9ecf"/><stop offset="0.5600" stop-color="#9d9ecf"/><stop offset="0.5600" stop-color="#9c9dce"/><stop offset="0.5700" stop-color="#9c9dce"/><stop offset="0.5700" stop-color="#999acb"/><stop offset="0.5800" stop-color="#999acb"/><stop offset="0.5800" stop-color="#9c9dce"/><stop offset="0.5900" stop-color="#9c9dce"/><stop offset="0.5900" stop-color="#9c9dce"/><stop offset="0.6000" stop-color="#9c9dce"/><stop offset="0.6000" stop-color="#999acb"/><stop offset="0.6100" stop-color="#999acb"/><stop offset="0.6100" stop-color="#9e9fd0"/><stop offset="0.6200" stop-color="#9e9fd0"/><stop offset="0.6200" stop-color="#9d9ecf"/><stop offset="0.6300" stop-color="#9d9ecf"/><stop offset="0.6300" stop-color="#999acb"/><stop offset="0.6400" stop-color="#999acb"/><stop offset="0.6400" stop-color="#9b9ccd"/><stop offset="0.6500" stop-color="#9b9ccd"/><stop offset="0.6500" stop-color="#9a9bcc"/><stop offset="0.6600" stop-color="#9a9bcc"/><stop offset="0.6600" stop-color="#9b9ccd"/><stop offset="0.6700" stop-color="#9b9ccd"/><stop offset="0.6700" stop-color="#999acb"/><stop offset="0.6800" stop-color="#999acb"/><stop offset="0.6800" stop-color="#b2b3da"/><stop offset="0.6900" stop-color="#b2b3da"/><stop offset="0.6900" stop-color="#f1edf5"/><stop offset="0.7000" stop-color="#f1edf5"/><stop offset="0.7000" stop-color="#efb1b4"/><stop offset="0.7100" stop-color="#efb1b4"/><stop offset="0.7100" stop-color="#eeeaf2"/><stop offset="0.7200" stop-color="#eeeaf2"/><stop offset="0.7200" stop-color="#f2eef6"/><stop offset="0.7300" stop-color="#f2eef6"/><stop offset="0.7300" stop-color="#ebadb0"/><stop offset="0.7400" stop-color="#ebadb0"/><stop offset="0.7400" stop-color="#ede9f1"/><stop offset="0.7500" stop-color="#ede9f1"/><stop offset="0.7500" stop-color="#efb1b4"/><stop offset="0.7600" stop-color="#efb1b4"/><stop offset="0.7600" stop-color="#f0ecf4"/><stop offset="0.7700" stop-color="#f0ecf4"/><stop offset="0.7700" stop-color="#ebadb0"/><stop offset="0.7800" stop-color="#ebadb0"/><stop offset="0.7800" stop-color="#efb1b4"/><stop offset="0.7900" stop-color="#efb1b4"/><stop offset="0.7900" stop-color="#e68185"/><stop offset="0.8000" stop-color="#e68185"/><stop offset="0.8000" stop-color="#dc5861"/><stop offset="0.8100" stop-color="#dc5861"/><stop offset="0.8100" stop-color="#e47f83"/><stop offset="0.8200" stop-color="#e47f83"/><stop offset="0.8200" stop-color="#e27d81"/><stop offset="0.8300" stop-color="#e27d81"/><stop offset="0.8300" stop-color="#e68185"/><stop offset="0.8400" stop-color="#e68185"/><stop offset="0.8400" stop-color="#f0b2b5"/><stop offset="0.8500" stop-color="#f0b2b5"/><stop offset="0.8500" stop-color="#e47f83"/><stop offset="0.8600" stop-color="#e47f83"/><stop offset="0.8600" stop-color="#edafb2"/><stop offset="0.8700" stop-color="#edafb2"/><stop offset="0.8700" stop-color="#e58084"/><stop offset="0.8800" stop-color="#e58084"/><stop offset="0.8800" stop-color="#db5760"/><stop offset="0.8900" stop-color="#db5760"/><stop offset="0.8900" stop-color="#e58084"/><stop offset="0.9000" stop-color="#e58084"/><stop offset="0.9000" stop-color="#f0b2b5"/><stop offset="0.9100" stop-color="#f0b2b5"/><stop offset="0.9100" stop-color="#de5a63"/><stop offset="0.9200" stop-color="#de5a63"/><stop offset="0.9200" stop-color="#e27d81"/><stop offset="0.9300" stop-color="#e27d81"/><stop offset="0.9300" stop-color="#f0b2b5"/><stop offset="0.9400" stop-color="#f0b2b5"/><stop offset="0.9400" stop-color="#f2eef6"/><stop offset="0.9500" stop-color="#f2eef6"/><stop offset="0.9500" stop-color="#e58084"/><stop offset="0.9600" stop-color="#e58084"/><stop offset="0.9600" stop-color="#edafb2"/><stop offset="0.9700" stop-color="#edafb2"/><stop offset="0.9700" stop-color="#f0ecf4"/><stop offset="0.9800" stop-color="#f0ecf4"/><stop offset="0.9800" stop-color="#e78286"/><stop offset="0.9900" stop-color="#e78286"/><stop offset="0.9900" stop-color="#edafb2"/><stop offset="1.0000" stop-color="#edafb2"/></linearGradient></defs>
<rect x="474.90" y="300.10" width="112.80" height="26.53" fill="url(#gG2)"/>
<defs><linearGradient id="gG3" gradientUnits="userSpaceOnUse" x1="474.90" y1="0" x2="587.70" y2="0"><stop offset="0.0000" stop-color="#d9555e"/><stop offset="0.0100" stop-color="#d9555e"/><stop offset="0.0100" stop-color="#db5760"/><stop offset="0.0200" stop-color="#db5760"/><stop offset="0.0200" stop-color="#de5a63"/><stop offset="0.0300" stop-color="#de5a63"/><stop offset="0.0300" stop-color="#d9555e"/><stop offset="0.0400" stop-color="#d9555e"/><stop offset="0.0400" stop-color="#dd5962"/><stop offset="0.0500" stop-color="#dd5962"/><stop offset="0.0500" stop-color="#e47f83"/><stop offset="0.0600" stop-color="#e47f83"/><stop offset="0.0600" stop-color="#edafb2"/><stop offset="0.0700" stop-color="#edafb2"/><stop offset="0.0700" stop-color="#e68185"/><stop offset="0.0800" stop-color="#e68185"/><stop offset="0.0800" stop-color="#e37e82"/><stop offset="0.0900" stop-color="#e37e82"/><stop offset="0.0900" stop-color="#e27d81"/><stop offset="0.1000" stop-color="#e27d81"/><stop offset="0.1000" stop-color="#dc5861"/><stop offset="0.1100" stop-color="#dc5861"/><stop offset="0.1100" stop-color="#e78286"/><stop offset="0.1200" stop-color="#e78286"/><stop offset="0.1200" stop-color="#eeb0b3"/><stop offset="0.1300" stop-color="#eeb0b3"/><stop offset="0.1300" stop-color="#e68185"/><stop offset="0.1400" stop-color="#e68185"/><stop offset="0.1400" stop-color="#f0b2b5"/><stop offset="0.1500" stop-color="#f0b2b5"/><stop offset="0.1500" stop-color="#efb1b4"/><stop offset="0.1600" stop-color="#efb1b4"/><stop offset="0.1600" stop-color="#e78286"/><stop offset="0.1700" stop-color="#e78286"/><stop offset="0.1700" stop-color="#e58084"/><stop offset="0.1800" stop-color="#e58084"/><stop offset="0.1800" stop-color="#ebadb0"/><stop offset="0.1900" stop-color="#ebadb0"/><stop offset="0.1900" stop-color="#da565f"/><stop offset="0.2000" stop-color="#da565f"/><stop offset="0.2000" stop-color="#d9555e"/><stop offset="0.2100" stop-color="#d9555e"/><stop offset="0.2100" stop-color="#db5760"/><stop offset="0.2200" stop-color="#db5760"/><stop offset="0.2200" stop-color="#da565f"/><stop offset="0.2300" stop-color="#da565f"/><stop offset="0.2300" stop-color="#da565f"/><stop offset="0.2400" stop-color="#da565f"/><stop offset="0.2400" stop-color="#e37e82"/><stop offset="0.2500" stop-color="#e37e82"/><stop offset="0.2500" stop-color="#da565f"/><stop offset="0.2600" stop-color="#da565f"/><stop offset="0.2600" stop-color="#dd5962"/><stop offset="0.2700" stop-color="#dd5962"/><stop offset="0.2700" stop-color="#de5a63"/><stop offset="0.2800" stop-color="#de5a63"/><stop offset="0.2800" stop-color="#e68185"/><stop offset="0.2900" stop-color="#e68185"/><stop offset="0.2900" stop-color="#eeb0b3"/><stop offset="0.3000" stop-color="#eeb0b3"/><stop offset="0.3000" stop-color="#e37e82"/><stop offset="0.3100" stop-color="#e37e82"/><stop offset="0.3100" stop-color="#e58084"/><stop offset="0.3200" stop-color="#e58084"/><stop offset="0.3200" stop-color="#de5a63"/><stop offset="0.3300" stop-color="#de5a63"/><stop offset="0.3300" stop-color="#de5a63"/><stop offset="0.3400" stop-color="#de5a63"/><stop offset="0.3400" stop-color="#edafb2"/><stop offset="0.3500" stop-color="#edafb2"/><stop offset="0.3500" stop-color="#e37e82"/><stop offset="0.3600" stop-color="#e37e82"/><stop offset="0.3600" stop-color="#e68185"/><stop offset="0.3700" stop-color="#e68185"/><stop offset="0.3700" stop-color="#e47f83"/><stop offset="0.3800" stop-color="#e47f83"/><stop offset="0.3800" stop-color="#e78286"/><stop offset="0.3900" stop-color="#e78286"/><stop offset="0.3900" stop-color="#e68185"/><stop offset="0.4000" stop-color="#e68185"/><stop offset="0.4000" stop-color="#d9555e"/><stop offset="0.4100" stop-color="#d9555e"/><stop offset="0.4100" stop-color="#cf313b"/><stop offset="0.4200" stop-color="#cf313b"/><stop offset="0.4200" stop-color="#ecaeb1"/><stop offset="0.4300" stop-color="#ecaeb1"/><stop offset="0.4300" stop-color="#da565f"/><stop offset="0.4400" stop-color="#da565f"/><stop offset="0.4400" stop-color="#eeeaf2"/><stop offset="0.4500" stop-color="#eeeaf2"/><stop offset="0.4500" stop-color="#f2eef6"/><stop offset="0.4600" stop-color="#f2eef6"/><stop offset="0.4600" stop-color="#eeeaf2"/><stop offset="0.4700" stop-color="#eeeaf2"/><stop offset="0.4700" stop-color="#f1edf5"/><stop offset="0.4800" stop-color="#f1edf5"/><stop offset="0.4800" stop-color="#efebf3"/><stop offset="0.4900" stop-color="#efebf3"/><stop offset="0.4900" stop-color="#ecaeb1"/><stop offset="0.5000" stop-color="#ecaeb1"/><stop offset="0.5000" stop-color="#eeb0b3"/><stop offset="0.5100" stop-color="#eeb0b3"/><stop offset="0.5100" stop-color="#f1edf5"/><stop offset="0.5200" stop-color="#f1edf5"/><stop offset="0.5200" stop-color="#9b9ccd"/><stop offset="0.5300" stop-color="#9b9ccd"/><stop offset="0.5300" stop-color="#999acb"/><stop offset="0.5400" stop-color="#999acb"/><stop offset="0.5400" stop-color="#999acb"/><stop offset="0.5500" stop-color="#999acb"/><stop offset="0.5500" stop-color="#9e9fd0"/><stop offset="0.5600" stop-color="#9e9fd0"/><stop offset="0.5600" stop-color="#999acb"/><stop offset="0.5700" stop-color="#999acb"/><stop offset="0.5700" stop-color="#9a9bcc"/><stop offset="0.5800" stop-color="#9a9bcc"/><stop offset="0.5800" stop-color="#9e9fd0"/><stop offset="0.5900" stop-color="#9e9fd0"/><stop offset="0.5900" stop-color="#9d9ecf"/><stop offset="0.6000" stop-color="#9d9ecf"/><stop offset="0.6000" stop-color="#999acb"/><stop offset="0.6100" stop-color="#999acb"/><stop offset="0.6100" stop-color="#9a9bcc"/><stop offset="0.6200" stop-color="#9a9bcc"/><stop offset="0.6200" stop-color="#9d9ecf"/><stop offset="0.6300" stop-color="#9d9ecf"/><stop offset="0.6300" stop-color="#9d9ecf"/><stop offset="0.6400" stop-color="#9d9ecf"/><stop offset="0.6400" stop-color="#9c9dce"/><stop offset="0.6500" stop-color="#9c9dce"/><stop offset="0.6500" stop-color="#9a9bcc"/><stop offset="0.6600" stop-color="#9a9bcc"/><stop offset="0.6600" stop-color="#9e9fd0"/><stop offset="0.6700" stop-color="#9e9fd0"/><stop offset="0.6700" stop-color="#9d9ecf"/><stop offset="0.6800" stop-color="#9d9ecf"/><stop offset="0.6800" stop-color="#9c9dce"/><stop offset="0.6900" stop-color="#9c9dce"/><stop offset="0.6900" stop-color="#9c9dce"/><stop offset="0.7000" stop-color="#9c9dce"/><stop offset="0.7000" stop-color="#8586c1"/><stop offset="0.7100" stop-color="#8586c1"/><stop offset="0.7100" stop-color="#8687c2"/><stop offset="0.7200" stop-color="#8687c2"/><stop offset="0.7200" stop-color="#8889c4"/><stop offset="0.7300" stop-color="#8889c4"/><stop offset="0.7300" stop-color="#9b9ccd"/><stop offset="0.7400" stop-color="#9b9ccd"/><stop offset="0.7400" stop-color="#8687c2"/><stop offset="0.7500" stop-color="#8687c2"/><stop offset="0.7500" stop-color="#8586c1"/><stop offset="0.7600" stop-color="#8586c1"/><stop offset="0.7600" stop-color="#999acb"/><stop offset="0.7700" stop-color="#999acb"/><stop offset="0.7700" stop-color="#b6b7de"/><stop offset="0.7800" stop-color="#b6b7de"/><stop offset="0.7800" stop-color="#9a9bcc"/><stop offset="0.7900" stop-color="#9a9bcc"/><stop offset="0.7900" stop-color="#8384bf"/><stop offset="0.8000" stop-color="#8384bf"/><stop offset="0.8000" stop-color="#8687c2"/><stop offset="0.8100" stop-color="#8687c2"/><stop offset="0.8100" stop-color="#b1b2d9"/><stop offset="0.8200" stop-color="#b1b2d9"/><stop offset="0.8200" stop-color="#8788c3"/><stop offset="0.8300" stop-color="#8788c3"/><stop offset="0.8300" stop-color="#9a9bcc"/><stop offset="0.8400" stop-color="#9a9bcc"/><stop offset="0.8400" stop-color="#8788c3"/><stop offset="0.8500" stop-color="#8788c3"/><stop offset="0.8500" stop-color="#8889c4"/><stop offset="0.8600" stop-color="#8889c4"/><stop offset="0.8600" stop-color="#999acb"/><stop offset="0.8700" stop-color="#999acb"/><stop offset="0.8700" stop-color="#8485c0"/><stop offset="0.8800" stop-color="#8485c0"/><stop offset="0.8800" stop-color="#b1b2d9"/><stop offset="0.8900" stop-color="#b1b2d9"/><stop offset="0.8900" stop-color="#9c9dce"/><stop offset="0.9000" stop-color="#9c9dce"/><stop offset="0.9000" stop-color="#8788c3"/><stop offset="0.9100" stop-color="#8788c3"/><stop offset="0.9100" stop-color="#8788c3"/><stop offset="0.9200" stop-color="#8788c3"/><stop offset="0.9200" stop-color="#999acb"/><stop offset="0.9300" stop-color="#999acb"/><stop offset="0.9300" stop-color="#8788c3"/><stop offset="0.9400" stop-color="#8788c3"/><stop offset="0.9400" stop-color="#9e9fd0"/><stop offset="0.9500" stop-color="#9e9fd0"/><stop offset="0.9500" stop-color="#8788c3"/><stop offset="0.9600" stop-color="#8788c3"/><stop offset="0.9600" stop-color="#999acb"/><stop offset="0.9700" stop-color="#999acb"/><stop offset="0.9700" stop-color="#999acb"/><stop offset="0.9800" stop-color="#999acb"/><stop offset="0.9800" stop-color="#8687c2"/><stop offset="0.9900" stop-color="#8687c2"/><stop offset="0.9900" stop-color="#999acb"/><stop offset="1.0000" stop-color="#999acb"/></linearGradient></defs>
<rect x="474.90" y="326.55" width="112.80" height="26.53" fill="url(#gG3)"/>
<defs><linearGradient id="gG4" gradientUnits="userSpaceOnUse" x1="474.90" y1="0" x2="587.70" y2="0"><stop offset="0.0000" stop-color="#ede9f1"/><stop offset="0.0100" stop-color="#ede9f1"/><stop offset="0.0100" stop-color="#9b9ccd"/><stop offset="0.0200" stop-color="#9b9ccd"/><stop offset="0.0200" stop-color="#9e9fd0"/><stop offset="0.0300" stop-color="#9e9fd0"/><stop offset="0.0300" stop-color="#9a9bcc"/><stop offset="0.0400" stop-color="#9a9bcc"/><stop offset="0.0400" stop-color="#9a9bcc"/><stop offset="0.0500" stop-color="#9a9bcc"/><stop offset="0.0500" stop-color="#b3b4db"/><stop offset="0.0600" stop-color="#b3b4db"/><stop offset="0.0600" stop-color="#ebadb0"/><stop offset="0.0700" stop-color="#ebadb0"/><stop offset="0.0700" stop-color="#edafb2"/><stop offset="0.0800" stop-color="#edafb2"/><stop offset="0.0800" stop-color="#e27d81"/><stop offset="0.0900" stop-color="#e27d81"/><stop offset="0.0900" stop-color="#eeb0b3"/><stop offset="0.1000" stop-color="#eeb0b3"/><stop offset="0.1000" stop-color="#e68185"/><stop offset="0.1100" stop-color="#e68185"/><stop offset="0.1100" stop-color="#efb1b4"/><stop offset="0.1200" stop-color="#efb1b4"/><stop offset="0.1200" stop-color="#ecaeb1"/><stop offset="0.1300" stop-color="#ecaeb1"/><stop offset="0.1300" stop-color="#f0b2b5"/><stop offset="0.1400" stop-color="#f0b2b5"/><stop offset="0.1400" stop-color="#ede9f1"/><stop offset="0.1500" stop-color="#ede9f1"/><stop offset="0.1500" stop-color="#edafb2"/><stop offset="0.1600" stop-color="#edafb2"/><stop offset="0.1600" stop-color="#ecaeb1"/><stop offset="0.1700" stop-color="#ecaeb1"/><stop offset="0.1700" stop-color="#f2eef6"/><stop offset="0.1800" stop-color="#f2eef6"/><stop offset="0.1800" stop-color="#f2eef6"/><stop offset="0.1900" stop-color="#f2eef6"/><stop offset="0.1900" stop-color="#f2eef6"/><stop offset="0.2000" stop-color="#f2eef6"/><stop offset="0.2000" stop-color="#ecaeb1"/><stop offset="0.2100" stop-color="#ecaeb1"/><stop offset="0.2100" stop-color="#f0ecf4"/><stop offset="0.2200" stop-color="#f0ecf4"/><stop offset="0.2200" stop-color="#f2eef6"/><stop offset="0.2300" stop-color="#f2eef6"/><stop offset="0.2300" stop-color="#eeeaf2"/><stop offset="0.2400" stop-color="#eeeaf2"/><stop offset="0.2400" stop-color="#f0b2b5"/><stop offset="0.2500" stop-color="#f0b2b5"/><stop offset="0.2500" stop-color="#edafb2"/><stop offset="0.2600" stop-color="#edafb2"/><stop offset="0.2600" stop-color="#efb1b4"/><stop offset="0.2700" stop-color="#efb1b4"/><stop offset="0.2700" stop-color="#efb1b4"/><stop offset="0.2800" stop-color="#efb1b4"/><stop offset="0.2800" stop-color="#edafb2"/><stop offset="0.2900" stop-color="#edafb2"/><stop offset="0.2900" stop-color="#efb1b4"/><stop offset="0.3000" stop-color="#efb1b4"/><stop offset="0.3000" stop-color="#ebadb0"/><stop offset="0.3100" stop-color="#ebadb0"/><stop offset="0.3100" stop-color="#ebadb0"/><stop offset="0.3200" stop-color="#ebadb0"/><stop offset="0.3200" stop-color="#e27d81"/><stop offset="0.3300" stop-color="#e27d81"/><stop offset="0.3300" stop-color="#e58084"/><stop offset="0.3400" stop-color="#e58084"/><stop offset="0.3400" stop-color="#e78286"/><stop offset="0.3500" stop-color="#e78286"/><stop offset="0.3500" stop-color="#e27d81"/><stop offset="0.3600" stop-color="#e27d81"/><stop offset="0.3600" stop-color="#e78286"/><stop offset="0.3700" stop-color="#e78286"/><stop offset="0.3700" stop-color="#da565f"/><stop offset="0.3800" stop-color="#da565f"/><stop offset="0.3800" stop-color="#e68185"/><stop offset="0.3900" stop-color="#e68185"/><stop offset="0.3900" stop-color="#ecaeb1"/><stop offset="0.4000" stop-color="#ecaeb1"/><stop offset="0.4000" stop-color="#dc5861"/><stop offset="0.4100" stop-color="#dc5861"/><stop offset="0.4100" stop-color="#d1333d"/><stop offset="0.4200" stop-color="#d1333d"/><stop offset="0.4200" stop-color="#dd5962"/><stop offset="0.4300" stop-color="#dd5962"/><stop offset="0.4300" stop-color="#e58084"/><stop offset="0.4400" stop-color="#e58084"/><stop offset="0.4400" stop-color="#db5760"/><stop offset="0.4500" stop-color="#db5760"/><stop offset="0.4500" stop-color="#de5a63"/><stop offset="0.4600" stop-color="#de5a63"/><stop offset="0.4600" stop-color="#e37e82"/><stop offset="0.4700" stop-color="#e37e82"/><stop offset="0.4700" stop-color="#e47f83"/><stop offset="0.4800" stop-color="#e47f83"/><stop offset="0.4800" stop-color="#e37e82"/><stop offset="0.4900" stop-color="#e37e82"/><stop offset="0.4900" stop-color="#e37e82"/><stop offset="0.5000" stop-color="#e37e82"/><stop offset="0.5000" stop-color="#e27d81"/><stop offset="0.5100" stop-color="#e27d81"/><stop offset="0.5100" stop-color="#e27d81"/><stop offset="0.5200" stop-color="#e27d81"/><stop offset="0.5200" stop-color="#e27d81"/><stop offset="0.5300" stop-color="#e27d81"/><stop offset="0.5300" stop-color="#e47f83"/><stop offset="0.5400" stop-color="#e47f83"/><stop offset="0.5400" stop-color="#e78286"/><stop offset="0.5500" stop-color="#e78286"/><stop offset="0.5500" stop-color="#e58084"/><stop offset="0.5600" stop-color="#e58084"/><stop offset="0.5600" stop-color="#e78286"/><stop offset="0.5700" stop-color="#e78286"/><stop offset="0.5700" stop-color="#f0b2b5"/><stop offset="0.5800" stop-color="#f0b2b5"/><stop offset="0.5800" stop-color="#de5a63"/><stop offset="0.5900" stop-color="#de5a63"/><stop offset="0.5900" stop-color="#db5760"/><stop offset="0.6000" stop-color="#db5760"/><stop offset="0.6000" stop-color="#db5760"/><stop offset="0.6100" stop-color="#db5760"/><stop offset="0.6100" stop-color="#de5a63"/><stop offset="0.6200" stop-color="#de5a63"/><stop offset="0.6200" stop-color="#dd5962"/><stop offset="0.6300" stop-color="#dd5962"/><stop offset="0.6300" stop-color="#e37e82"/><stop offset="0.6400" stop-color="#e37e82"/><stop offset="0.6400" stop-color="#db5760"/><stop offset="0.6500" stop-color="#db5760"/><stop offset="0.6500" stop-color="#e37e82"/><stop offset="0.6600" stop-color="#e37e82"/><stop offset="0.6600" stop-color="#b1b2d9"/><stop offset="0.6700" stop-color="#b1b2d9"/><stop offset="0.6700" stop-color="#b3b4db"/><stop offset="0.6800" stop-color="#b3b4db"/><stop offset="0.6800" stop-color="#9b9ccd"/><stop offset="0.6900" stop-color="#9b9ccd"/><stop offset="0.6900" stop-color="#9e9fd0"/><stop offset="0.7000" stop-color="#9e9fd0"/><stop offset="0.7000" stop-color="#b6b7de"/><stop offset="0.7100" stop-color="#b6b7de"/><stop offset="0.7100" stop-color="#8687c2"/><stop offset="0.7200" stop-color="#8687c2"/><stop offset="0.7200" stop-color="#999acb"/><stop offset="0.7300" stop-color="#999acb"/><stop offset="0.7300" stop-color="#b5b6dd"/><stop offset="0.7400" stop-color="#b5b6dd"/><stop offset="0.7400" stop-color="#9a9bcc"/><stop offset="0.7500" stop-color="#9a9bcc"/><stop offset="0.7500" stop-color="#8687c2"/><stop offset="0.7600" stop-color="#8687c2"/><stop offset="0.7600" stop-color="#8687c2"/><stop offset="0.7700" stop-color="#8687c2"/><stop offset="0.7700" stop-color="#8788c3"/><stop offset="0.7800" stop-color="#8788c3"/><stop offset="0.7800" stop-color="#8889c4"/><stop offset="0.7900" stop-color="#8889c4"/><stop offset="0.7900" stop-color="#8384bf"/><stop offset="0.8000" stop-color="#8384bf"/><stop offset="0.8000" stop-color="#9c9dce"/><stop offset="0.8100" stop-color="#9c9dce"/><stop offset="0.8100" stop-color="#8586c1"/><stop offset="0.8200" stop-color="#8586c1"/><stop offset="0.8200" stop-color="#9a9bcc"/><stop offset="0.8300" stop-color="#9a9bcc"/><stop offset="0.8300" stop-color="#b5b6dd"/><stop offset="0.8400" stop-color="#b5b6dd"/><stop offset="0.8400" stop-color="#b3b4db"/><stop offset="0.8500" stop-color="#b3b4db"/><stop offset="0.8500" stop-color="#9c9dce"/><stop offset="0.8600" stop-color="#9c9dce"/><stop offset="0.8600" stop-color="#8384bf"/><stop offset="0.8700" stop-color="#8384bf"/><stop offset="0.8700" stop-color="#8889c4"/><stop offset="0.8800" stop-color="#8889c4"/><stop offset="0.8800" stop-color="#9a9bcc"/><stop offset="0.8900" stop-color="#9a9bcc"/><stop offset="0.8900" stop-color="#b6b7de"/><stop offset="0.9000" stop-color="#b6b7de"/><stop offset="0.9000" stop-color="#9d9ecf"/><stop offset="0.9100" stop-color="#9d9ecf"/><stop offset="0.9100" stop-color="#9d9ecf"/><stop offset="0.9200" stop-color="#9d9ecf"/><stop offset="0.9200" stop-color="#9e9fd0"/><stop offset="0.9300" stop-color="#9e9fd0"/><stop offset="0.9300" stop-color="#b6b7de"/><stop offset="0.9400" stop-color="#b6b7de"/><stop offset="0.9400" stop-color="#9a9bcc"/><stop offset="0.9500" stop-color="#9a9bcc"/><stop offset="0.9500" stop-color="#9b9ccd"/><stop offset="0.9600" stop-color="#9b9ccd"/><stop offset="0.9600" stop-color="#8889c4"/><stop offset="0.9700" stop-color="#8889c4"/><stop offset="0.9700" stop-color="#5e5eb0"/><stop offset="0.9800" stop-color="#5e5eb0"/><stop offset="0.9800" stop-color="#999acb"/><stop offset="0.9900" stop-color="#999acb"/><stop offset="0.9900" stop-color="#b6b7de"/><stop offset="1.0000" stop-color="#b6b7de"/></linearGradient></defs>
<rect x="474.90" y="353.00" width="112.80" height="26.53" fill="url(#gG4)"/>
<defs><linearGradient id="gG5" gradientUnits="userSpaceOnUse" x1="474.90" y1="0" x2="587.70" y2="0"><stop offset="0.0000" stop-color="#eeeaf2"/><stop offset="0.0100" stop-color="#eeeaf2"/><stop offset="0.0100" stop-color="#e37e82"/><stop offset="0.0200" stop-color="#e37e82"/><stop offset="0.0200" stop-color="#e27d81"/><stop offset="0.0300" stop-color="#e27d81"/><stop offset="0.0300" stop-color="#e68185"/><stop offset="0.0400" stop-color="#e68185"/><stop offset="0.0400" stop-color="#e47f83"/><stop offset="0.0500" stop-color="#e47f83"/><stop offset="0.0500" stop-color="#e47f83"/><stop offset="0.0600" stop-color="#e47f83"/><stop offset="0.0600" stop-color="#e37e82"/><stop offset="0.0700" stop-color="#e37e82"/><stop offset="0.0700" stop-color="#e27d81"/><stop offset="0.0800" stop-color="#e27d81"/><stop offset="0.0800" stop-color="#efb1b4"/><stop offset="0.0900" stop-color="#efb1b4"/><stop offset="0.0900" stop-color="#e27d81"/><stop offset="0.1000" stop-color="#e27d81"/><stop offset="0.1000" stop-color="#eeb0b3"/><stop offset="0.1100" stop-color="#eeb0b3"/><stop offset="0.1100" stop-color="#db5760"/><stop offset="0.1200" stop-color="#db5760"/><stop offset="0.1200" stop-color="#d9555e"/><stop offset="0.1300" stop-color="#d9555e"/><stop offset="0.1300" stop-color="#f0b2b5"/><stop offset="0.1400" stop-color="#f0b2b5"/><stop offset="0.1400" stop-color="#db5760"/><stop offset="0.1500" stop-color="#db5760"/><stop offset="0.1500" stop-color="#d9555e"/><stop offset="0.1600" stop-color="#d9555e"/><stop offset="0.1600" stop-color="#dd5962"/><stop offset="0.1700" stop-color="#dd5962"/><stop offset="0.1700" stop-color="#e68185"/><stop offset="0.1800" stop-color="#e68185"/><stop offset="0.1800" stop-color="#de5a63"/><stop offset="0.1900" stop-color="#de5a63"/><stop offset="0.1900" stop-color="#dd5962"/><stop offset="0.2000" stop-color="#dd5962"/><stop offset="0.2000" stop-color="#e27d81"/><stop offset="0.2100" stop-color="#e27d81"/><stop offset="0.2100" stop-color="#edafb2"/><stop offset="0.2200" stop-color="#edafb2"/><stop offset="0.2200" stop-color="#efebf3"/><stop offset="0.2300" stop-color="#efebf3"/><stop offset="0.2300" stop-color="#edafb2"/><stop offset="0.2400" stop-color="#edafb2"/><stop offset="0.2400" stop-color="#ebadb0"/><stop offset="0.2500" stop-color="#ebadb0"/><stop offset="0.2500" stop-color="#f0b2b5"/><stop offset="0.2600" stop-color="#f0b2b5"/><stop offset="0.2600" stop-color="#f0b2b5"/><stop offset="0.2700" stop-color="#f0b2b5"/><stop offset="0.2700" stop-color="#ebadb0"/><stop offset="0.2800" stop-color="#ebadb0"/><stop offset="0.2800" stop-color="#ebadb0"/><stop offset="0.2900" stop-color="#ebadb0"/><stop offset="0.2900" stop-color="#efb1b4"/><stop offset="0.3000" stop-color="#efb1b4"/><stop offset="0.3000" stop-color="#f0b2b5"/><stop offset="0.3100" stop-color="#f0b2b5"/><stop offset="0.3100" stop-color="#efb1b4"/><stop offset="0.3200" stop-color="#efb1b4"/><stop offset="0.3200" stop-color="#f2eef6"/><stop offset="0.3300" stop-color="#f2eef6"/><stop offset="0.3300" stop-color="#ebadb0"/><stop offset="0.3400" stop-color="#ebadb0"/><stop offset="0.3400" stop-color="#b2b3da"/><stop offset="0.3500" stop-color="#b2b3da"/><stop offset="0.3500" stop-color="#f1edf5"/><stop offset="0.3600" stop-color="#f1edf5"/><stop offset="0.3600" stop-color="#f2eef6"/><stop offset="0.3700" stop-color="#f2eef6"/><stop offset="0.3700" stop-color="#efb1b4"/><stop offset="0.3800" stop-color="#efb1b4"/><stop offset="0.3800" stop-color="#f0b2b5"/><stop offset="0.3900" stop-color="#f0b2b5"/><stop offset="0.3900" stop-color="#ede9f1"/><stop offset="0.4000" stop-color="#ede9f1"/><stop offset="0.4000" stop-color="#b3b4db"/><stop offset="0.4100" stop-color="#b3b4db"/><stop offset="0.4100" stop-color="#9b9ccd"/><stop offset="0.4200" stop-color="#9b9ccd"/><stop offset="0.4200" stop-color="#9e9fd0"/><stop offset="0.4300" stop-color="#9e9fd0"/><stop offset="0.4300" stop-color="#f1edf5"/><stop offset="0.4400" stop-color="#f1edf5"/><stop offset="0.4400" stop-color="#ebadb0"/><stop offset="0.4500" stop-color="#ebadb0"/><stop offset="0.4500" stop-color="#edafb2"/><stop offset="0.4600" stop-color="#edafb2"/><stop offset="0.4600" stop-color="#e27d81"/><stop offset="0.4700" stop-color="#e27d81"/><stop offset="0.4700" stop-color="#e78286"/><stop offset="0.4800" stop-color="#e78286"/><stop offset="0.4800" stop-color="#e78286"/><stop offset="0.4900" stop-color="#e78286"/><stop offset="0.4900" stop-color="#edafb2"/><stop offset="0.5000" stop-color="#edafb2"/><stop offset="0.5000" stop-color="#e78286"/><stop offset="0.5100" stop-color="#e78286"/><stop offset="0.5100" stop-color="#e47f83"/><stop offset="0.5200" stop-color="#e47f83"/><stop offset="0.5200" stop-color="#d9555e"/><stop offset="0.5300" stop-color="#d9555e"/><stop offset="0.5300" stop-color="#d9555e"/><stop offset="0.5400" stop-color="#d9555e"/><stop offset="0.5400" stop-color="#de5a63"/><stop offset="0.5500" stop-color="#de5a63"/><stop offset="0.5500" stop-color="#e78286"/><stop offset="0.5600" stop-color="#e78286"/><stop offset="0.5600" stop-color="#ecaeb1"/><stop offset="0.5700" stop-color="#ecaeb1"/><stop offset="0.5700" stop-color="#ecaeb1"/><stop offset="0.5800" stop-color="#ecaeb1"/><stop offset="0.5800" stop-color="#e58084"/><stop offset="0.5900" stop-color="#e58084"/><stop offset="0.5900" stop-color="#e37e82"/><stop offset="0.6000" stop-color="#e37e82"/><stop offset="0.6000" stop-color="#e47f83"/><stop offset="0.6100" stop-color="#e47f83"/><stop offset="0.6100" stop-color="#e68185"/><stop offset="0.6200" stop-color="#e68185"/><stop offset="0.6200" stop-color="#eeb0b3"/><stop offset="0.6300" stop-color="#eeb0b3"/><stop offset="0.6300" stop-color="#e27d81"/><stop offset="0.6400" stop-color="#e27d81"/><stop offset="0.6400" stop-color="#ebadb0"/><stop offset="0.6500" stop-color="#ebadb0"/><stop offset="0.6500" stop-color="#efb1b4"/><stop offset="0.6600" stop-color="#efb1b4"/><stop offset="0.6600" stop-color="#b3b4db"/><stop offset="0.6700" stop-color="#b3b4db"/><stop offset="0.6700" stop-color="#9b9ccd"/><stop offset="0.6800" stop-color="#9b9ccd"/><stop offset="0.6800" stop-color="#b6b7de"/><stop offset="0.6900" stop-color="#b6b7de"/><stop offset="0.6900" stop-color="#ede9f1"/><stop offset="0.7000" stop-color="#ede9f1"/><stop offset="0.7000" stop-color="#b2b3da"/><stop offset="0.7100" stop-color="#b2b3da"/><stop offset="0.7100" stop-color="#999acb"/><stop offset="0.7200" stop-color="#999acb"/><stop offset="0.7200" stop-color="#8384bf"/><stop offset="0.7300" stop-color="#8384bf"/><stop offset="0.7300" stop-color="#5e5eb0"/><stop offset="0.7400" stop-color="#5e5eb0"/><stop offset="0.7400" stop-color="#8687c2"/><stop offset="0.7500" stop-color="#8687c2"/><stop offset="0.7500" stop-color="#8889c4"/><stop offset="0.7600" stop-color="#8889c4"/><stop offset="0.7600" stop-color="#8586c1"/><stop offset="0.7700" stop-color="#8586c1"/><stop offset="0.7700" stop-color="#9c9dce"/><stop offset="0.7800" stop-color="#9c9dce"/><stop offset="0.7800" stop-color="#9b9ccd"/><stop offset="0.7900" stop-color="#9b9ccd"/><stop offset="0.7900" stop-color="#8384bf"/><stop offset="0.8000" stop-color="#8384bf"/><stop offset="0.8000" stop-color="#9d9ecf"/><stop offset="0.8100" stop-color="#9d9ecf"/><stop offset="0.8100" stop-color="#8889c4"/><stop offset="0.8200" stop-color="#8889c4"/><stop offset="0.8200" stop-color="#8788c3"/><stop offset="0.8300" stop-color="#8788c3"/><stop offset="0.8300" stop-color="#9b9ccd"/><stop offset="0.8400" stop-color="#9b9ccd"/><stop offset="0.8400" stop-color="#6262b4"/><stop offset="0.8500" stop-color="#6262b4"/><stop offset="0.8500" stop-color="#8384bf"/><stop offset="0.8600" stop-color="#8384bf"/><stop offset="0.8600" stop-color="#8687c2"/><stop offset="0.8700" stop-color="#8687c2"/><stop offset="0.8700" stop-color="#9d9ecf"/><stop offset="0.8800" stop-color="#9d9ecf"/><stop offset="0.8800" stop-color="#9c9dce"/><stop offset="0.8900" stop-color="#9c9dce"/><stop offset="0.8900" stop-color="#b1b2d9"/><stop offset="0.9000" stop-color="#b1b2d9"/><stop offset="0.9000" stop-color="#9c9dce"/><stop offset="0.9100" stop-color="#9c9dce"/><stop offset="0.9100" stop-color="#9c9dce"/><stop offset="0.9200" stop-color="#9c9dce"/><stop offset="0.9200" stop-color="#9e9fd0"/><stop offset="0.9300" stop-color="#9e9fd0"/><stop offset="0.9300" stop-color="#b3b4db"/><stop offset="0.9400" stop-color="#b3b4db"/><stop offset="0.9400" stop-color="#999acb"/><stop offset="0.9500" stop-color="#999acb"/><stop offset="0.9500" stop-color="#9b9ccd"/><stop offset="0.9600" stop-color="#9b9ccd"/><stop offset="0.9600" stop-color="#9e9fd0"/><stop offset="0.9700" stop-color="#9e9fd0"/><stop offset="0.9700" stop-color="#8788c3"/><stop offset="0.9800" stop-color="#8788c3"/><stop offset="0.9800" stop-color="#9e9fd0"/><stop offset="0.9900" stop-color="#9e9fd0"/><stop offset="0.9900" stop-color="#9c9dce"/><stop offset="1.0000" stop-color="#9c9dce"/></linearGradient></defs>
<rect x="474.90" y="379.45" width="112.80" height="26.53" fill="url(#gG5)"/>
<rect x="472.0" y="247.20" width="2.90" height="79.35" fill="#ef8f92"/>
<rect x="472.0" y="326.55" width="2.90" height="79.35" fill="#21c2cc"/>
<text x="588.90" y="262.62" font-family="Liberation Sans, sans-serif" font-size="3.4" font-weight="normal" text-anchor="start" fill="#222">E19_layer3</text>
<text x="588.90" y="289.07" font-family="Liberation Sans, sans-serif" font-size="3.4" font-weight="normal" text-anchor="start" fill="#222">E19_layer1</text>
<text x="588.90" y="315.52" font-family="Liberation Sans, sans-serif" font-size="3.4" font-weight="normal" text-anchor="start" fill="#222">E19_layer2</text>
<text x="588.90" y="341.97" font-family="Liberation Sans, sans-serif" font-size="3.4" font-weight="normal" text-anchor="start" fill="#222">E19_broiler1</text>
<text x="588.90" y="368.42" font-family="Liberation Sans, sans-serif" font-size="3.4" font-weight="normal" text-anchor="start" fill="#222">E19_broiler2</text>
<text x="588.90" y="394.87" font-family="Liberation Sans, sans-serif" font-size="3.4" font-weight="normal" text-anchor="start" fill="#222">E19_broiler3</text>
<text x="532.20" y="244.90" font-family="Liberation Sans, sans-serif" font-size="4.5" font-weight="bold" text-anchor="middle" fill="#111" textLength="99.9" lengthAdjust="spacingAndGlyphs">Heatmap of Differential expression circRNA at E19</text>
<path d="M472.0 260.43 H465.2 V300.10 H466.2 M472.0 286.88 H466.2 V313.32 H472.0 M472.0 339.77 H462.9 V379.45 H465.2 M472.0 366.22 H465.2 V392.67 H472.0 M465.2 280.26 H454.8 V359.61 H462.9" fill="none" stroke="#606060" stroke-width="0.85"/>
<defs><linearGradient id="lg" x1="0" y1="0" x2="0" y2="1"><stop offset="0" stop-color="#c81e28"/><stop offset="0.5" stop-color="#ffffff"/><stop offset="1" stop-color="#00007a"/></linearGradient></defs>
<rect x="609.5" y="247.2" width="3.2" height="51.7" fill="url(#lg)"/>
<text x="614.00" y="253.90" font-family="Liberation Sans, sans-serif" font-size="3.3" font-weight="normal" text-anchor="start" fill="#333">1.5</text>
<text x="614.00" y="260.20" font-family="Liberation Sans, sans-serif" font-size="3.3" font-weight="normal" text-anchor="start" fill="#333">1</text>
<text x="614.00" y="267.10" font-family="Liberation Sans, sans-serif" font-size="3.3" font-weight="normal" text-anchor="start" fill="#333">0.5</text>
<text x="614.00" y="273.50" font-family="Liberation Sans, sans-serif" font-size="3.3" font-weight="normal" text-anchor="start" fill="#333">0</text>
<text x="614.00" y="280.40" font-family="Liberation Sans, sans-serif" font-size="3.3" font-weight="normal" text-anchor="start" fill="#333">-0.5</text>
<text x="614.00" y="286.90" font-family="Liberation Sans, sans-serif" font-size="3.3" font-weight="normal" text-anchor="start" fill="#333">-1</text>
<text x="614.00" y="294.00" font-family="Liberation Sans, sans-serif" font-size="3.3" font-weight="normal" text-anchor="start" fill="#333">-1.5</text>
<text x="622.30" y="248.90" font-family="Liberation Sans, sans-serif" font-size="3.3" font-weight="bold" text-anchor="start" fill="#222">SampleClass</text>
<rect x="622.3" y="251.1" width="4.3" height="3.9" fill="#21c2cc"/>
<rect x="622.3" y="255.0" width="4.3" height="3.9" fill="#ef8f92"/>
<text x="627.60" y="254.20" font-family="Liberation Sans, sans-serif" font-size="3.0" font-weight="normal" text-anchor="start" fill="#333">Broiler</text>
<text x="627.60" y="258.10" font-family="Liberation Sans, sans-serif" font-size="3.0" font-weight="normal" text-anchor="start" fill="#333">Layer</text>
</svg></body></html>
